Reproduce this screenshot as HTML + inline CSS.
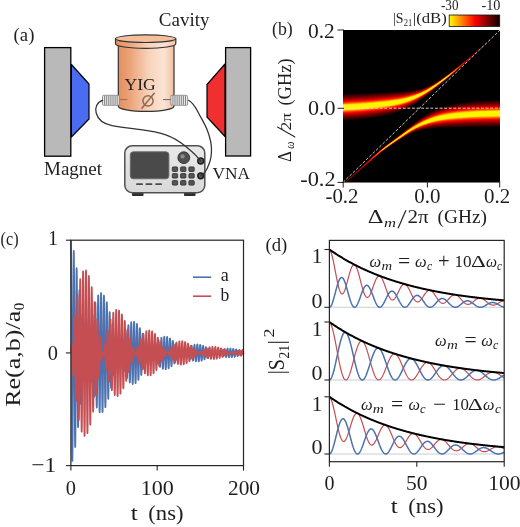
<!DOCTYPE html>
<html><head><meta charset="utf-8"><title>figure</title>
<style>html,body{margin:0;padding:0;background:#fff}svg{display:block}text{font-family:'Liberation Serif', 'DejaVu Serif', serif}</style></head>
<body>
<svg width="520" height="527" viewBox="0 0 520 527">
<rect width="520" height="527" fill="#fff"/>
<g id="pa">
<rect x="44.6" y="47.6" width="26.2" height="108.6" fill="#b9b9b9" stroke="#000" stroke-width="1.3"/>
<polygon points="71.4,64.5 89,84 89,119 71.4,137" fill="#4a6cf0" stroke="#000" stroke-width="1.2" stroke-linejoin="round"/>
<rect x="225.6" y="47.6" width="25" height="108.4" fill="#b9b9b9" stroke="#000" stroke-width="1.3"/>
<polygon points="225,64 207,84.5 207,117 225,136.5" fill="#f03030" stroke="#000" stroke-width="1.2" stroke-linejoin="round"/>
<defs><linearGradient id="cg" x1="0" x2="1" y1="0" y2="0"><stop offset="0" stop-color="#e48d5c"/><stop offset="0.22" stop-color="#eca57a"/><stop offset="0.55" stop-color="#f7d3bb"/><stop offset="0.82" stop-color="#fbe4d5"/><stop offset="1" stop-color="#f2c0a0"/></linearGradient></defs>
<path d="M118.3,44 L118.3,106.2 A27.85,5.2 0 0 0 174,106.2 L174,44 Z" fill="url(#cg)" stroke="#333" stroke-width="1.2" stroke-linejoin="round"/>
<path d="M115.5,38.7 L115.5,43.7 A30.15,4.7 0 0 0 175.8,43.7 L175.8,38.7 Z" fill="url(#cg)" stroke="#333" stroke-width="1.2" stroke-linejoin="round"/>
<ellipse cx="145.65" cy="38.7" rx="30.15" ry="3.8" fill="#f4c09c" stroke="#333" stroke-width="1.2"/>
<rect x="102.5" y="95.3" width="16.8" height="10" rx="1.2" fill="#ececec" stroke="#7a7a7a" stroke-width="0.8"/>
<line x1="104.6" y1="95.8" x2="104.6" y2="104.8" stroke="#808080" stroke-width="1"/>
<line x1="106.7" y1="95.8" x2="106.7" y2="104.8" stroke="#808080" stroke-width="1"/>
<line x1="108.8" y1="95.8" x2="108.8" y2="104.8" stroke="#808080" stroke-width="1"/>
<line x1="110.9" y1="95.8" x2="110.9" y2="104.8" stroke="#808080" stroke-width="1"/>
<line x1="113.0" y1="95.8" x2="113.0" y2="104.8" stroke="#808080" stroke-width="1"/>
<line x1="115.1" y1="95.8" x2="115.1" y2="104.8" stroke="#808080" stroke-width="1"/>
<line x1="117.2" y1="95.8" x2="117.2" y2="104.8" stroke="#808080" stroke-width="1"/>
<rect x="170.8" y="95.3" width="16.8" height="10" rx="1.2" fill="#ececec" stroke="#7a7a7a" stroke-width="0.8"/>
<line x1="172.9" y1="95.8" x2="172.9" y2="104.8" stroke="#808080" stroke-width="1"/>
<line x1="175.0" y1="95.8" x2="175.0" y2="104.8" stroke="#808080" stroke-width="1"/>
<line x1="177.1" y1="95.8" x2="177.1" y2="104.8" stroke="#808080" stroke-width="1"/>
<line x1="179.2" y1="95.8" x2="179.2" y2="104.8" stroke="#808080" stroke-width="1"/>
<line x1="181.3" y1="95.8" x2="181.3" y2="104.8" stroke="#808080" stroke-width="1"/>
<line x1="183.4" y1="95.8" x2="183.4" y2="104.8" stroke="#808080" stroke-width="1"/>
<line x1="185.5" y1="95.8" x2="185.5" y2="104.8" stroke="#808080" stroke-width="1"/>
<line x1="120" y1="99.6" x2="127.4" y2="99.6" stroke="#a06a48" stroke-width="1"/>
<line x1="163" y1="99.6" x2="170.8" y2="99.6" stroke="#666" stroke-width="1"/>
<circle cx="148" cy="100.8" r="5.1" fill="none" stroke="#8f6a55" stroke-width="1.5"/>
<line x1="141.5" y1="108.8" x2="154.6" y2="92.8" stroke="#8f6a55" stroke-width="1.5"/>
<defs><linearGradient id="vg" x1="0" x2="0" y1="0" y2="1"><stop offset="0" stop-color="#e9e9e9"/><stop offset="1" stop-color="#d9d9d9"/></linearGradient></defs>
<rect x="132" y="192.5" width="11.5" height="3.6" rx="0.8" fill="#2e2e2e"/>
<rect x="184" y="192.5" width="11.5" height="3.6" rx="0.8" fill="#2e2e2e"/>
<rect x="124.8" y="145.7" width="80" height="47" rx="7.5" fill="url(#vg)" stroke="#505050" stroke-width="1.5"/>
<rect x="130.3" y="151.8" width="38.6" height="27" rx="3" fill="#4a4a4a" stroke="#6a6a6a" stroke-width="0.9"/>
<circle cx="183.8" cy="157.7" r="5.9" fill="#4f4f4f" stroke="#2e2e2e" stroke-width="0.9"/>
<circle cx="182.6" cy="156.4" r="2.2" fill="#8a8a8a"/>
<rect x="172.3" y="166.9" width="5.3" height="4.6" rx="0.9" fill="#555" stroke="#333" stroke-width="0.9"/>
<rect x="180.6" y="166.9" width="5.3" height="4.6" rx="0.9" fill="#555" stroke="#333" stroke-width="0.9"/>
<rect x="188.9" y="166.9" width="5.3" height="4.6" rx="0.9" fill="#555" stroke="#333" stroke-width="0.9"/>
<rect x="172.3" y="173.6" width="5.3" height="4.5" rx="0.9" fill="#555" stroke="#333" stroke-width="0.9"/>
<rect x="180.6" y="173.6" width="5.3" height="4.5" rx="0.9" fill="#555" stroke="#333" stroke-width="0.9"/>
<rect x="188.9" y="173.6" width="5.3" height="4.5" rx="0.9" fill="#555" stroke="#333" stroke-width="0.9"/>
<rect x="172.3" y="180.6" width="5.3" height="4.5" rx="0.9" fill="#555" stroke="#333" stroke-width="0.9"/>
<rect x="180.6" y="180.6" width="5.3" height="4.5" rx="0.9" fill="#555" stroke="#333" stroke-width="0.9"/>
<rect x="188.9" y="180.6" width="5.3" height="4.5" rx="0.9" fill="#555" stroke="#333" stroke-width="0.9"/>
<rect x="136.2" y="183.2" width="6.7" height="1.9" rx="0.5" fill="#4a4a4a"/>
<rect x="145.6" y="183.2" width="6.7" height="1.9" rx="0.5" fill="#4a4a4a"/>
<rect x="155.3" y="183.2" width="6.6" height="1.9" rx="0.5" fill="#4a4a4a"/>
<circle cx="200.7" cy="161" r="2.9" fill="#5a5a5a" stroke="#1e1e1e" stroke-width="1.5"/>
<circle cx="200.7" cy="175.8" r="2.9" fill="#5a5a5a" stroke="#1e1e1e" stroke-width="1.5"/>
<path d="M102.6,100.3 C97,102 94.5,108 96.2,113 C98,120 104,124 112,125.6 C122,127.6 130,128.3 138.8,129.4 C149,130.7 158,132 165.8,134.8 C174,137.8 179,141 184.6,145.6 C190,150 193.5,153 196.7,156.4 L200.7,161" fill="none" stroke="#333" stroke-width="1.25" stroke-linecap="round"/>
<path d="M188.6,100.3 C193,103 195.5,107 198,112 C201.5,119 205,124 207.5,130.8 C210,137.5 211.5,143 211.5,149.6 C211.5,155 211,159 209.4,163 C208,167 206.5,170 204.8,172.5 L200.7,175.8" fill="none" stroke="#333" stroke-width="1.25" stroke-linecap="round"/>
<text x="13.6" y="40.8" font-size="18" fill="#1e1e1e" text-anchor="start" textLength="20.8" lengthAdjust="spacingAndGlyphs">(a)</text>
<text x="158.8" y="25.5" font-size="19" fill="#1e1e1e" text-anchor="start" textLength="50.7" lengthAdjust="spacingAndGlyphs">Cavity</text>
<text x="44.0" y="175.0" font-size="19" fill="#1e1e1e" text-anchor="start" textLength="58.0" lengthAdjust="spacingAndGlyphs">Magnet</text>
<text x="212.5" y="179.4" font-size="17.5" fill="#1e1e1e" text-anchor="start" textLength="37.5" lengthAdjust="spacingAndGlyphs">VNA</text>
<text x="124.6" y="89.7" font-size="16.5" fill="#222" text-anchor="start" textLength="31.2" lengthAdjust="spacingAndGlyphs">YIG</text>
</g>
<g id="pb">
<defs><clipPath id="hc"><rect x="343.0" y="30.0" width="157.0" height="152.4"/></clipPath><filter id="hb" x="-5%" y="-5%" width="110%" height="110%"><feGaussianBlur stdDeviation="0.55"/></filter></defs>
<rect x="343.0" y="30.0" width="157.0" height="152.4" fill="#000"/>
<g clip-path="url(#hc)"><g filter="url(#hb)">
<rect x="343.0" y="30.0" width="157.0" height="152.4" fill="#000"/>
<path d="M491.2,38.8 487.0,43.2 482.5,47.4 478.0,51.4 473.5,55.5 469.0,59.5 464.5,63.5 459.9,67.5 455.3,71.5 450.8,75.4 446.0,79.4 441.2,83.4 436.6,87.2 431.8,91.2 427.1,95.0 422.2,98.7 417.2,102.2 412.0,105.5 406.8,108.4 401.2,110.8 395.5,112.7 389.7,114.3 383.8,115.5 377.8,116.7 371.8,117.6 365.8,118.4 359.8,119.1 353.8,119.6 347.8,120.1 343.0,120.4 343.0,114.2 343.0,108.0 343.0,101.8 343.0,95.5 343.0,94.4 349.0,94.2 355.0,94.0 361.0,93.7 367.0,93.5 373.0,93.2 379.0,92.9 385.0,92.6 391.0,92.3 397.0,92.0 403.0,91.6 409.0,91.1 415.0,90.3 420.9,89.0 426.8,87.1 432.2,84.6 437.5,81.6 442.7,78.2 447.7,74.8 452.8,71.0 457.5,67.3 462.2,63.5 467.0,59.5 471.7,55.5 476.4,51.5 481.0,47.5 485.6,43.5 490.2,39.6 491.2,38.8ZM496.6,100.5 500.0,100.5 500.0,106.8 500.0,113.0 500.0,119.2 500.0,125.5 500.0,126.6 494.0,126.6 488.0,126.6 482.0,126.7 476.0,126.8 470.0,126.8 464.0,126.9 458.0,127.1 452.0,127.2 446.0,127.4 440.0,127.6 434.0,128.0 428.0,128.6 422.0,129.7 416.2,131.2 410.5,133.5 405.1,136.2 399.8,139.5 394.5,142.7 389.5,146.0 384.5,149.5 379.6,153.2 374.8,157.2 370.1,161.2 365.5,165.2 360.9,169.2 356.4,173.2 351.9,177.2 347.2,181.4 346.2,182.2 345.0,182.2 349.5,178.1 354.0,174.0 358.5,169.9 363.0,165.8 367.5,161.8 372.0,157.7 376.5,153.7 381.2,149.5 386.0,145.7 390.8,142.0 395.6,138.2 400.5,134.5 405.2,130.5 410.0,126.7 414.8,122.9 419.7,119.2 424.8,115.8 430.0,112.7 435.4,110.0 441.0,107.8 446.7,106.0 452.8,104.6 458.8,103.5 464.8,102.7 470.8,102.1 476.8,101.5 482.8,101.1 488.8,100.8 494.7,100.6 496.6,100.5Z" fill="#290000" fill-rule="evenodd"/>
<path d="M489.5,40.5 489.5,40.5ZM489.2,40.8 489.2,40.8ZM488.8,41.0 488.8,41.0ZM488.5,41.2 488.8,41.1 484.5,45.3 480.0,49.5 475.6,53.5 471.0,57.6 466.5,61.6 461.8,65.8 457.2,69.7 452.6,73.8 447.9,77.8 443.0,81.8 438.2,85.7 433.5,89.6 428.8,93.4 423.8,97.2 418.8,100.8 413.7,104.0 408.3,107.0 402.8,109.5 397.1,111.5 391.2,113.1 385.2,114.4 379.2,115.6 373.2,116.5 367.2,117.3 361.2,118.0 355.2,118.6 349.2,119.1 343.2,119.5 343.0,119.5 343.0,113.2 343.0,107.0 343.0,100.8 343.0,95.3 349.0,95.1 355.0,94.9 361.0,94.6 367.0,94.4 373.0,94.1 379.0,93.8 385.0,93.4 391.0,93.1 397.0,92.7 403.0,92.3 409.0,91.7 415.0,90.8 421.0,89.4 426.8,87.3 432.2,84.8 437.5,81.8 442.5,78.5 447.5,75.0 452.5,71.3 457.2,67.6 462.0,63.8 466.8,59.8 471.5,55.8 476.2,51.8 480.9,47.8 485.5,43.8 488.5,41.2ZM494.4,101.5 500.0,101.3 500.0,107.5 500.0,113.8 500.0,120.0 500.0,125.6 494.0,125.7 488.0,125.7 482.0,125.8 476.0,125.9 470.0,126.0 464.0,126.1 458.0,126.2 452.0,126.4 446.0,126.6 440.0,126.9 434.0,127.4 428.0,128.1 422.0,129.2 416.0,131.0 410.4,133.2 405.0,136.1 399.9,139.2 394.8,142.4 389.7,145.8 384.8,149.2 379.8,153.0 375.0,157.0 370.2,161.0 365.6,165.0 361.0,169.0 356.5,173.0 352.0,177.0 347.5,181.1 346.0,182.2 345.2,182.2 349.8,178.0 354.2,173.9 358.8,169.8 363.2,165.7 367.8,161.6 372.2,157.6 376.8,153.6 381.2,149.6 386.0,145.8 390.8,142.1 395.8,138.3 400.7,134.5 405.5,130.5 410.2,126.8 415.0,123.0 419.9,119.5 425.0,116.1 430.2,113.1 435.7,110.5 441.5,108.3 447.5,106.6 453.5,105.3 459.5,104.2 465.5,103.5 471.5,102.9 477.5,102.4 483.5,102.0 489.5,101.7 494.4,101.5Z" fill="#3d0000" fill-rule="evenodd"/>
<path d="M487.2,42.5 487.2,42.5ZM487.0,42.8 487.0,42.8ZM486.7,43.0 486.7,43.0ZM486.3,43.2 486.3,43.2ZM486.0,43.5 486.2,43.3 481.8,47.7 477.2,51.9 472.7,55.9 468.2,59.9 463.8,63.9 459.1,68.0 454.5,72.0 449.8,76.0 445.0,80.0 440.2,83.9 435.6,87.8 430.8,91.6 425.8,95.4 420.8,99.0 415.8,102.3 410.5,105.3 405.0,108.0 399.2,110.2 393.2,111.9 387.2,113.3 381.2,114.4 375.2,115.5 369.2,116.3 363.2,117.0 357.2,117.6 351.2,118.1 345.2,118.5 343.0,118.6 343.0,112.5 343.0,106.2 343.0,100.0 343.0,96.2 349.0,96.0 355.0,95.7 361.0,95.5 367.0,95.2 373.0,94.9 379.0,94.5 385.0,94.2 391.0,93.8 397.0,93.4 403.0,92.9 409.0,92.2 415.0,91.2 420.9,89.8 426.8,87.6 432.2,85.0 437.5,81.9 442.7,78.5 447.7,75.0 452.5,71.4 457.2,67.7 462.0,63.9 466.7,60.0 471.4,56.0 476.0,52.1 480.8,48.0 485.4,44.0 486.0,43.5ZM497.4,102.2 500.0,102.2 500.0,108.5 500.0,114.8 500.0,121.0 500.0,124.8 494.0,124.8 488.0,124.9 482.0,125.0 476.0,125.0 470.0,125.2 464.0,125.3 458.0,125.5 452.0,125.7 446.0,125.9 440.0,126.3 434.0,126.8 428.0,127.6 422.0,128.8 416.2,130.6 410.5,133.0 405.0,135.9 399.8,139.2 394.5,142.5 389.5,145.8 384.5,149.3 379.7,153.0 375.0,156.9 370.4,160.8 365.8,164.8 361.2,168.7 356.8,172.7 352.2,176.7 347.7,180.7 346.0,182.2 345.3,182.2 349.8,178.1 354.2,174.0 358.8,169.8 363.2,165.8 367.8,161.7 372.2,157.6 376.8,153.6 381.5,149.5 386.2,145.8 391.0,142.0 396.0,138.2 400.8,134.6 405.5,130.8 410.2,127.0 415.0,123.3 420.0,119.8 425.1,116.5 430.5,113.5 436.0,111.0 441.8,108.9 447.6,107.2 453.5,106.0 459.5,105.0 465.5,104.3 471.5,103.7 477.5,103.2 483.5,102.8 489.5,102.6 495.5,102.3 497.4,102.2Z" fill="#510000" fill-rule="evenodd"/>
<path d="M484.7,44.8 484.7,44.8ZM484.5,45.0 484.5,45.0ZM484.2,45.2 484.2,45.2ZM483.8,45.5 483.8,45.5ZM483.4,45.8 483.8,45.5 479.5,49.8 475.0,53.8 470.5,57.8 466.0,61.8 461.3,66.0 456.8,69.9 452.0,74.0 447.3,78.0 442.5,81.9 437.8,85.8 433.0,89.6 428.2,93.3 423.2,97.0 418.2,100.4 413.0,103.5 407.7,106.2 402.0,108.6 396.2,110.5 390.2,112.0 384.2,113.2 378.3,114.2 372.2,115.2 366.2,115.9 360.2,116.5 354.2,117.0 348.3,117.5 343.0,117.8 343.0,111.5 343.0,105.2 343.0,99.0 343.0,97.0 349.0,96.7 355.0,96.5 361.0,96.2 367.0,95.9 373.0,95.6 379.0,95.3 385.0,94.9 391.0,94.5 397.0,94.0 403.0,93.4 409.0,92.7 415.0,91.6 421.0,90.0 426.8,87.9 432.2,85.2 437.5,82.1 442.5,78.8 447.5,75.2 452.5,71.5 457.2,67.8 462.0,64.0 466.8,60.0 471.5,56.0 476.2,52.0 480.9,48.0 483.4,45.8ZM498.9,103.0 500.0,103.0 500.0,109.2 500.0,115.5 500.0,121.8 500.0,124.0 494.0,124.0 488.0,124.1 482.0,124.2 476.0,124.3 470.0,124.4 464.0,124.6 458.0,124.7 452.0,125.0 446.0,125.3 440.0,125.7 434.0,126.3 428.0,127.2 422.0,128.5 416.2,130.3 410.5,132.8 405.0,135.7 399.8,139.0 394.8,142.2 389.8,145.5 384.8,149.0 380.0,152.6 375.3,156.5 370.8,160.4 366.0,164.5 361.4,168.5 356.9,172.5 352.4,176.5 347.8,180.7 346.0,182.2 345.3,182.2 349.8,178.2 354.2,174.0 358.8,169.9 363.2,165.8 367.8,161.8 372.2,157.8 376.7,153.8 381.2,149.8 385.9,146.0 390.8,142.3 395.8,138.5 400.7,134.8 405.5,130.9 410.2,127.2 415.1,123.5 420.2,120.0 425.4,116.8 430.8,113.9 436.2,111.4 442.0,109.4 448.0,107.8 454.0,106.6 460.0,105.7 466.0,105.0 472.0,104.4 478.0,104.0 484.0,103.6 490.0,103.3 496.0,103.1 498.9,103.0Z" fill="#640000" fill-rule="evenodd"/>
<path d="M482.2,47.0 482.2,47.0ZM482.0,47.2 482.0,47.2ZM481.6,47.5 481.6,47.5ZM481.2,47.8 481.5,47.6 480.5,48.7 481.2,47.8ZM480.1,48.8 480.4,48.8 476.0,52.8 471.5,56.9 467.0,60.9 462.5,64.9 457.8,69.0 453.1,73.0 448.5,76.9 443.8,80.8 439.0,84.7 434.2,88.5 429.5,92.2 424.6,95.8 419.5,99.2 414.2,102.4 408.8,105.2 403.2,107.6 397.5,109.5 391.5,111.1 385.5,112.3 379.5,113.4 373.5,114.3 367.5,115.0 361.5,115.7 355.5,116.2 349.5,116.7 343.5,117.1 343.0,117.0 343.0,110.8 343.0,104.5 343.0,98.2 343.0,97.7 349.0,97.5 355.0,97.2 361.0,96.9 367.0,96.6 373.0,96.3 379.0,95.9 385.0,95.5 391.0,95.1 397.0,94.6 403.0,94.0 409.0,93.2 415.0,92.0 421.0,90.3 426.7,88.1 432.3,85.4 437.4,82.2 442.5,78.9 447.5,75.3 452.5,71.6 457.2,67.9 462.0,64.0 466.8,60.1 471.5,56.1 476.2,52.1 480.1,48.8ZM498.6,103.8 500.0,103.8 500.0,110.0 500.0,116.2 500.0,122.5 500.0,123.2 494.0,123.3 488.0,123.4 482.0,123.5 476.0,123.6 470.0,123.7 464.0,123.9 458.0,124.1 452.0,124.3 446.0,124.7 440.0,125.1 434.0,125.8 428.0,126.7 422.0,128.1 416.2,130.0 410.8,132.4 405.2,135.4 400.0,138.8 394.9,142.0 389.8,145.5 384.8,149.0 379.8,152.8 375.0,156.7 370.2,160.7 365.6,164.8 361.0,168.8 356.5,172.8 352.0,176.8 347.5,180.8 345.8,182.2 345.4,182.2 350.0,178.0 354.5,173.9 359.0,169.8 363.5,165.7 368.0,161.6 372.5,157.6 377.0,153.6 381.6,149.5 386.4,145.8 391.2,142.0 396.2,138.3 401.2,134.5 406.0,130.6 410.8,127.0 415.8,123.3 420.8,120.0 426.0,116.8 431.4,114.0 437.0,111.6 442.7,109.8 448.7,108.3 454.8,107.1 460.8,106.3 466.8,105.6 472.8,105.0 478.8,104.6 484.8,104.3 490.7,104.0 496.8,103.8 498.6,103.8Z" fill="#780000" fill-rule="evenodd"/>
<path d="M479.7,49.2 479.7,49.2ZM479.4,49.5 479.4,49.5ZM479.0,49.8 479.2,49.6 478.5,50.4 479.0,49.8ZM478.2,50.5 478.5,50.5 478.2,50.6 478.2,50.5ZM477.9,50.8 478.1,50.8 477.9,50.8ZM477.6,51.0 477.9,51.0 473.2,55.2 468.7,59.2 464.2,63.2 459.7,67.2 455.1,71.2 450.4,75.2 445.8,79.1 441.0,82.9 436.2,86.7 431.5,90.5 426.5,94.2 421.5,97.6 416.2,100.9 410.8,103.9 405.2,106.4 399.5,108.4 393.7,110.0 387.8,111.3 381.8,112.4 375.8,113.3 369.8,114.1 363.8,114.8 357.8,115.4 351.8,115.8 345.8,116.2 343.0,116.4 343.0,110.2 343.0,104.0 343.0,98.4 349.0,98.2 355.0,97.9 361.0,97.6 367.0,97.3 373.0,96.9 379.0,96.5 385.0,96.1 391.0,95.6 397.0,95.1 403.0,94.4 409.0,93.6 415.0,92.4 421.0,90.6 426.8,88.3 432.2,85.5 437.5,82.3 442.5,79.0 447.4,75.5 452.2,71.9 457.0,68.1 461.8,64.3 466.5,60.4 471.1,56.5 475.8,52.6 477.6,51.0ZM496.6,104.5 500.0,104.5 500.0,110.8 500.0,117.0 500.0,122.6 494.0,122.6 488.0,122.7 482.0,122.8 476.0,122.9 470.0,123.0 464.0,123.2 458.0,123.5 452.0,123.8 446.0,124.1 440.0,124.6 434.0,125.3 428.0,126.4 422.0,127.8 416.3,129.8 410.8,132.2 405.3,135.2 400.2,138.5 395.1,141.8 390.0,145.2 385.0,148.7 380.0,152.5 375.2,156.4 370.5,160.5 365.8,164.5 361.2,168.5 356.8,172.5 352.2,176.5 347.8,180.6 345.8,182.2 345.5,182.2 350.0,178.1 354.4,174.0 359.0,169.8 363.5,165.8 368.0,161.7 372.5,157.6 377.0,153.6 381.7,149.5 386.5,145.8 391.2,142.1 396.1,138.5 401.0,134.8 405.8,131.0 410.6,127.2 415.7,123.6 420.8,120.2 426.0,117.2 431.5,114.4 437.2,112.0 443.0,110.2 449.0,108.8 455.0,107.7 461.0,106.8 467.0,106.2 473.0,105.7 479.0,105.3 485.0,105.0 491.0,104.7 496.6,104.5Z" fill="#8c0000" fill-rule="evenodd"/>
<path d="M477.5,51.2 477.5,51.2ZM477.1,51.5 477.1,51.5ZM476.7,51.8 477.0,51.6 476.2,52.4 476.7,51.8ZM475.9,52.5 476.1,52.5 475.9,52.5ZM475.6,52.8 475.9,52.8 475.6,52.8ZM475.3,53.0 475.3,53.0ZM475.0,53.2 475.2,53.1 470.9,57.2 466.4,61.2 461.9,65.2 457.3,69.2 452.6,73.2 448.0,77.2 443.3,81.0 438.6,84.8 433.9,88.5 429.0,92.2 424.0,95.7 418.9,99.0 413.7,102.0 408.2,104.7 402.5,107.0 396.7,108.7 390.8,110.1 384.8,111.3 378.8,112.3 372.8,113.2 366.8,113.9 360.8,114.5 354.8,115.0 348.8,115.4 343.0,115.8 343.0,109.5 343.0,103.2 343.0,99.0 349.0,98.8 355.0,98.5 361.0,98.2 367.0,97.9 373.0,97.5 379.0,97.1 385.0,96.7 391.0,96.2 397.0,95.6 403.0,94.9 409.0,94.0 415.0,92.7 420.8,91.0 426.5,88.6 432.0,85.8 437.2,82.6 442.2,79.3 447.1,75.8 452.0,72.1 456.8,68.4 461.5,64.6 466.1,60.8 470.8,56.8 475.0,53.2ZM493.3,105.2 499.5,105.1 500.0,105.0 500.0,111.2 500.0,117.5 500.0,121.9 494.0,122.0 488.0,122.1 482.0,122.2 476.0,122.3 470.0,122.4 464.0,122.6 458.0,122.9 452.0,123.2 446.0,123.6 440.0,124.1 434.0,124.9 428.0,126.0 422.1,127.5 416.3,129.5 410.9,132.0 405.5,135.0 400.4,138.2 395.4,141.5 390.2,145.0 385.2,148.5 380.2,152.2 375.5,156.2 370.8,160.2 366.0,164.2 361.5,168.2 357.0,172.2 352.5,176.2 349.8,178.6 354.2,174.2 358.8,170.1 363.2,166.0 367.8,162.0 372.2,157.9 376.8,153.9 381.5,149.8 386.2,146.0 391.0,142.4 395.8,138.8 400.8,135.1 405.5,131.3 410.5,127.5 415.5,124.0 420.5,120.7 425.8,117.6 431.2,114.9 437.0,112.6 442.8,110.8 448.8,109.4 454.8,108.3 460.8,107.5 466.8,106.8 472.8,106.3 478.8,105.9 484.8,105.6 490.8,105.3 493.3,105.2ZM349.4,178.8 349.6,178.8 349.4,178.8ZM349.1,179.0 349.2,178.9 349.2,179.1 349.1,179.0ZM348.8,179.2 349.0,179.1 349.0,179.3 348.8,179.2ZM348.5,179.5 348.8,179.3 348.8,179.6 348.5,179.5ZM348.2,179.8 348.5,179.5 347.8,180.5 348.2,179.8ZM347.4,180.5 347.7,180.5 347.5,180.6 347.4,180.5ZM347.2,180.8 347.4,180.8 347.2,180.8ZM346.9,181.0 347.1,181.0 346.9,181.0ZM346.7,181.2 346.7,181.2ZM346.4,181.5 346.4,181.5ZM346.2,181.8 346.2,181.8ZM345.9,182.0 345.9,182.0ZM345.6,182.2 345.6,182.2Z" fill="#a00000" fill-rule="evenodd"/>
<path d="M475.2,53.2 475.2,53.2ZM474.7,53.5 475.0,53.5 474.2,54.1 474.7,53.5ZM473.9,54.2 474.2,54.2 473.9,54.2ZM473.7,54.5 473.9,54.5 473.7,54.5ZM473.4,54.8 473.4,54.8ZM473.0,55.0 473.2,54.8 468.9,59.0 464.4,63.0 459.8,67.0 455.2,71.0 450.5,75.0 445.7,78.9 441.0,82.7 436.3,86.5 431.4,90.2 426.5,93.8 421.5,97.1 416.4,100.2 411.0,103.1 405.3,105.5 399.5,107.5 393.7,109.0 387.8,110.2 381.8,111.3 375.8,112.2 369.8,113.0 363.8,113.6 357.8,114.2 351.8,114.6 345.8,115.0 343.0,115.2 343.0,109.0 343.0,102.8 343.0,99.6 349.0,99.4 355.0,99.1 361.0,98.8 367.0,98.5 373.0,98.1 379.0,97.7 385.0,97.2 391.0,96.7 397.0,96.1 403.0,95.3 409.0,94.3 415.0,93.0 420.8,91.2 426.5,88.8 431.9,86.0 437.2,82.8 442.2,79.3 447.2,75.8 452.2,72.0 457.0,68.3 461.7,64.5 466.5,60.5 471.2,56.5 473.0,55.0ZM496.1,105.8 500.0,105.8 500.0,112.0 500.0,118.2 500.0,121.3 494.0,121.4 488.0,121.5 482.0,121.6 476.0,121.7 470.0,121.9 464.0,122.1 458.0,122.4 452.0,122.7 446.0,123.1 440.0,123.7 434.0,124.5 428.0,125.7 422.0,127.2 416.2,129.3 410.8,131.9 405.5,134.9 400.3,138.2 395.2,141.5 390.2,144.9 385.2,148.4 380.2,152.2 375.5,156.1 370.9,160.0 366.3,164.0 361.8,168.0 357.2,172.0 353.0,175.7 357.3,171.5 361.8,167.4 366.2,163.3 370.8,159.3 375.3,155.3 379.8,151.2 384.5,147.4 389.3,143.8 394.3,140.0 399.2,136.3 404.0,132.6 409.0,128.8 413.9,125.2 419.0,121.9 424.2,118.8 429.6,116.0 435.2,113.6 441.0,111.7 446.9,110.2 453.0,109.1 459.0,108.2 465.0,107.5 471.0,107.0 477.0,106.6 483.0,106.3 489.0,106.0 495.0,105.8 496.1,105.8ZM352.7,175.8 353.0,175.8 352.8,175.9 352.7,175.8ZM352.4,176.0 352.6,176.0 352.4,176.0ZM352.2,176.2 352.4,176.2 352.2,176.2ZM351.9,176.5 351.9,176.5ZM351.6,176.8 351.6,176.8ZM351.3,177.0 351.5,176.9 351.5,177.1 351.3,177.0ZM351.0,177.2 351.2,177.0 350.5,177.9 351.0,177.2ZM350.2,178.0 350.4,178.0 350.2,178.0ZM350.0,178.2 350.0,178.2ZM349.7,178.5 349.7,178.5ZM349.5,178.8 349.5,178.8ZM349.2,179.0 349.2,179.0ZM349.0,179.2 349.0,179.2ZM348.7,179.5 348.7,179.5ZM348.4,179.8 348.4,179.8ZM348.0,180.0 348.2,180.0 348.0,180.0Z" fill="#b40000" fill-rule="evenodd"/>
<path d="M472.7,55.2 473.0,55.3 472.3,55.9 472.7,55.2ZM472.0,56.0 472.2,56.0 472.0,56.0ZM471.7,56.2 471.7,56.2ZM471.4,56.5 471.4,56.5ZM471.0,56.8 471.2,56.6 466.9,60.8 462.3,64.8 457.8,68.7 453.1,72.8 448.5,76.6 443.8,80.5 439.0,84.2 434.2,87.9 429.2,91.7 424.2,95.1 419.0,98.5 413.8,101.4 408.2,104.0 402.5,106.2 396.5,107.9 390.5,109.2 384.5,110.4 378.5,111.3 372.5,112.1 366.5,112.8 360.5,113.4 354.5,113.9 348.5,114.3 343.0,114.6 343.0,108.5 343.0,102.2 343.0,100.2 349.0,99.9 355.0,99.6 361.0,99.3 367.0,99.0 373.0,98.6 379.0,98.2 385.0,97.7 391.0,97.1 397.0,96.5 403.0,95.7 409.0,94.7 415.0,93.3 420.8,91.4 426.5,89.0 432.0,86.1 437.2,82.8 442.2,79.4 447.2,75.8 452.2,72.1 457.0,68.3 461.7,64.5 466.5,60.6 471.0,56.8ZM497.8,106.2 500.0,106.2 500.0,112.5 500.0,118.8 500.0,120.8 494.0,120.8 488.0,120.9 482.0,121.0 476.0,121.2 470.0,121.4 464.0,121.6 458.0,121.9 452.0,122.2 446.0,122.7 440.0,123.3 434.0,124.1 428.0,125.3 422.0,127.0 416.2,129.1 410.8,131.7 405.5,134.7 400.2,138.2 395.1,141.5 390.0,145.0 385.1,148.5 380.2,152.1 375.6,156.0 371.0,159.9 366.2,164.0 361.7,168.0 357.2,171.9 357.1,171.8 361.5,167.7 366.0,163.6 370.5,159.6 375.0,155.6 379.6,151.5 384.2,147.7 389.0,144.0 394.0,140.3 399.0,136.6 403.8,132.9 408.6,129.2 413.5,125.8 418.5,122.4 423.8,119.3 429.3,116.5 435.0,114.1 440.8,112.2 446.7,110.8 452.8,109.6 458.7,108.8 464.8,108.1 470.8,107.5 476.8,107.1 482.8,106.8 488.8,106.6 494.8,106.3 497.8,106.2ZM356.8,172.0 357.0,171.8 357.0,172.1 356.8,172.0ZM356.5,172.2 356.8,172.0 355.8,173.2 356.5,172.2ZM355.4,173.2 355.7,173.2 355.5,173.4 355.4,173.2ZM355.2,173.5 355.4,173.5 355.2,173.5ZM354.9,173.8 354.9,173.8ZM354.7,174.0 354.7,174.0ZM354.4,174.2 354.4,174.2ZM354.1,174.5 354.1,174.5ZM353.7,174.8 354.0,174.6 353.7,174.8ZM353.0,175.5 353.0,175.5ZM352.7,175.8 352.7,175.8ZM352.5,176.0 352.5,176.0ZM352.2,176.2 352.2,176.2ZM352.0,176.5 352.0,176.5ZM351.7,176.8 351.7,176.8Z" fill="#c80000" fill-rule="evenodd"/>
<path d="M470.7,57.0 471.0,57.0 470.5,57.2 470.7,57.0ZM470.0,57.8 470.1,57.8 470.0,57.8ZM469.7,58.0 469.7,58.0ZM469.3,58.2 469.3,58.2ZM469.0,58.5 469.2,58.3 464.9,62.5 460.3,66.5 455.7,70.5 451.0,74.5 446.2,78.4 441.5,82.2 436.8,85.9 431.8,89.7 426.8,93.2 421.8,96.6 416.5,99.7 411.0,102.4 405.4,104.8 399.5,106.7 393.5,108.2 387.5,109.4 381.5,110.4 375.5,111.3 369.5,112.0 363.5,112.6 357.5,113.1 351.5,113.6 345.5,114.0 343.0,114.1 343.0,108.0 343.0,101.8 343.0,100.7 349.0,100.4 355.0,100.1 361.0,99.8 367.0,99.5 373.0,99.1 379.0,98.6 385.0,98.1 391.0,97.6 397.0,96.9 403.0,96.1 409.0,95.0 415.0,93.5 420.8,91.6 426.3,89.2 431.8,86.4 437.0,83.1 442.0,79.7 447.0,76.1 452.0,72.3 456.8,68.6 461.5,64.8 466.2,60.8 469.0,58.5ZM498.3,106.8 500.0,106.8 500.0,113.0 500.0,119.2 500.0,120.2 494.0,120.3 488.0,120.4 482.0,120.5 476.0,120.7 470.0,120.9 464.0,121.1 458.0,121.4 452.0,121.8 446.0,122.3 440.0,122.9 434.0,123.8 428.0,125.1 422.0,126.8 416.2,128.9 410.8,131.6 405.5,134.6 400.4,138.0 395.2,141.3 390.3,144.8 385.3,148.2 380.5,151.9 375.8,155.8 371.2,159.6 366.5,163.7 361.9,167.8 360.2,169.2 364.8,164.8 369.2,160.8 373.7,156.8 378.2,152.8 382.9,148.8 387.8,145.0 392.8,141.3 397.8,137.6 402.8,133.8 407.8,130.0 412.6,126.5 417.8,123.1 423.0,120.0 428.3,117.2 434.0,114.8 439.8,112.9 445.8,111.4 451.8,110.2 457.8,109.3 463.8,108.6 469.8,108.1 475.8,107.7 481.8,107.4 487.8,107.1 493.8,106.9 498.3,106.8ZM359.9,169.2 360.1,169.2 359.9,169.2ZM359.6,169.5 359.9,169.5 359.6,169.5ZM359.3,169.8 359.5,169.6 359.5,169.8 359.3,169.8ZM359.0,170.0 359.2,169.8 358.2,170.9 359.0,170.0ZM357.9,171.0 358.2,171.0 357.9,171.0ZM357.7,171.2 357.8,171.2 357.7,171.2ZM357.4,171.5 357.4,171.5ZM357.2,171.8 357.2,171.8ZM356.9,172.0 356.9,172.0ZM356.6,172.2 356.6,172.2ZM356.2,172.5 356.5,172.5 356.0,172.9 356.2,172.5ZM355.7,173.0 355.9,173.0 355.7,173.0ZM355.5,173.2 355.5,173.2ZM355.2,173.5 355.2,173.5Z" fill="#dc0000" fill-rule="evenodd"/>
<path d="M468.7,58.8 469.0,58.8 468.5,59.0 468.7,58.8ZM467.9,59.5 467.9,59.5ZM467.6,59.8 467.6,59.8ZM467.2,60.0 467.5,59.9 463.1,64.0 458.5,68.0 453.8,72.0 449.2,75.9 444.5,79.7 439.8,83.5 435.0,87.2 430.1,90.8 425.1,94.2 419.9,97.5 414.5,100.5 409.0,103.0 403.2,105.2 397.2,106.9 391.3,108.2 385.2,109.4 379.2,110.3 373.2,111.1 367.2,111.8 361.2,112.4 355.2,112.8 349.2,113.3 343.2,113.6 343.0,113.7 343.0,107.5 343.0,101.2 349.0,100.9 355.0,100.6 361.0,100.3 367.0,99.9 373.0,99.5 379.0,99.0 385.0,98.5 391.0,97.9 397.0,97.3 403.0,96.4 409.0,95.3 415.0,93.8 420.8,91.8 426.2,89.4 431.7,86.5 436.9,83.2 442.0,79.8 447.0,76.1 451.8,72.5 456.6,68.8 461.5,64.8 466.2,60.9 467.2,60.0ZM497.5,107.2 500.0,107.2 500.0,113.5 500.0,119.8 494.0,119.8 488.0,119.9 482.0,120.1 476.0,120.2 470.0,120.4 464.0,120.7 458.0,121.0 452.0,121.4 446.0,121.9 440.0,122.5 434.0,123.5 428.1,124.8 422.2,126.5 416.5,128.7 411.0,131.3 405.8,134.4 400.6,137.8 395.5,141.1 390.5,144.5 385.6,148.0 380.8,151.6 376.1,155.5 371.5,159.4 366.8,163.5 362.8,166.9 367.1,162.8 371.8,158.5 376.2,154.5 380.9,150.5 385.8,146.6 390.8,142.8 395.8,139.1 400.7,135.5 405.5,131.8 410.5,128.1 415.5,124.7 420.7,121.5 426.0,118.6 431.5,116.1 437.2,114.0 443.2,112.3 449.2,111.1 455.2,110.1 461.2,109.3 467.2,108.8 473.2,108.3 479.2,108.0 485.2,107.7 491.2,107.4 497.2,107.3 497.5,107.2ZM362.4,167.0 362.7,167.0 362.4,167.0ZM362.1,167.2 362.4,167.2 362.1,167.2ZM361.9,167.5 361.9,167.5ZM361.5,167.8 361.8,167.6 360.8,168.7 361.5,167.8ZM360.5,168.8 360.7,168.8 360.5,168.8ZM360.2,169.0 360.2,169.0ZM360.0,169.2 360.0,169.2ZM359.7,169.5 359.7,169.5ZM359.4,169.8 359.4,169.8ZM359.2,170.0 359.2,170.0ZM358.7,170.2 359.0,170.3 358.5,170.5 358.7,170.2Z" fill="#f00000" fill-rule="evenodd"/>
<path d="M467.0,60.2 466.8,60.8 466.5,60.7 467.0,60.2ZM466.2,61.0 466.4,61.0 466.2,61.0ZM465.9,61.2 465.9,61.2ZM465.5,61.5 465.8,61.5 461.2,65.6 456.5,69.7 451.8,73.7 447.0,77.7 442.2,81.4 437.5,85.1 432.5,88.9 427.5,92.5 422.2,95.9 417.0,98.9 411.5,101.7 405.8,104.0 400.0,105.9 394.0,107.3 388.1,108.5 382.0,109.5 376.0,110.4 370.0,111.1 364.0,111.7 358.0,112.2 352.0,112.6 346.0,113.0 343.0,113.2 343.0,107.0 343.0,101.6 349.0,101.3 355.0,101.0 361.0,100.7 367.0,100.3 373.0,99.9 379.0,99.4 385.0,98.9 391.0,98.3 397.0,97.6 403.0,96.7 409.0,95.6 415.0,94.0 420.7,92.0 426.2,89.6 431.8,86.6 437.0,83.3 442.0,79.8 446.9,76.2 451.8,72.6 456.5,68.9 461.2,65.0 465.5,61.5ZM495.5,107.8 500.0,107.6 500.0,113.8 500.0,119.3 494.0,119.4 488.0,119.5 482.0,119.6 476.0,119.8 470.0,120.0 464.0,120.3 458.0,120.6 452.0,121.0 446.0,121.5 440.0,122.2 434.0,123.2 428.1,124.5 422.2,126.2 416.5,128.5 411.0,131.2 405.8,134.2 400.8,137.6 395.6,141.0 390.5,144.5 385.5,148.0 380.5,151.8 375.8,155.7 371.0,159.8 366.4,163.8 365.0,164.9 369.3,160.8 374.0,156.6 378.5,152.6 383.2,148.6 388.2,144.8 393.2,141.0 398.2,137.4 403.1,133.8 408.0,130.0 413.0,126.5 418.1,123.2 423.3,120.2 428.8,117.6 434.5,115.3 440.2,113.4 446.2,112.0 452.2,110.9 458.2,110.1 464.2,109.4 470.2,108.9 476.2,108.6 482.2,108.2 488.2,108.0 494.2,107.8 495.5,107.8ZM364.7,165.0 364.9,165.0 364.7,165.0ZM364.4,165.2 364.4,165.2ZM364.1,165.5 364.1,165.5ZM363.7,165.8 364.0,165.6 363.7,165.8ZM362.7,166.8 362.9,166.8 362.7,166.8ZM362.5,167.0 362.5,167.0ZM362.2,167.2 362.2,167.2ZM362.0,167.5 362.0,167.5ZM361.7,167.8 361.7,167.8ZM361.3,168.0 361.3,168.0Z" fill="#ff0500" fill-rule="evenodd"/>
<path d="M465.0,62.0 465.2,62.0 464.8,62.4 465.0,62.0ZM464.5,62.5 464.7,62.5 464.5,62.5ZM464.1,62.8 464.1,62.8ZM463.7,63.0 464.0,63.0 459.5,67.1 454.9,71.0 450.2,74.9 445.6,78.8 440.8,82.5 436.0,86.2 431.0,89.9 426.0,93.4 420.8,96.6 415.2,99.7 409.8,102.2 404.0,104.3 398.0,106.1 392.0,107.4 386.0,108.5 380.0,109.4 374.0,110.2 368.0,110.9 362.0,111.5 356.0,112.0 350.0,112.4 344.0,112.7 343.0,112.8 343.0,106.5 343.0,102.0 349.0,101.7 355.0,101.4 361.0,101.1 367.0,100.7 373.0,100.3 379.0,99.8 385.0,99.3 391.0,98.7 397.0,97.9 403.0,97.0 409.0,95.8 414.9,94.2 420.6,92.2 426.2,89.8 431.5,86.8 436.7,83.5 441.8,80.1 446.6,76.5 451.5,72.8 456.2,69.1 461.0,65.3 463.7,63.0ZM492.5,108.2 498.8,108.1 500.0,108.0 500.0,114.2 500.0,118.9 494.0,119.0 488.0,119.1 482.0,119.2 476.0,119.4 470.0,119.6 464.0,119.9 458.0,120.2 452.0,120.6 446.0,121.2 440.0,121.9 434.0,122.9 428.0,124.3 422.2,126.1 416.5,128.3 411.0,131.1 405.8,134.2 400.8,137.5 395.5,141.0 390.5,144.4 385.5,148.0 380.5,151.7 375.8,155.7 371.0,159.7 367.2,162.9 371.6,158.8 376.1,154.8 380.7,150.8 385.5,146.9 390.3,143.2 395.2,139.6 400.2,136.0 405.1,132.2 410.0,128.7 415.0,125.3 420.2,122.1 425.7,119.2 431.2,116.8 437.0,114.7 443.0,113.1 449.0,111.8 455.0,110.9 461.0,110.2 467.0,109.6 473.0,109.1 479.0,108.8 485.0,108.5 491.0,108.3 492.5,108.2ZM366.9,163.0 367.2,163.0 366.9,163.0ZM366.7,163.2 366.7,163.2ZM366.4,163.5 366.4,163.5ZM366.0,163.8 366.2,163.6 366.0,163.8ZM365.0,164.8 365.0,164.8ZM364.7,165.0 364.7,165.0ZM364.5,165.2 364.5,165.2ZM364.2,165.5 364.2,165.5Z" fill="#ff1900" fill-rule="evenodd"/>
<path d="M463.2,63.5 463.4,63.5 463.0,63.9 463.2,63.5ZM462.7,64.0 463.0,64.0 462.7,64.0ZM462.3,64.2 462.3,64.2ZM462.0,64.5 462.2,64.3 457.8,68.5 453.1,72.5 448.5,76.4 443.8,80.2 439.0,83.8 434.2,87.5 429.3,91.0 424.2,94.4 419.0,97.5 413.6,100.2 408.0,102.7 402.2,104.6 396.2,106.2 390.2,107.4 384.2,108.5 378.2,109.3 372.2,110.1 366.2,110.7 360.3,111.2 354.2,111.7 348.2,112.1 343.0,112.4 343.0,106.2 343.0,102.4 349.0,102.1 355.0,101.8 361.0,101.5 367.0,101.1 373.0,100.7 379.0,100.2 385.0,99.6 391.0,99.0 397.0,98.2 403.0,97.3 409.0,96.1 415.0,94.4 420.8,92.3 426.2,89.8 431.7,86.8 436.9,83.5 441.9,80.0 447.0,76.3 452.0,72.5 456.7,68.8 461.5,64.9 462.0,64.5ZM497.1,108.5 500.0,108.5 500.0,114.8 500.0,118.5 494.0,118.6 488.0,118.7 482.0,118.9 476.0,119.0 470.0,119.2 464.0,119.5 458.0,119.9 452.0,120.3 446.0,120.9 440.0,121.6 434.0,122.7 428.0,124.1 422.2,125.9 416.5,128.2 411.0,131.0 405.8,134.1 400.8,137.5 395.5,140.9 390.5,144.4 385.5,148.0 380.5,151.7 375.8,155.7 371.0,159.6 369.2,161.1 373.6,157.0 378.1,153.0 382.8,149.0 387.7,145.2 392.5,141.7 397.5,138.0 402.5,134.3 407.5,130.6 412.5,127.1 417.8,123.8 423.0,120.8 428.5,118.1 434.2,115.9 440.0,114.1 446.0,112.7 452.0,111.7 458.0,110.8 464.0,110.2 470.0,109.7 476.0,109.3 482.0,109.0 488.0,108.8 494.0,108.6 497.1,108.5ZM368.9,161.2 369.1,161.2 368.9,161.2ZM368.6,161.5 368.6,161.5ZM368.3,161.8 368.3,161.8ZM368.0,162.0 368.2,161.8 367.5,162.7 368.0,162.0ZM367.2,162.8 367.4,162.8 367.2,162.8ZM367.0,163.0 367.0,163.0ZM366.7,163.2 366.7,163.2Z" fill="#ff2d00" fill-rule="evenodd"/>
<path d="M461.5,65.0 461.7,65.0 461.2,65.2 461.5,65.0ZM460.9,65.5 460.9,65.5ZM460.5,65.8 460.8,65.8 456.2,69.8 451.6,73.8 446.8,77.7 442.0,81.5 437.1,85.2 432.2,88.8 427.3,92.2 422.2,95.5 416.8,98.5 411.2,101.1 405.5,103.3 399.8,105.1 393.8,106.5 387.8,107.6 381.8,108.5 375.8,109.3 369.8,110.0 363.8,110.6 357.8,111.1 351.8,111.5 345.8,111.9 343.0,112.0 343.0,105.8 343.1,102.8 349.2,102.5 355.2,102.2 361.2,101.8 367.2,101.4 373.2,101.0 379.2,100.5 385.2,99.9 391.2,99.2 397.2,98.5 403.2,97.5 409.1,96.2 415.0,94.6 420.7,92.5 426.2,89.9 431.5,87.0 436.6,83.8 441.7,80.2 446.5,76.7 451.4,73.0 456.1,69.2 460.5,65.8ZM492.0,109.0 498.2,108.8 500.0,108.8 500.0,115.0 500.0,118.2 494.0,118.3 488.0,118.4 482.0,118.5 476.0,118.7 470.0,118.9 464.0,119.2 458.0,119.5 452.0,120.0 446.0,120.6 440.0,121.3 434.0,122.4 428.0,123.9 422.2,125.7 416.7,128.0 411.2,130.7 406.0,133.9 401.0,137.2 396.0,140.5 391.0,144.0 386.1,147.5 381.2,151.1 376.5,155.0 371.8,159.0 371.2,159.4 375.6,155.2 380.2,151.2 385.0,147.3 390.0,143.6 394.9,140.0 399.8,136.5 404.7,132.8 409.8,129.1 414.7,125.8 420.0,122.6 425.4,119.8 431.0,117.3 436.7,115.3 442.8,113.7 448.7,112.5 454.8,111.6 460.8,110.9 466.8,110.3 472.8,109.9 478.8,109.5 484.8,109.3 490.8,109.0 492.0,109.0ZM370.9,159.5 371.1,159.5 370.9,159.5ZM370.6,159.8 370.6,159.8ZM370.2,160.0 370.5,160.0 369.8,160.5 370.2,160.0ZM369.2,161.0 369.2,161.0ZM369.0,161.2 369.0,161.2Z" fill="#ff4100" fill-rule="evenodd"/>
<path d="M460.0,66.2 460.1,66.2 459.8,66.5 460.0,66.2ZM459.0,67.0 459.2,67.1 454.8,71.0 450.0,75.0 445.2,78.9 440.5,82.6 435.7,86.2 430.8,89.8 425.8,93.2 420.5,96.3 415.0,99.2 409.5,101.6 403.8,103.7 397.8,105.3 391.8,106.6 385.8,107.6 379.8,108.5 373.8,109.3 367.8,109.9 361.8,110.5 355.8,110.9 349.8,111.3 343.8,111.7 343.0,111.7 343.0,105.5 343.0,103.1 349.0,102.8 355.0,102.5 361.0,102.1 367.0,101.8 373.0,101.3 379.0,100.8 385.0,100.2 391.0,99.5 397.0,98.8 403.0,97.8 408.9,96.5 414.8,94.8 420.5,92.8 426.0,90.2 431.2,87.3 436.4,84.0 441.4,80.5 446.2,76.9 451.1,73.2 455.9,69.5 459.0,67.0ZM494.7,109.2 500.0,109.1 500.0,115.2 500.0,117.8 494.0,117.9 488.0,118.0 482.0,118.2 476.0,118.4 470.0,118.6 464.0,118.9 458.0,119.2 452.0,119.7 446.0,120.3 440.0,121.1 434.0,122.2 428.0,123.7 422.2,125.6 416.5,128.0 411.1,130.8 405.8,134.0 400.8,137.3 395.8,140.7 390.8,144.1 385.8,147.7 380.8,151.4 376.0,155.4 373.2,157.7 377.6,153.5 382.2,149.5 387.0,145.8 391.8,142.2 396.8,138.7 401.8,135.0 406.8,131.3 411.8,127.8 416.9,124.5 422.2,121.5 427.8,118.9 433.5,116.6 439.2,114.8 445.2,113.4 451.2,112.4 457.2,111.5 463.2,110.9 469.2,110.4 475.2,110.0 481.2,109.7 487.2,109.5 493.2,109.3 494.7,109.2ZM372.9,157.8 373.2,157.8 372.9,157.8ZM372.6,158.0 372.6,158.0ZM372.2,158.2 372.5,158.3 371.8,158.7 372.2,158.2ZM371.2,159.2 371.2,159.2Z" fill="#ff5500" fill-rule="evenodd"/>
<path d="M458.5,67.5 458.2,68.0 458.0,68.0 458.5,67.5ZM457.5,68.2 457.8,68.3 453.0,72.5 448.2,76.4 443.5,80.2 438.6,84.0 433.8,87.6 428.8,91.1 423.5,94.5 418.2,97.4 412.8,100.1 407.0,102.4 401.2,104.2 395.2,105.6 389.2,106.8 383.2,107.7 377.2,108.6 371.2,109.3 365.2,109.9 359.2,110.4 353.2,110.8 347.2,111.2 343.0,111.4 343.0,105.2 343.0,103.4 349.0,103.1 355.0,102.8 361.0,102.4 367.0,102.0 373.0,101.6 379.0,101.1 385.0,100.5 391.0,99.8 397.0,99.0 402.9,98.0 409.0,96.7 414.8,95.0 420.5,92.9 426.0,90.3 431.2,87.3 436.5,84.0 441.4,80.5 446.5,76.8 451.5,73.0 456.2,69.2 457.5,68.2ZM496.8,109.5 500.0,109.5 500.0,115.8 500.0,117.5 494.0,117.6 488.0,117.7 482.0,117.9 476.0,118.1 470.0,118.3 464.0,118.6 458.0,119.0 452.0,119.4 446.0,120.1 440.0,120.9 434.0,122.0 428.1,123.5 422.2,125.4 416.7,127.8 411.4,130.5 406.0,133.7 401.0,137.1 396.0,140.5 391.0,143.9 386.0,147.5 381.0,151.2 376.2,155.1 375.0,156.1 379.4,152.0 384.2,148.0 389.2,144.2 394.2,140.5 399.2,137.0 404.0,133.4 409.0,129.8 414.0,126.4 419.2,123.3 424.8,120.4 430.3,118.0 435.9,116.0 441.8,114.4 447.8,113.2 453.8,112.3 459.8,111.5 465.8,111.0 471.8,110.5 477.8,110.2 483.8,109.9 489.8,109.7 495.8,109.5 496.8,109.5ZM374.6,156.2 374.6,156.2ZM374.2,156.5 374.5,156.5 373.5,157.5 373.2,157.5 374.2,156.5Z" fill="#ff6900" fill-rule="evenodd"/>
<path d="M457.0,68.8 457.2,68.8 452.6,72.8 448.0,76.6 443.2,80.4 438.3,84.2 433.2,87.9 428.2,91.4 423.0,94.7 417.8,97.6 412.2,100.2 406.5,102.4 400.8,104.1 394.8,105.5 388.8,106.6 382.8,107.5 376.8,108.4 370.8,109.1 364.8,109.6 358.8,110.1 352.8,110.6 346.8,110.9 343.0,111.2 343.0,105.0 343.0,103.7 349.0,103.4 355.0,103.1 361.0,102.7 367.0,102.3 373.0,101.8 379.0,101.3 385.0,100.7 391.0,100.0 397.0,99.2 403.0,98.2 409.0,96.8 415.0,95.1 420.8,92.9 426.2,90.2 431.5,87.3 436.8,83.8 441.8,80.3 446.6,76.8 451.5,73.0 456.2,69.3 457.0,68.8ZM498.3,109.8 500.0,109.8 500.0,116.0 500.0,117.2 494.0,117.3 488.0,117.5 482.0,117.6 476.0,117.8 470.0,118.0 464.0,118.3 458.0,118.7 452.0,119.2 446.0,119.8 440.0,120.7 434.0,121.8 428.0,123.4 422.2,125.3 416.5,127.7 411.0,130.6 405.9,133.8 400.8,137.2 395.8,140.6 390.8,144.0 385.8,147.7 380.9,151.2 376.8,154.6 381.1,150.5 385.9,146.8 390.8,143.1 395.7,139.5 400.6,136.0 405.5,132.3 410.5,128.8 415.7,125.5 420.9,122.5 426.5,119.8 432.1,117.5 438.0,115.6 444.0,114.1 450.0,113.1 456.0,112.2 462.0,111.6 468.0,111.1 474.0,110.7 480.0,110.4 486.0,110.1 492.0,109.9 498.0,109.8 498.3,109.8ZM376.3,154.8 376.3,154.8ZM376.0,155.0 376.2,154.8 375.5,155.8 375.2,155.7 376.0,155.0Z" fill="#ff7d00" fill-rule="evenodd"/>
<path d="M455.7,69.8 451.2,73.9 446.5,77.8 441.8,81.5 436.8,85.2 431.8,88.9 426.8,92.2 421.5,95.4 416.1,98.2 410.5,100.7 404.8,102.8 399.0,104.4 393.0,105.7 387.0,106.7 381.0,107.6 375.0,108.3 369.0,109.0 363.0,109.5 357.0,110.0 351.0,110.4 345.0,110.8 343.0,110.9 343.0,104.8 343.0,103.9 349.0,103.6 355.0,103.3 361.0,103.0 367.0,102.6 373.0,102.1 379.0,101.6 385.0,100.9 391.0,100.2 397.0,99.4 403.0,98.4 409.0,97.0 414.8,95.3 420.5,93.1 425.9,90.5 431.2,87.5 436.5,84.1 441.5,80.5 446.5,76.8 451.5,73.1 455.7,69.8ZM498.9,110.0 500.0,110.0 500.0,116.2 500.0,117.0 494.0,117.1 488.0,117.2 482.0,117.4 476.0,117.5 470.0,117.8 464.0,118.1 458.0,118.5 452.0,119.0 446.0,119.6 440.0,120.5 434.0,121.6 428.0,123.2 422.2,125.2 416.5,127.6 411.1,130.5 405.8,133.8 400.8,137.2 395.8,140.5 390.8,144.0 385.8,147.6 380.8,151.2 378.5,153.1 383.0,149.0 387.8,145.4 392.7,141.8 397.5,138.2 402.5,134.6 407.5,131.0 412.5,127.6 417.8,124.3 423.1,121.5 428.6,119.0 434.2,116.9 440.2,115.2 446.2,113.9 452.2,112.9 458.2,112.2 464.2,111.6 470.2,111.2 476.2,110.8 482.2,110.5 488.3,110.3 494.2,110.1 498.9,110.0ZM378.0,153.2 378.2,153.3 377.2,154.3 377.0,154.2 378.0,153.2Z" fill="#ff9100" fill-rule="evenodd"/>
<path d="M454.2,71.0 454.4,71.0 449.9,75.0 445.0,78.9 440.0,82.7 435.0,86.5 430.1,90.0 425.0,93.3 419.8,96.3 414.3,99.0 408.5,101.3 402.8,103.2 396.8,104.7 390.8,105.9 384.8,106.8 378.8,107.7 372.8,108.4 366.8,109.0 360.8,109.5 354.8,109.9 348.8,110.3 343.0,110.6 343.0,104.5 343.0,104.2 349.0,103.9 355.0,103.6 361.0,103.2 367.0,102.8 373.0,102.3 379.0,101.8 385.0,101.2 391.0,100.5 397.0,99.6 403.0,98.6 409.0,97.2 414.8,95.4 420.4,93.2 426.0,90.5 431.2,87.5 436.3,84.2 441.2,80.8 446.2,77.1 451.2,73.3 454.2,71.0ZM498.8,110.2 500.0,110.2 500.0,116.5 500.0,116.7 494.0,116.8 488.0,117.0 482.0,117.1 476.0,117.3 470.0,117.6 464.0,117.9 458.0,118.3 452.0,118.8 446.0,119.4 440.0,120.3 434.0,121.5 428.0,123.1 422.2,125.0 416.6,127.5 411.2,130.3 406.1,133.5 401.0,137.0 396.0,140.3 391.0,143.8 386.0,147.4 381.1,151.0 378.7,153.0 383.2,148.9 388.0,145.2 393.0,141.6 398.0,138.0 403.0,134.3 407.9,130.8 413.0,127.3 418.2,124.2 423.8,121.3 429.2,118.9 435.0,116.8 441.0,115.2 446.9,114.0 453.0,113.1 459.0,112.3 465.0,111.8 471.0,111.3 477.0,111.0 483.0,110.7 489.0,110.5 495.0,110.3 498.8,110.2Z" fill="#ffa500" fill-rule="evenodd"/>
<path d="M453.0,72.0 453.1,72.0 448.6,76.0 443.9,79.8 439.0,83.5 434.0,87.2 429.0,90.7 423.7,93.9 418.2,97.0 412.8,99.5 407.0,101.7 401.2,103.5 395.2,104.8 389.2,105.9 383.2,106.8 377.2,107.6 371.2,108.3 365.2,108.9 359.2,109.4 353.2,109.8 347.2,110.2 343.0,110.4 343.0,104.4 349.0,104.1 355.0,103.8 361.0,103.4 367.0,103.0 373.0,102.5 379.0,102.0 385.0,101.4 391.0,100.6 397.0,99.8 403.0,98.7 409.0,97.3 414.8,95.5 420.5,93.3 426.0,90.6 431.2,87.6 436.4,84.2 441.3,80.8 446.2,77.1 451.2,73.4 453.0,72.0ZM497.9,110.5 500.0,110.5 499.9,116.5 493.8,116.6 487.8,116.7 481.8,116.9 475.8,117.1 469.8,117.3 463.8,117.7 457.8,118.1 451.8,118.6 445.8,119.3 439.8,120.1 433.8,121.4 427.8,123.0 422.1,125.0 416.5,127.5 411.0,130.4 405.8,133.7 400.8,137.1 395.7,140.5 390.8,143.9 385.8,147.5 380.8,151.2 380.3,151.5 385.0,147.5 390.0,143.8 395.0,140.1 400.0,136.6 404.8,133.0 409.8,129.5 414.8,126.2 420.1,123.2 425.5,120.6 431.2,118.3 437.0,116.4 443.0,114.9 449.0,113.8 455.0,113.0 461.0,112.3 467.0,111.8 473.0,111.4 479.0,111.1 485.0,110.9 491.0,110.7 497.0,110.5 497.9,110.5Z" fill="#ffb900" fill-rule="evenodd"/>
<path d="M451.7,73.0 451.9,73.0 447.4,77.0 442.5,80.8 437.8,84.4 432.8,88.0 427.8,91.4 422.5,94.6 417.0,97.5 411.5,99.9 405.8,102.0 399.8,103.7 393.8,105.0 387.8,106.0 381.8,106.8 375.8,107.6 369.8,108.3 363.8,108.8 357.8,109.3 351.8,109.7 345.8,110.1 343.0,110.2 343.0,104.6 349.0,104.3 355.0,104.0 361.0,103.6 367.0,103.2 373.0,102.7 379.0,102.2 385.0,101.5 391.0,100.8 397.0,99.9 403.0,98.9 409.0,97.4 414.8,95.6 420.5,93.4 426.0,90.7 431.2,87.6 436.4,84.2 441.4,80.8 446.2,77.2 451.2,73.5 451.7,73.0ZM496.3,110.8 500.0,110.8 500.0,116.3 494.0,116.4 488.0,116.5 482.0,116.7 476.0,116.9 470.0,117.1 464.0,117.5 458.0,117.9 452.0,118.4 446.0,119.1 440.0,119.9 434.0,121.2 428.2,122.8 422.5,124.7 417.0,127.2 411.6,130.0 406.3,133.2 401.3,136.7 396.2,140.1 391.2,143.6 386.2,147.1 385.2,147.4 390.1,143.8 395.0,140.2 400.0,136.6 404.9,133.0 409.9,129.5 415.0,126.2 420.2,123.3 425.8,120.6 431.5,118.3 437.2,116.5 443.2,115.0 449.2,114.0 455.2,113.1 461.3,112.5 467.2,112.0 473.2,111.6 479.2,111.3 485.2,111.1 491.2,110.9 496.3,110.8Z" fill="#ffcd00" fill-rule="evenodd"/>
<path d="M450.5,74.0 450.7,74.0 446.1,78.0 441.2,81.6 436.2,85.4 431.3,89.0 426.2,92.3 421.0,95.4 415.5,98.1 409.8,100.5 404.0,102.4 398.0,103.9 392.0,105.1 386.0,106.1 380.0,106.9 374.0,107.6 368.0,108.2 362.0,108.8 356.0,109.2 350.0,109.6 344.0,110.0 343.0,110.0 343.0,104.8 349.0,104.5 355.0,104.2 361.0,103.8 367.0,103.4 373.0,102.9 379.0,102.3 385.0,101.7 391.0,101.0 397.0,100.1 403.0,99.0 409.0,97.6 414.8,95.8 420.4,93.5 426.0,90.8 431.2,87.7 436.5,84.3 441.4,80.8 446.2,77.2 450.5,74.0ZM494.3,111.0 500.0,110.9 500.0,116.1 494.0,116.2 488.0,116.3 482.0,116.5 476.0,116.7 470.0,116.9 464.0,117.3 458.0,117.7 452.0,118.2 446.0,118.9 440.0,119.8 434.0,121.1 428.0,122.7 422.2,124.7 416.8,127.2 411.2,130.1 406.0,133.4 401.0,136.8 396.0,140.2 391.0,143.7 386.1,147.2 384.0,148.8 383.4,149.0 383.5,148.7 388.4,145.0 393.2,141.4 398.2,137.9 403.2,134.2 408.1,130.8 413.2,127.4 418.5,124.3 424.0,121.5 429.5,119.2 435.2,117.2 441.2,115.6 447.2,114.5 453.2,113.6 459.2,112.9 465.2,112.4 471.2,111.9 477.2,111.6 483.2,111.3 489.2,111.1 494.3,111.0Z" fill="#ffe100" fill-rule="evenodd"/>
<path d="M449.5,74.8 445.0,78.8 440.1,82.5 435.2,86.1 430.2,89.6 425.0,93.0 419.8,95.9 414.2,98.6 408.5,100.8 402.8,102.6 396.8,104.1 390.8,105.2 384.8,106.1 378.8,106.9 372.8,107.6 366.8,108.2 360.8,108.7 354.8,109.1 348.7,109.5 343.0,109.8 343.1,105.0 349.2,104.7 355.2,104.4 361.2,104.0 367.2,103.6 373.2,103.1 379.2,102.5 385.2,101.8 391.2,101.1 397.2,100.2 403.2,99.1 409.2,97.6 415.0,95.8 420.6,93.5 426.0,90.9 431.2,87.8 436.5,84.4 441.5,80.8 446.5,77.0 449.5,74.8ZM491.8,111.2 498.0,111.1 500.0,111.1 500.0,115.9 494.0,116.0 488.0,116.1 482.0,116.3 476.0,116.5 470.0,116.8 464.0,117.1 458.0,117.5 452.0,118.1 446.0,118.7 440.0,119.6 434.0,120.9 428.0,122.6 422.2,124.6 416.8,127.1 411.4,130.0 406.1,133.2 401.1,136.8 396.0,140.1 391.0,143.6 386.0,147.2 385.0,148.0 386.8,146.2 391.8,142.7 396.7,139.0 401.7,135.5 406.8,131.8 411.8,128.4 416.9,125.2 422.2,122.4 427.8,119.9 433.5,117.9 439.5,116.2 445.5,114.9 451.5,114.0 457.5,113.2 463.5,112.7 469.5,112.2 475.5,111.9 481.5,111.6 487.5,111.4 491.8,111.2Z" fill="#fff500" fill-rule="evenodd"/>
</g></g>
<line x1="343.0" y1="108.2" x2="500.0" y2="108.2" stroke="#f2dcd6" stroke-width="1" stroke-opacity="0.9" stroke-dasharray="2.9 1.7"/>
<line x1="343.0" y1="182.4" x2="500.0" y2="30.0" stroke="#d6dccb" stroke-width="1" stroke-opacity="0.9" stroke-dasharray="2.9 1.7"/>
<line x1="337.5" y1="30" x2="344" y2="30" stroke="#222" stroke-width="1"/>
<line x1="337.5" y1="108.3" x2="344" y2="108.3" stroke="#222" stroke-width="1"/>
<line x1="337.5" y1="182.4" x2="344" y2="182.4" stroke="#222" stroke-width="1"/>
<line x1="343.2" y1="181" x2="343.2" y2="187.5" stroke="#222" stroke-width="1"/>
<line x1="427.4" y1="181" x2="427.4" y2="187.5" stroke="#222" stroke-width="1"/>
<line x1="499.7" y1="181" x2="499.7" y2="187.5" stroke="#222" stroke-width="1"/>
<text x="308.0" y="38.0" font-size="20.5" fill="#1e1e1e" text-anchor="start" textLength="26.8" lengthAdjust="spacingAndGlyphs">0.2</text>
<text x="308.0" y="114.6" font-size="20.5" fill="#1e1e1e" text-anchor="start" textLength="27.6" lengthAdjust="spacingAndGlyphs">0.0</text>
<text x="300.2" y="185.9" font-size="20.5" fill="#1e1e1e" text-anchor="start" textLength="35.4" lengthAdjust="spacingAndGlyphs">-0.2</text>
<text x="325.5" y="202.5" font-size="20" fill="#1e1e1e" text-anchor="start" textLength="33.0" lengthAdjust="spacingAndGlyphs">-0.2</text>
<text x="414.3" y="202.5" font-size="20" fill="#1e1e1e" text-anchor="start" textLength="26.2" lengthAdjust="spacingAndGlyphs">0.0</text>
<text x="484.0" y="202.5" font-size="20" fill="#1e1e1e" text-anchor="start" textLength="26.2" lengthAdjust="spacingAndGlyphs">0.2</text>
<text x="272.0" y="35.4" font-size="18" fill="#1e1e1e" text-anchor="start" textLength="20.8" lengthAdjust="spacingAndGlyphs">(b)</text>
<text x="367.8" y="223.1" font-size="18" fill="#1e1e1e" text-anchor="start" textLength="15.7" lengthAdjust="spacingAndGlyphs">Δ</text>
<text x="384.0" y="226.6" font-size="13" fill="#1e1e1e" text-anchor="start" textLength="12.0" lengthAdjust="spacingAndGlyphs" font-style="italic">m</text>
<text transform="translate(397.5,228.2) skewX(-5)" font-size="27" fill="#1e1e1e">/</text>
<text x="407.4" y="223.1" font-size="18.5" fill="#1e1e1e" text-anchor="start" textLength="21.1" lengthAdjust="spacingAndGlyphs">2π</text>
<text x="437.6" y="223.1" font-size="18.5" fill="#1e1e1e" text-anchor="start" textLength="49.4" lengthAdjust="spacingAndGlyphs">(GHz)</text>
<g transform="translate(290.6,163) rotate(-90)">
<text x="1.0" y="0.0" font-size="19.5" fill="#1e1e1e" text-anchor="start" textLength="10.8" lengthAdjust="spacingAndGlyphs">Δ</text>
<text x="14.2" y="3.6" font-size="12.5" fill="#1e1e1e" text-anchor="start" textLength="7.2" lengthAdjust="spacingAndGlyphs" font-style="italic">ω</text>
<text transform="translate(25.2,4.2) skewX(-13)" font-size="27" fill="#1e1e1e">/</text>
<text x="32.6" y="0.0" font-size="14" fill="#1e1e1e" text-anchor="start" textLength="17.6" lengthAdjust="spacingAndGlyphs">2π</text>
<text x="57.4" y="0.0" font-size="18.5" fill="#1e1e1e" text-anchor="start" textLength="47.2" lengthAdjust="spacingAndGlyphs">(GHz)</text>
</g>
<defs><linearGradient id="cb" x1="0" x2="1" y1="0" y2="0">
<stop offset="0.00" stop-color="#ffff00"/>
<stop offset="0.05" stop-color="#ffe600"/>
<stop offset="0.10" stop-color="#ffcd00"/>
<stop offset="0.15" stop-color="#ffb400"/>
<stop offset="0.20" stop-color="#ff9b00"/>
<stop offset="0.25" stop-color="#ff8200"/>
<stop offset="0.30" stop-color="#ff6900"/>
<stop offset="0.35" stop-color="#ff5000"/>
<stop offset="0.40" stop-color="#ff3700"/>
<stop offset="0.45" stop-color="#ff1e00"/>
<stop offset="0.50" stop-color="#ff0500"/>
<stop offset="0.55" stop-color="#eb0000"/>
<stop offset="0.60" stop-color="#d20000"/>
<stop offset="0.65" stop-color="#b90000"/>
<stop offset="0.70" stop-color="#a00000"/>
<stop offset="0.75" stop-color="#870000"/>
<stop offset="0.80" stop-color="#6e0000"/>
<stop offset="0.85" stop-color="#560000"/>
<stop offset="0.90" stop-color="#3d0000"/>
<stop offset="0.95" stop-color="#240000"/>
<stop offset="1.00" stop-color="#0b0000"/>
</linearGradient></defs>
<rect x="449.2" y="15" width="50.5" height="11.4" fill="url(#cb)" stroke="#111" stroke-width="0.8"/>
<text x="441.0" y="10.0" font-size="14" fill="#1e1e1e" text-anchor="start" textLength="17.5" lengthAdjust="spacingAndGlyphs">-30</text>
<text x="481.5" y="10.0" font-size="14" fill="#1e1e1e" text-anchor="start" textLength="19.0" lengthAdjust="spacingAndGlyphs">-10</text>
<text x="393.0" y="23.3" font-size="14" fill="#1e1e1e" text-anchor="start" textLength="10.5" lengthAdjust="spacingAndGlyphs">|S</text>
<text x="403.8" y="26.0" font-size="9.5" fill="#1e1e1e" text-anchor="start" textLength="8.5" lengthAdjust="spacingAndGlyphs">21</text>
<text x="412.8" y="23.3" font-size="14" fill="#1e1e1e" text-anchor="start" textLength="34.0" lengthAdjust="spacingAndGlyphs">|(dB)</text>
</g>
<g id="pc">
<polyline points="70.90,240.20 70.99,242.40 71.07,248.51 71.16,258.31 71.25,271.42 71.33,287.38 71.42,305.59 71.50,325.40 71.59,346.10 71.68,366.95 71.76,387.20 71.85,406.13 71.94,423.08 72.02,437.44 72.11,448.74 72.19,456.57 72.28,460.67 72.37,460.94 72.45,457.36 72.54,450.11 72.63,439.45 72.71,425.79 72.80,409.63 72.88,391.57 72.97,372.26 73.06,352.40 73.14,332.70 73.23,313.86 73.32,296.54 73.40,281.34 73.49,268.81 73.58,259.35 73.66,253.28 73.75,250.79 73.83,251.94 73.92,256.67 74.01,264.76 74.09,275.90 74.18,289.67 74.27,305.56 74.35,322.98 74.44,341.29 74.52,359.84 74.61,377.97 74.70,395.03 74.78,410.42 74.87,423.62 74.96,434.18 75.04,441.75 75.13,446.09 75.22,447.08 75.30,444.73 75.39,439.15 75.47,430.58 75.56,419.36 75.65,405.92 75.73,390.76 75.82,374.44 75.91,357.56 75.99,340.72 76.08,324.53 76.16,309.55 76.25,296.30 76.34,285.22 76.42,276.69 76.51,270.98 76.60,268.24 76.68,268.53 76.77,271.81 76.85,277.91 76.94,286.57 77.03,297.46 77.11,310.14 77.20,324.15 77.29,338.96 77.37,354.03 77.46,368.82 77.55,382.81 77.63,395.52 77.72,406.51 77.80,415.42 77.89,421.97 77.98,425.96 78.06,427.30 78.15,425.98 78.24,422.10 78.32,415.85 78.41,407.48 78.49,397.33 78.58,385.80 78.67,373.33 78.75,360.38 78.84,347.42 78.93,334.91 79.01,323.29 79.10,312.95 79.18,304.25 79.27,297.44 79.36,292.75 79.44,290.28 79.53,290.08 79.62,292.11 79.70,296.25 79.79,302.29 79.88,309.99 79.96,319.02 80.05,329.04 80.13,339.65 80.22,350.48 80.31,361.12 80.39,371.19 80.48,380.36 80.57,388.32 80.65,394.82 80.74,399.65 80.82,402.70 80.91,403.89 81.00,403.25 81.08,400.85 81.17,396.81 81.26,391.34 81.34,384.67 81.43,377.08 81.51,368.87 81.60,360.35 81.69,351.85 81.77,343.66 81.86,336.07 81.95,329.33 82.03,323.67 82.12,319.24 82.21,316.17 82.29,314.51 82.38,314.28 82.46,315.43 82.55,317.87 82.64,321.46 82.72,326.02 82.81,331.36 82.90,337.23 82.98,343.42 83.07,349.67 83.15,355.76 83.24,361.46 83.33,366.60 83.41,370.99 83.50,374.53 83.59,377.11 83.67,378.68 83.76,379.25 83.84,378.84 83.93,377.51 84.02,375.38 84.10,372.55 84.19,369.19 84.28,365.44 84.36,361.48 84.45,357.47 84.54,353.56 84.62,349.91 84.71,346.64 84.79,343.85 84.88,341.61 84.97,339.98 85.05,338.98 85.14,338.60 85.23,338.79 85.31,339.52 85.40,340.69 85.48,342.21 85.57,344.00 85.66,345.93 85.74,347.90 85.83,349.82 85.92,351.60 86.00,353.15 86.09,354.44 86.18,355.40 86.26,356.04 86.35,356.35 86.43,356.35 86.52,356.08 86.61,355.60 86.69,354.97 86.78,354.26 86.87,353.55 86.95,352.90 87.04,352.39 87.12,352.06 87.21,351.98 87.30,352.15 87.38,352.60 87.47,353.30 87.56,354.25 87.64,355.38 87.73,356.65 87.81,357.99 87.90,359.30 87.99,360.50 88.07,361.52 88.16,362.26 88.25,362.66 88.33,362.66 88.42,362.20 88.51,361.28 88.59,359.89 88.68,358.06 88.76,355.82 88.85,353.24 88.94,350.42 89.02,347.46 89.11,344.47 89.20,341.59 89.28,338.94 89.37,336.65 89.45,334.84 89.54,333.61 89.63,333.05 89.71,333.23 89.80,334.17 89.89,335.87 89.97,338.33 90.06,341.46 90.14,345.19 90.23,349.40 90.32,353.94 90.40,358.66 90.49,363.38 90.58,367.91 90.66,372.08 90.75,375.71 90.84,378.64 90.92,380.73 91.01,381.87 91.09,381.99 91.18,381.03 91.27,379.00 91.35,375.94 91.44,371.93 91.53,367.08 91.61,361.56 91.70,355.55 91.78,349.26 91.87,342.91 91.96,336.75 92.04,330.99 92.13,325.88 92.22,321.61 92.30,318.36 92.39,316.29 92.48,315.50 92.56,316.05 92.65,317.95 92.73,321.16 92.82,325.61 92.91,331.14 92.99,337.59 93.08,344.73 93.17,352.32 93.25,360.09 93.34,367.76 93.42,375.05 93.51,381.68 93.60,387.40 93.68,391.98 93.77,395.24 93.86,397.02 93.94,397.25 94.03,395.88 94.11,392.94 94.20,388.51 94.29,382.72 94.37,375.77 94.46,367.88 94.55,359.34 94.63,350.43 94.72,341.49 94.81,332.82 94.89,324.76 94.98,317.59 95.06,311.60 95.15,307.01 95.24,304.01 95.32,302.72 95.41,303.23 95.50,305.51 95.58,309.53 95.67,315.15 95.75,322.18 95.84,330.40 95.93,339.50 96.01,349.19 96.10,359.11 96.19,368.90 96.27,378.22 96.36,386.72 96.44,394.10 96.53,400.06 96.62,404.39 96.70,406.92 96.79,407.53 96.88,406.20 96.96,402.95 97.05,397.88 97.14,391.17 97.22,383.04 97.31,373.78 97.39,363.70 97.48,353.17 97.57,342.55 97.65,332.24 97.74,322.61 97.83,313.99 97.91,306.72 98.00,301.05 98.08,297.20 98.17,295.31 98.26,295.48 98.34,297.69 98.43,301.88 98.52,307.91 98.60,315.58 98.69,324.60 98.77,334.68 98.86,345.44 98.95,356.51 99.03,367.49 99.12,377.98 99.21,387.62 99.29,396.05 99.38,402.97 99.47,408.12 99.55,411.32 99.64,412.44 99.72,411.45 99.81,408.37 99.90,403.31 99.98,396.45 100.07,388.02 100.16,378.33 100.24,367.72 100.33,356.57 100.41,345.28 100.50,334.25 100.59,323.88 100.67,314.53 100.76,306.55 100.85,300.21 100.93,295.74 101.02,293.31 101.11,293.00 101.19,294.82 101.28,298.70 101.36,304.51 101.45,312.03 101.54,321.00 101.62,331.09 101.71,341.95 101.80,353.18 101.88,364.39 101.97,375.17 102.05,385.13 102.14,393.94 102.23,401.26 102.31,406.86 102.40,410.52 102.49,412.12 102.57,411.62 102.66,409.04 102.74,404.47 102.83,398.08 102.92,390.10 103.00,380.84 103.09,370.61 103.18,359.79 103.26,348.77 103.35,337.94 103.44,327.68 103.52,318.36 103.61,310.31 103.69,303.80 103.78,299.07 103.87,296.27 103.95,295.50 104.04,296.76 104.13,300.01 104.21,305.12 104.30,311.90 104.38,320.09 104.47,329.40 104.56,339.49 104.64,349.99 104.73,360.53 104.82,370.73 104.90,380.24 104.99,388.71 105.07,395.85 105.16,401.42 105.25,405.23 105.33,407.16 105.42,407.15 105.51,405.22 105.59,401.45 105.68,395.98 105.77,389.04 105.85,380.87 105.94,371.77 106.02,362.08 106.11,352.15 106.20,342.34 106.28,332.99 106.37,324.42 106.46,316.95 106.54,310.82 106.63,306.23 106.71,303.35 106.80,302.25 106.89,302.96 106.97,305.42 107.06,309.55 107.15,315.16 107.23,322.05 107.32,329.96 107.40,338.60 107.49,347.64 107.58,356.77 107.66,365.65 107.75,373.98 107.84,381.47 107.92,387.85 108.01,392.92 108.10,396.50 108.18,398.50 108.27,398.86 108.35,397.59 108.44,394.75 108.53,390.47 108.61,384.91 108.70,378.30 108.79,370.89 108.87,362.94 108.96,354.75 109.04,346.61 109.13,338.81 109.22,331.64 109.30,325.32 109.39,320.07 109.48,316.07 109.56,313.43 109.65,312.24 109.74,312.50 109.82,314.18 109.91,317.21 109.99,321.45 110.08,326.73 110.17,332.85 110.25,339.56 110.34,346.63 110.43,353.79 110.51,360.79 110.60,367.38 110.68,373.33 110.77,378.45 110.86,382.56 110.94,385.55 111.03,387.32 111.12,387.83 111.20,387.10 111.29,385.18 111.37,382.15 111.46,378.15 111.55,373.35 111.63,367.93 111.72,362.09 111.81,356.07 111.89,350.07 111.98,344.31 112.07,338.99 112.15,334.28 112.24,330.36 112.32,327.32 112.41,325.27 112.50,324.25 112.58,324.27 112.67,325.30 112.76,327.28 112.84,330.11 112.93,333.68 113.01,337.82 113.10,342.39 113.19,347.19 113.27,352.06 113.36,356.81 113.45,361.28 113.53,365.31 113.62,368.78 113.70,371.58 113.79,373.63 113.88,374.87 113.96,375.29 114.05,374.90 114.14,373.75 114.22,371.90 114.31,369.43 114.40,366.47 114.48,363.14 114.57,359.57 114.65,355.90 114.74,352.27 114.83,348.81 114.91,345.64 115.00,342.85 115.09,340.55 115.17,338.79 115.26,337.61 115.34,337.03 115.43,337.04 115.52,337.62 115.60,338.72 115.69,340.28 115.78,342.20 115.86,344.41 115.95,346.81 116.03,349.29 116.12,351.76 116.21,354.12 116.29,356.30 116.38,358.22 116.47,359.82 116.55,361.06 116.64,361.92 116.73,362.38 116.81,362.47 116.90,362.19 116.98,361.58 117.07,360.70 117.16,359.61 117.24,358.35 117.33,357.01 117.42,355.64 117.50,354.30 117.59,353.05 117.67,351.93 117.76,350.99 117.85,350.25 117.93,349.72 118.02,349.41 118.11,349.31 118.19,349.39 118.28,349.64 118.37,350.01 118.45,350.47 118.54,350.97 118.62,351.48 118.71,351.96 118.80,352.36 118.88,352.66 118.97,352.85 119.06,352.90 119.14,352.82 119.23,352.61 119.31,352.29 119.40,351.88 119.49,351.42 119.57,350.94 119.66,350.48 119.75,350.07 119.83,349.77 119.92,349.61 120.00,349.60 120.09,349.78 120.18,350.16 120.26,350.74 120.35,351.51 120.44,352.45 120.52,353.54 120.61,354.72 120.70,355.96 120.78,357.20 120.87,358.39 120.95,359.45 121.04,360.34 121.13,361.01 121.21,361.40 121.30,361.49 121.39,361.24 121.47,360.64 121.56,359.70 121.64,358.43 121.73,356.87 121.82,355.06 121.90,353.06 121.99,350.93 122.08,348.77 122.16,346.64 122.25,344.65 122.33,342.86 122.42,341.37 122.51,340.24 122.59,339.53 122.68,339.29 122.77,339.55 122.85,340.31 122.94,341.58 123.03,343.31 123.11,345.47 123.20,347.98 123.28,350.76 123.37,353.73 123.46,356.76 123.54,359.76 123.63,362.60 123.72,365.18 123.80,367.39 123.89,369.13 123.97,370.34 124.06,370.94 124.15,370.90 124.23,370.20 124.32,368.86 124.41,366.89 124.49,364.37 124.58,361.36 124.66,357.97 124.75,354.31 124.84,350.52 124.92,346.72 125.01,343.06 125.10,339.68 125.18,336.69 125.27,334.24 125.36,332.40 125.44,331.27 125.53,330.90 125.61,331.32 125.70,332.52 125.79,334.49 125.87,337.15 125.96,340.43 126.05,344.22 126.13,348.39 126.22,352.79 126.30,357.27 126.39,361.66 126.48,365.81 126.56,369.56 126.65,372.76 126.74,375.30 126.82,377.08 126.91,378.00 127.00,378.04 127.08,377.18 127.17,375.43 127.25,372.85 127.34,369.52 127.43,365.55 127.51,361.08 127.60,356.26 127.69,351.27 127.77,346.27 127.86,341.46 127.94,337.00 128.03,333.06 128.12,329.80 128.20,327.32 128.29,325.74 128.38,325.12 128.46,325.48 128.55,326.83 128.63,329.12 128.72,332.29 128.81,336.22 128.89,340.78 128.98,345.81 129.07,351.14 129.15,356.57 129.24,361.91 129.33,366.97 129.41,371.56 129.50,375.52 129.58,378.70 129.67,380.98 129.76,382.27 129.84,382.52 129.93,381.71 130.02,379.87 130.10,377.05 130.19,373.36 130.27,368.92 130.36,363.89 130.45,358.43 130.53,352.76 130.62,347.06 130.71,341.55 130.79,336.41 130.88,331.85 130.96,328.01 131.05,325.05 131.14,323.07 131.22,322.15 131.31,322.32 131.40,323.58 131.48,325.89 131.57,329.17 131.66,333.30 131.74,338.14 131.83,343.52 131.91,349.24 132.00,355.10 132.09,360.90 132.17,366.42 132.26,371.47 132.35,375.86 132.43,379.44 132.52,382.08 132.60,383.69 132.69,384.20 132.78,383.59 132.86,381.90 132.95,379.17 133.04,375.51 133.12,371.04 133.21,365.93 133.29,360.36 133.38,354.52 133.47,348.63 133.55,342.90 133.64,337.53 133.73,332.71 133.81,328.61 133.90,325.39 133.99,323.14 134.07,321.96 134.16,321.87 134.24,322.90 134.33,324.98 134.42,328.05 134.50,332.00 134.59,336.68 134.68,341.92 134.76,347.54 134.85,353.34 134.93,359.10 135.02,364.62 135.11,369.70 135.19,374.18 135.28,377.88 135.37,380.68 135.45,382.48 135.54,383.23 135.62,382.89 135.71,381.49 135.80,379.09 135.88,375.76 135.97,371.64 136.06,366.88 136.14,361.64 136.23,356.12 136.32,350.52 136.40,345.03 136.49,339.85 136.57,335.17 136.66,331.14 136.75,327.90 136.83,325.58 136.92,324.23 137.01,323.92 137.09,324.63 137.18,326.34 137.26,328.98 137.35,332.45 137.44,336.62 137.52,341.33 137.61,346.42 137.70,351.70 137.78,356.99 137.87,362.08 137.96,366.81 138.04,371.00 138.13,374.52 138.21,377.24 138.30,379.08 138.39,379.97 138.47,379.89 138.56,378.86 138.65,376.92 138.73,374.15 138.82,370.65 138.90,366.55 138.99,362.02 139.08,357.20 139.16,352.29 139.25,347.44 139.34,342.85 139.42,338.65 139.51,335.01 139.59,332.05 139.68,329.85 139.77,328.50 139.85,328.03 139.94,328.44 140.03,329.71 140.11,331.79 140.20,334.59 140.29,338.01 140.37,341.91 140.46,346.14 140.54,350.56 140.63,355.00 140.72,359.31 140.80,363.33 140.89,366.93 140.98,369.98 141.06,372.38 141.15,374.06 141.23,374.96 141.32,375.07 141.41,374.39 141.49,372.97 141.58,370.85 141.67,368.14 141.75,364.92 141.84,361.34 141.92,357.51 142.01,353.59 142.10,349.70 142.18,346.00 142.27,342.61 142.36,339.63 142.44,337.19 142.53,335.34 142.62,334.14 142.70,333.64 142.79,333.82 142.87,334.68 142.96,336.16 143.05,338.21 143.13,340.73 143.22,343.64 143.31,346.81 143.39,350.13 143.48,353.48 143.56,356.74 143.65,359.79 143.74,362.54 143.82,364.88 143.91,366.74 144.00,368.07 144.08,368.83 144.17,369.01 144.25,368.62 144.34,367.68 144.43,366.24 144.51,364.36 144.60,362.13 144.69,359.63 144.77,356.95 144.86,354.20 144.95,351.48 145.03,348.89 145.12,346.50 145.20,344.42 145.29,342.69 145.38,341.38 145.46,340.51 145.55,340.11 145.64,340.17 145.72,340.68 145.81,341.61 145.89,342.91 145.98,344.52 146.07,346.38 146.15,348.40 146.24,350.51 146.33,352.64 146.41,354.69 146.50,356.61 146.59,358.33 146.67,359.78 146.76,360.94 146.84,361.76 146.93,362.24 147.02,362.36 147.10,362.14 147.19,361.60 147.28,360.78 147.36,359.71 147.45,358.44 147.53,357.04 147.62,355.55 147.71,354.05 147.79,352.57 147.88,351.19 147.97,349.94 148.05,348.87 148.14,348.00 148.22,347.35 148.31,346.95 148.40,346.78 148.48,346.85 148.57,347.14 148.66,347.61 148.74,348.25 148.83,349.01 148.92,349.86 149.00,350.76 149.09,351.67 149.17,352.54 149.26,353.36 149.35,354.09 149.43,354.70 149.52,355.18 149.61,355.53 149.69,355.73 149.78,355.80 149.86,355.74 149.95,355.57 150.04,355.31 150.12,354.98 150.21,354.61 150.30,354.22 150.38,353.84 150.47,353.48 150.55,353.17 150.64,352.92 150.73,352.74 150.81,352.63 150.90,352.60 150.99,352.65 151.07,352.75 151.16,352.90 151.25,353.08 151.33,353.27 151.42,353.45 151.50,353.61 151.59,353.72 151.68,353.76 151.76,353.74 151.85,353.62 151.94,353.43 152.02,353.15 152.11,352.80 152.19,352.38 152.28,351.91 152.37,351.42 152.45,350.93 152.54,350.47 152.63,350.05 152.71,349.72 152.80,349.48 152.88,349.36 152.97,349.39 153.06,349.56 153.14,349.88 153.23,350.36 153.32,350.98 153.40,351.72 153.49,352.56 153.58,353.48 153.66,354.44 153.75,355.40 153.83,356.33 153.92,357.18 154.01,357.92 154.09,358.51 154.18,358.91 154.27,359.11 154.35,359.09 154.44,358.83 154.52,358.33 154.61,357.61 154.70,356.68 154.78,355.56 154.87,354.30 154.96,352.94 155.04,351.51 155.13,350.08 155.22,348.70 155.30,347.43 155.39,346.31 155.47,345.39 155.56,344.72 155.65,344.33 155.73,344.23 155.82,344.46 155.91,345.00 155.99,345.84 156.08,346.97 156.16,348.35 156.25,349.93 156.34,351.67 156.42,353.50 156.51,355.36 156.60,357.17 156.68,358.88 156.77,360.41 156.85,361.71 156.94,362.71 157.03,363.39 157.11,363.70 157.20,363.62 157.29,363.16 157.37,362.31 157.46,361.11 157.55,359.58 157.63,357.78 157.72,355.77 157.80,353.62 157.89,351.40 157.98,349.19 158.06,347.08 158.15,345.14 158.24,343.45 158.32,342.06 158.41,341.05 158.49,340.45 158.58,340.28 158.67,340.57 158.75,341.30 158.84,342.46 158.93,344.02 159.01,345.92 159.10,348.09 159.18,350.47 159.27,352.96 159.36,355.49 159.44,357.96 159.53,360.27 159.62,362.35 159.70,364.12 159.79,365.51 159.88,366.45 159.96,366.93 160.05,366.90 160.13,366.38 160.22,365.36 160.31,363.89 160.39,362.01 160.48,359.79 160.57,357.29 160.65,354.62 160.74,351.86 160.82,349.11 160.91,346.48 161.00,344.05 161.08,341.92 161.17,340.16 161.26,338.85 161.34,338.02 161.43,337.73 161.51,337.97 161.60,338.75 161.69,340.04 161.77,341.79 161.86,343.96 161.95,346.46 162.03,349.20 162.12,352.09 162.21,355.03 162.29,357.91 162.38,360.62 162.46,363.07 162.55,365.17 162.64,366.85 162.72,368.03 162.81,368.68 162.90,368.77 162.98,368.29 163.07,367.27 163.15,365.72 163.24,363.72 163.33,361.32 163.41,358.62 163.50,355.70 163.59,352.67 163.67,349.65 163.76,346.73 163.85,344.02 163.93,341.63 164.02,339.63 164.10,338.10 164.19,337.09 164.28,336.65 164.36,336.78 164.45,337.49 164.54,338.74 164.62,340.51 164.71,342.71 164.79,345.28 164.88,348.12 164.97,351.13 165.05,354.21 165.14,357.24 165.23,360.11 165.31,362.73 165.40,365.00 165.48,366.84 165.57,368.18 165.66,368.97 165.74,369.20 165.83,368.84 165.92,367.92 166.00,366.46 166.09,364.53 166.18,362.18 166.26,359.51 166.35,356.61 166.43,353.59 166.52,350.54 166.61,347.59 166.69,344.83 166.78,342.37 166.87,340.29 166.95,338.66 167.04,337.54 167.12,336.97 167.21,336.97 167.30,337.54 167.38,338.64 167.47,340.25 167.56,342.31 167.64,344.73 167.73,347.43 167.81,350.31 167.90,353.27 167.99,356.21 168.07,359.01 168.16,361.58 168.25,363.83 168.33,365.69 168.42,367.07 168.51,367.95 168.59,368.29 168.68,368.08 168.76,367.34 168.85,366.08 168.94,364.37 169.02,362.26 169.11,359.83 169.20,357.18 169.28,354.38 169.37,351.56 169.45,348.80 169.54,346.21 169.63,343.88 169.71,341.88 169.80,340.29 169.89,339.16 169.97,338.52 170.06,338.40 170.15,338.79 170.23,339.68 170.32,341.03 170.40,342.79 170.49,344.90 170.58,347.26 170.66,349.81 170.75,352.44 170.84,355.06 170.92,357.58 171.01,359.91 171.09,361.97 171.18,363.68 171.27,365.00 171.35,365.87 171.44,366.27 171.53,366.20 171.61,365.66 171.70,364.67 171.78,363.27 171.87,361.53 171.96,359.50 172.04,357.26 172.13,354.89 172.22,352.48 172.30,350.12 172.39,347.88 172.48,345.85 172.56,344.10 172.65,342.68 172.73,341.64 172.82,341.01 172.91,340.82 172.99,341.05 173.08,341.70 173.17,342.74 173.25,344.12 173.34,345.79 173.42,347.69 173.51,349.75 173.60,351.88 173.68,354.02 173.77,356.08 173.86,358.00 173.94,359.71 174.03,361.14 174.11,362.27 174.20,363.04 174.29,363.44 174.37,363.46 174.46,363.10 174.55,362.40 174.63,361.36 174.72,360.05 174.81,358.51 174.89,356.80 174.98,354.99 175.06,353.13 175.15,351.31 175.24,349.57 175.32,347.99 175.41,346.62 175.50,345.49 175.58,344.66 175.67,344.13 175.75,343.92 175.84,344.04 175.93,344.46 176.01,345.18 176.10,346.15 176.19,347.34 176.27,348.70 176.36,350.17 176.44,351.70 176.53,353.24 176.62,354.73 176.70,356.12 176.79,357.35 176.88,358.40 176.96,359.22 177.05,359.80 177.14,360.12 177.22,360.17 177.31,359.97 177.39,359.51 177.48,358.84 177.57,357.98 177.65,356.96 177.74,355.84 177.83,354.64 177.91,353.42 178.00,352.21 178.08,351.08 178.17,350.04 178.26,349.15 178.34,348.41 178.43,347.86 178.52,347.51 178.60,347.37 178.69,347.42 178.78,347.67 178.86,348.10 178.95,348.68 179.03,349.38 179.12,350.19 179.21,351.05 179.29,351.95 179.38,352.83 179.47,353.69 179.55,354.47 179.64,355.16 179.72,355.74 179.81,356.19 179.90,356.49 179.98,356.66 180.07,356.68 180.16,356.56 180.24,356.31 180.33,355.96 180.41,355.52 180.50,355.01 180.59,354.45 180.67,353.88 180.76,353.30 180.85,352.75 180.93,352.25 181.02,351.80 181.11,351.44 181.19,351.15 181.28,350.95 181.36,350.85 181.45,350.83 181.54,350.89 181.62,351.02 181.71,351.22 181.80,351.46 181.88,351.72 181.97,352.01 182.05,352.30 182.14,352.57 182.23,352.82 182.31,353.03 182.40,353.20 182.49,353.32 182.57,353.40 182.66,353.43 182.74,353.42 182.83,353.37 182.92,353.29 183.00,353.19 183.09,353.09 183.18,352.99 183.26,352.90 183.35,352.83 183.44,352.80 183.52,352.79 183.61,352.83 183.69,352.90 183.78,353.01 183.87,353.15 183.95,353.31 184.04,353.49 184.13,353.67 184.21,353.85 184.30,354.01 184.38,354.13 184.47,354.22 184.56,354.25 184.64,354.23 184.73,354.14 184.82,353.98 184.90,353.76 184.99,353.48 185.07,353.15 185.16,352.77 185.25,352.37 185.33,351.95 185.42,351.54 185.51,351.15 185.59,350.80 185.68,350.51 185.77,350.29 185.85,350.15 185.94,350.12 186.02,350.19 186.11,350.37 186.20,350.66 186.28,351.04 186.37,351.52 186.46,352.08 186.54,352.69 186.63,353.34 186.71,354.01 186.80,354.66 186.89,355.28 186.97,355.84 187.06,356.31 187.15,356.67 187.23,356.90 187.32,357.00 187.41,356.95 187.49,356.75 187.58,356.40 187.66,355.91 187.75,355.29 187.84,354.56 187.92,353.75 188.01,352.88 188.10,351.98 188.18,351.10 188.27,350.25 188.35,349.47 188.44,348.80 188.53,348.26 188.61,347.88 188.70,347.66 188.79,347.64 188.87,347.80 188.96,348.15 189.04,348.68 189.13,349.38 189.22,350.22 189.30,351.18 189.39,352.22 189.48,353.31 189.56,354.41 189.65,355.47 189.74,356.46 189.82,357.35 189.91,358.09 189.99,358.65 190.08,359.02 190.17,359.18 190.25,359.11 190.34,358.81 190.43,358.30 190.51,357.59 190.60,356.69 190.68,355.65 190.77,354.48 190.86,353.25 190.94,351.98 191.03,350.73 191.12,349.53 191.20,348.45 191.29,347.50 191.37,346.74 191.46,346.19 191.55,345.87 191.63,345.80 191.72,345.99 191.81,346.42 191.89,347.09 191.98,347.98 192.07,349.06 192.15,350.28 192.24,351.61 192.32,353.01 192.41,354.41 192.50,355.77 192.58,357.04 192.67,358.18 192.76,359.14 192.84,359.88 192.93,360.38 193.01,360.62 193.10,360.58 193.19,360.27 193.27,359.69 193.36,358.87 193.45,357.82 193.53,356.60 193.62,355.23 193.70,353.76 193.79,352.26 193.88,350.77 193.96,349.34 194.05,348.04 194.14,346.90 194.22,345.97 194.31,345.27 194.40,344.85 194.48,344.72 194.57,344.87 194.65,345.31 194.74,346.02 194.83,346.99 194.91,348.17 195.00,349.52 195.09,350.99 195.17,352.55 195.26,354.12 195.34,355.65 195.43,357.09 195.52,358.38 195.60,359.49 195.69,360.36 195.78,360.97 195.86,361.29 195.95,361.32 196.04,361.04 196.12,360.48 196.21,359.64 196.29,358.56 196.38,357.28 196.47,355.84 196.55,354.30 196.64,352.70 196.73,351.11 196.81,349.58 196.90,348.17 196.98,346.92 197.07,345.89 197.16,345.11 197.24,344.60 197.33,344.39 197.42,344.48 197.50,344.87 197.59,345.55 197.67,346.49 197.76,347.65 197.85,349.00 197.93,350.49 198.02,352.06 198.11,353.66 198.19,355.23 198.28,356.71 198.37,358.06 198.45,359.22 198.54,360.15 198.62,360.83 198.71,361.22 198.80,361.31 198.88,361.11 198.97,360.61 199.06,359.84 199.14,358.83 199.23,357.61 199.31,356.23 199.40,354.73 199.49,353.17 199.57,351.61 199.66,350.11 199.75,348.70 199.83,347.46 199.92,346.41 200.00,345.59 200.09,345.04 200.18,344.77 200.26,344.79 200.35,345.10 200.44,345.68 200.52,346.52 200.61,347.58 200.70,348.82 200.78,350.20 200.87,351.66 200.95,353.16 201.04,354.65 201.13,356.06 201.21,357.35 201.30,358.47 201.39,359.39 201.47,360.07 201.56,360.49 201.64,360.64 201.73,360.52 201.82,360.12 201.90,359.48 201.99,358.60 202.08,357.53 202.16,356.31 202.25,354.97 202.33,353.57 202.42,352.16 202.51,350.79 202.59,349.51 202.68,348.35 202.77,347.37 202.85,346.60 202.94,346.05 203.03,345.75 203.11,345.71 203.20,345.93 203.28,346.39 203.37,347.07 203.46,347.95 203.54,349.00 203.63,350.18 203.72,351.44 203.80,352.74 203.89,354.03 203.97,355.26 204.06,356.39 204.15,357.39 204.23,358.22 204.32,358.85 204.41,359.26 204.49,359.44 204.58,359.39 204.66,359.10 204.75,358.60 204.84,357.91 204.92,357.05 205.01,356.05 205.10,354.96 205.18,353.81 205.27,352.64 205.36,351.50 205.44,350.42 205.53,349.45 205.61,348.62 205.70,347.95 205.79,347.46 205.87,347.18 205.96,347.10 206.05,347.23 206.13,347.56 206.22,348.07 206.30,348.74 206.39,349.55 206.48,350.47 206.56,351.45 206.65,352.47 206.74,353.48 206.82,354.46 206.91,355.36 207.00,356.16 207.08,356.82 207.17,357.34 207.25,357.69 207.34,357.86 207.43,357.85 207.51,357.67 207.60,357.32 207.69,356.83 207.77,356.20 207.86,355.48 207.94,354.67 208.03,353.83 208.12,352.96 208.20,352.12 208.29,351.32 208.38,350.60 208.46,349.98 208.55,349.47 208.63,349.10 208.72,348.87 208.81,348.79 208.89,348.86 208.98,349.07 209.07,349.41 209.15,349.86 209.24,350.41 209.33,351.03 209.41,351.70 209.50,352.40 209.58,353.09 209.67,353.75 209.76,354.37 209.84,354.91 209.93,355.36 210.02,355.71 210.10,355.96 210.19,356.08 210.27,356.09 210.36,355.98 210.45,355.77 210.53,355.47 210.62,355.08 210.71,354.63 210.79,354.14 210.88,353.62 210.96,353.09 211.05,352.58 211.14,352.10 211.22,351.67 211.31,351.30 211.40,351.01 211.48,350.79 211.57,350.66 211.66,350.61 211.74,350.65 211.83,350.77 211.91,350.96 212.00,351.21 212.09,351.50 212.17,351.83 212.26,352.18 212.35,352.54 212.43,352.89 212.52,353.22 212.60,353.52 212.69,353.78 212.78,353.98 212.86,354.14 212.95,354.24 213.04,354.28 213.12,354.27 213.21,354.21 213.30,354.10 213.38,353.96 213.47,353.79 213.55,353.60 213.64,353.41 213.73,353.21 213.81,353.02 213.90,352.85 213.99,352.69 214.07,352.57 214.16,352.47 214.24,352.41 214.33,352.37 214.42,352.37 214.50,352.39 214.59,352.44 214.68,352.50 214.76,352.57 214.85,352.64 214.93,352.71 215.02,352.78 215.11,352.83 215.19,352.87 215.28,352.90 215.37,352.90 215.45,352.88 215.54,352.85 215.63,352.80 215.71,352.74 215.80,352.68 215.88,352.61 215.97,352.55 216.06,352.50 216.14,352.46 216.23,352.45 216.32,352.46 216.40,352.49 216.49,352.56 216.57,352.65 216.66,352.76 216.75,352.90 216.83,353.06 216.92,353.23 217.01,353.40 217.09,353.57 217.18,353.73 217.26,353.87 217.35,353.98 217.44,354.06 217.52,354.10 217.61,354.09 217.70,354.03 217.78,353.93 217.87,353.78 217.96,353.58 218.04,353.35 218.13,353.08 218.21,352.79 218.30,352.49 218.39,352.19 218.47,351.89 218.56,351.63 218.65,351.39 218.73,351.20 218.82,351.07 218.90,351.00 218.99,351.00 219.08,351.06 219.16,351.20 219.25,351.41 219.34,351.68 219.42,352.01 219.51,352.38 219.59,352.78 219.68,353.21 219.77,353.64 219.85,354.05 219.94,354.44 220.03,354.78 220.11,355.06 220.20,355.27 220.29,355.41 220.37,355.45 220.46,355.41 220.54,355.27 220.63,355.04 220.72,354.72 220.80,354.33 220.89,353.88 220.98,353.39 221.06,352.86 221.15,352.32 221.23,351.79 221.32,351.29 221.41,350.84 221.49,350.45 221.58,350.14 221.67,349.92 221.75,349.81 221.84,349.81 221.93,349.91 222.01,350.13 222.10,350.46 222.18,350.87 222.27,351.37 222.36,351.93 222.44,352.54 222.53,353.17 222.62,353.80 222.70,354.41 222.79,354.97 222.87,355.47 222.96,355.88 223.05,356.19 223.13,356.39 223.22,356.47 223.31,356.42 223.39,356.24 223.48,355.94 223.56,355.52 223.65,355.01 223.74,354.41 223.82,353.76 223.91,353.06 224.00,352.35 224.08,351.65 224.17,350.99 224.26,350.39 224.34,349.87 224.43,349.46 224.51,349.16 224.60,349.00 224.69,348.97 224.77,349.09 224.86,349.34 224.95,349.72 225.03,350.22 225.12,350.82 225.20,351.50 225.29,352.23 225.38,353.00 225.46,353.76 225.55,354.50 225.64,355.19 225.72,355.81 225.81,356.32 225.89,356.72 225.98,356.98 226.07,357.09 226.15,357.06 226.24,356.88 226.33,356.56 226.41,356.10 226.50,355.53 226.59,354.86 226.67,354.11 226.76,353.32 226.84,352.52 226.93,351.72 227.02,350.96 227.10,350.26 227.19,349.66 227.28,349.17 227.36,348.81 227.45,348.59 227.53,348.53 227.62,348.63 227.71,348.87 227.79,349.26 227.88,349.79 227.97,350.42 228.05,351.14 228.14,351.93 228.22,352.75 228.31,353.59 228.40,354.39 228.48,355.15 228.57,355.83 228.66,356.40 228.74,356.85 228.83,357.16 228.92,357.32 229.00,357.32 229.09,357.16 229.17,356.86 229.26,356.41 229.35,355.83 229.43,355.16 229.52,354.40 229.61,353.59 229.69,352.75 229.78,351.92 229.86,351.13 229.95,350.40 230.04,349.76 230.12,349.23 230.21,348.83 230.30,348.58 230.38,348.48 230.47,348.54 230.56,348.76 230.64,349.12 230.73,349.61 230.81,350.22 230.90,350.92 230.99,351.70 231.07,352.51 231.16,353.33 231.25,354.14 231.33,354.90 231.42,355.58 231.50,356.17 231.59,356.64 231.68,356.98 231.76,357.17 231.85,357.20 231.94,357.09 232.02,356.82 232.11,356.42 232.19,355.90 232.28,355.27 232.37,354.56 232.45,353.79 232.54,353.00 232.63,352.21 232.71,351.44 232.80,350.74 232.89,350.11 232.97,349.59 233.06,349.18 233.14,348.92 233.23,348.79 233.32,348.81 233.40,348.98 233.49,349.28 233.58,349.71 233.66,350.25 233.75,350.88 233.83,351.58 233.92,352.32 234.01,353.07 234.09,353.81 234.18,354.51 234.27,355.16 234.35,355.71 234.44,356.16 234.52,356.49 234.61,356.69 234.70,356.76 234.78,356.69 234.87,356.48 234.96,356.15 235.04,355.71 235.13,355.17 235.22,354.56 235.30,353.89 235.39,353.20 235.47,352.50 235.56,351.82 235.65,351.19 235.73,350.63 235.82,350.15 235.91,349.78 235.99,349.52 236.08,349.38 236.16,349.37 236.25,349.49 236.34,349.72 236.42,350.07 236.51,350.50 236.60,351.02 236.68,351.60 236.77,352.22 236.85,352.85 236.94,353.48 237.03,354.08 237.11,354.62 237.20,355.10 237.29,355.50 237.37,355.79 237.46,355.98 237.55,356.06 237.63,356.03 237.72,355.88 237.80,355.63 237.89,355.29 237.98,354.87 238.06,354.39 238.15,353.86 238.24,353.31 238.32,352.75 238.41,352.20 238.49,351.69 238.58,351.24 238.67,350.84 238.75,350.53 238.84,350.31 238.93,350.18 239.01,350.16 239.10,350.23 239.19,350.39 239.27,350.64 239.36,350.96 239.44,351.35 239.53,351.78 239.62,352.24 239.70,352.72 239.79,353.19 239.88,353.65 239.96,354.07 240.05,354.43 240.13,354.74 240.22,354.97 240.31,355.12 240.39,355.19 240.48,355.18 240.57,355.09 240.65,354.92 240.74,354.69 240.82,354.40 240.91,354.06 241.00,353.69 241.08,353.30 241.17,352.91 241.26,352.53 241.34,352.17 241.43,351.85 241.52,351.57 241.60,351.35 241.69,351.19 241.77,351.10 241.86,351.07 241.95,351.11 242.03,351.21 242.12,351.36 242.21,351.57 242.29,351.82 242.38,352.10 242.46,352.39 242.55,352.70 242.64,353.00 242.72,353.28 242.81,353.55 242.90,353.78 242.98,353.97 243.07,354.11 243.15,354.21 243.24,354.25 243.33,354.25 243.41,354.19 243.50,354.10" fill="none" stroke="#4c72b0" stroke-width="1.75" stroke-linejoin="round"/>
<polyline points="70.90,352.90 70.99,352.72 71.07,352.20 71.16,351.38 71.25,350.31 71.33,349.08 71.42,347.79 71.50,346.53 71.59,345.41 71.68,344.54 71.76,344.02 71.85,343.92 71.94,344.31 72.02,345.23 72.11,346.68 72.19,348.65 72.28,351.09 72.37,353.93 72.45,357.07 72.54,360.37 72.63,363.71 72.71,366.92 72.80,369.86 72.88,372.36 72.97,374.29 73.06,375.51 73.14,375.92 73.23,375.45 73.32,374.05 73.40,371.74 73.49,368.53 73.58,364.52 73.66,359.81 73.75,354.56 73.83,348.94 73.92,343.16 74.01,337.45 74.09,332.03 74.18,327.12 74.27,322.94 74.35,319.70 74.44,317.55 74.52,316.62 74.61,317.01 74.70,318.75 74.78,321.83 74.87,326.19 74.96,331.70 75.04,338.20 75.13,345.48 75.22,353.30 75.30,361.37 75.39,369.40 75.47,377.09 75.56,384.15 75.65,390.27 75.73,395.22 75.82,398.77 75.91,400.74 75.99,401.02 76.08,399.56 76.16,396.35 76.25,391.47 76.34,385.07 76.42,377.33 76.51,368.50 76.60,358.90 76.68,348.85 76.77,338.71 76.85,328.85 76.94,319.65 77.03,311.44 77.11,304.57 77.20,299.30 77.29,295.85 77.37,294.41 77.46,295.04 77.55,297.78 77.63,302.57 77.72,309.25 77.80,317.64 77.89,327.44 77.98,338.33 78.06,349.94 78.15,361.84 78.24,373.61 78.32,384.83 78.41,395.07 78.49,403.95 78.58,411.13 78.67,416.32 78.75,419.31 78.84,419.95 78.93,418.19 79.01,414.06 79.10,407.68 79.18,399.25 79.27,389.05 79.36,377.43 79.44,364.78 79.53,351.57 79.62,338.24 79.70,325.29 79.79,313.19 79.88,302.38 79.96,293.26 80.05,286.19 80.13,281.44 80.22,279.19 80.31,279.57 80.39,282.57 80.48,288.12 80.57,296.04 80.65,306.05 80.74,317.83 80.82,330.97 80.91,344.99 81.00,359.40 81.08,373.70 81.17,387.35 81.26,399.88 81.34,410.81 81.43,419.75 81.51,426.36 81.60,430.39 81.69,431.68 81.77,430.17 81.86,425.88 81.95,418.97 82.03,409.66 82.12,398.27 82.21,385.21 82.29,370.93 82.38,355.94 82.46,340.77 82.55,325.96 82.64,312.06 82.72,299.55 82.81,288.89 82.90,280.48 82.98,274.62 83.07,271.53 83.15,271.33 83.24,274.03 83.33,279.55 83.41,287.70 83.50,298.20 83.59,310.67 83.67,324.67 83.76,339.70 83.84,355.24 83.93,370.72 84.02,385.59 84.10,399.32 84.19,411.42 84.28,421.44 84.36,429.04 84.45,433.94 84.54,435.95 84.62,435.01 84.71,431.15 84.79,424.51 84.88,415.31 84.97,403.90 85.05,390.67 85.14,376.11 85.23,360.73 85.31,345.08 85.40,329.71 85.48,315.19 85.57,302.02 85.66,290.68 85.74,281.57 85.83,275.00 85.92,271.21 86.00,270.33 86.09,272.39 86.18,277.30 86.26,284.89 86.35,294.88 86.43,306.90 86.52,320.53 86.61,335.27 86.69,350.59 86.78,365.94 86.87,380.78 86.95,394.59 87.04,406.86 87.12,417.18 87.21,425.17 87.30,430.57 87.38,433.18 87.47,432.94 87.56,429.86 87.64,424.06 87.73,415.76 87.81,405.27 87.90,392.97 87.99,379.31 88.07,364.79 88.16,349.92 88.25,335.25 88.33,321.27 88.42,308.51 88.51,297.39 88.59,288.31 88.68,281.57 88.76,277.41 88.85,275.95 88.94,277.24 89.02,281.19 89.11,287.66 89.20,296.40 89.28,307.08 89.37,319.30 89.45,332.62 89.54,346.56 89.63,360.61 89.71,374.28 89.80,387.08 89.89,398.56 89.97,408.33 90.06,416.05 90.14,421.46 90.23,424.39 90.32,424.77 90.40,422.59 90.49,417.97 90.58,411.08 90.66,402.21 90.75,391.67 90.84,379.86 90.92,367.22 91.01,354.20 91.09,341.28 91.18,328.90 91.27,317.51 91.35,307.50 91.44,299.20 91.53,292.91 91.61,288.81 91.70,287.02 91.78,287.60 91.87,290.47 91.96,295.52 92.04,302.54 92.13,311.26 92.22,321.33 92.30,332.40 92.39,344.04 92.48,355.84 92.56,367.38 92.65,378.25 92.73,388.06 92.82,396.50 92.91,403.27 92.99,408.16 93.08,411.02 93.17,411.79 93.25,410.45 93.34,407.10 93.42,401.89 93.51,395.02 93.60,386.78 93.68,377.47 93.77,367.44 93.86,357.06 93.94,346.72 94.03,336.76 94.11,327.56 94.20,319.41 94.29,312.59 94.37,307.32 94.46,303.76 94.55,302.01 94.63,302.08 94.72,303.96 94.81,307.53 94.89,312.63 94.98,319.06 95.06,326.55 95.15,334.83 95.24,343.57 95.32,352.46 95.41,361.17 95.50,369.40 95.58,376.87 95.67,383.32 95.75,388.56 95.84,392.40 95.93,394.77 96.01,395.59 96.10,394.89 96.19,392.71 96.27,389.18 96.36,384.46 96.44,378.74 96.53,372.25 96.62,365.24 96.70,357.99 96.79,350.75 96.88,343.78 96.96,337.33 97.05,331.62 97.14,326.82 97.22,323.09 97.31,320.52 97.39,319.18 97.48,319.07 97.57,320.17 97.65,322.39 97.74,325.63 97.83,329.72 97.91,334.50 98.00,339.77 98.08,345.32 98.17,350.95 98.26,356.45 98.34,361.61 98.43,366.28 98.52,370.29 98.60,373.53 98.69,375.91 98.77,377.37 98.86,377.91 98.95,377.52 99.03,376.28 99.12,374.26 99.21,371.56 99.29,368.32 99.38,364.68 99.47,360.80 99.55,356.82 99.64,352.90 99.72,349.18 99.81,345.80 99.90,342.85 99.98,340.43 100.07,338.60 100.16,337.39 100.24,336.82 100.33,336.87 100.41,337.50 100.50,338.65 100.59,340.24 100.67,342.19 100.76,344.39 100.85,346.73 100.93,349.12 101.02,351.46 101.11,353.64 101.19,355.61 101.28,357.29 101.36,358.64 101.45,359.62 101.54,360.23 101.62,360.48 101.71,360.39 101.80,360.00 101.88,359.37 101.97,358.53 102.05,357.58 102.14,356.56 102.23,355.54 102.31,354.59 102.40,353.75 102.49,353.07 102.57,352.57 102.66,352.27 102.74,352.17 102.83,352.26 102.92,352.51 103.00,352.90 103.09,353.37 103.18,353.88 103.26,354.38 103.35,354.81 103.44,355.12 103.52,355.27 103.61,355.23 103.69,354.97 103.78,354.48 103.87,353.77 103.95,352.85 104.04,351.75 104.13,350.53 104.21,349.22 104.30,347.90 104.38,346.62 104.47,345.48 104.56,344.52 104.64,343.83 104.73,343.45 104.82,343.43 104.90,343.80 104.99,344.59 105.07,345.77 105.16,347.35 105.25,349.26 105.33,351.47 105.42,353.89 105.51,356.44 105.59,359.02 105.68,361.52 105.77,363.85 105.85,365.90 105.94,367.56 106.02,368.76 106.11,369.42 106.20,369.49 106.28,368.93 106.37,367.75 106.46,365.95 106.54,363.58 106.63,360.71 106.71,357.42 106.80,353.83 106.89,350.06 106.97,346.24 107.06,342.52 107.15,339.05 107.23,335.96 107.32,333.38 107.40,331.44 107.49,330.22 107.58,329.79 107.66,330.20 107.75,331.45 107.84,333.52 107.92,336.37 108.01,339.90 108.10,344.01 108.18,348.56 108.27,353.39 108.35,358.33 108.44,363.21 108.53,367.83 108.61,372.02 108.70,375.63 108.79,378.49 108.87,380.49 108.96,381.54 109.04,381.57 109.13,380.57 109.22,378.54 109.30,375.54 109.39,371.66 109.48,367.02 109.56,361.78 109.65,356.12 109.74,350.24 109.82,344.34 109.91,338.65 109.99,333.37 110.08,328.70 110.17,324.82 110.25,321.90 110.34,320.04 110.43,319.33 110.51,319.82 110.60,321.51 110.68,324.35 110.77,328.27 110.86,333.12 110.94,338.75 111.03,344.97 111.12,351.56 111.20,358.28 111.29,364.90 111.37,371.17 111.46,376.86 111.55,381.76 111.63,385.68 111.72,388.47 111.81,390.02 111.89,390.26 111.98,389.16 112.07,386.75 112.15,383.10 112.24,378.33 112.32,372.61 112.41,366.12 112.50,359.10 112.58,351.80 112.67,344.46 112.76,337.37 112.84,330.77 112.93,324.91 113.01,320.00 113.10,316.23 113.19,313.74 113.27,312.63 113.36,312.96 113.45,314.71 113.53,317.84 113.62,322.24 113.70,327.77 113.79,334.22 113.88,341.39 113.96,349.01 114.05,356.81 114.14,364.51 114.22,371.84 114.31,378.53 114.40,384.34 114.48,389.06 114.57,392.51 114.65,394.56 114.74,395.14 114.83,394.21 114.91,391.80 115.00,388.00 115.09,382.93 115.17,376.78 115.26,369.76 115.34,362.11 115.43,354.11 115.52,346.05 115.60,338.21 115.69,330.87 115.78,324.31 115.86,318.74 115.95,314.39 116.03,311.39 116.12,309.87 116.21,309.88 116.29,311.42 116.38,314.44 116.47,318.82 116.55,324.43 116.64,331.05 116.73,338.46 116.81,346.38 116.90,354.54 116.98,362.63 117.07,370.39 117.16,377.51 117.24,383.76 117.33,388.92 117.42,392.78 117.50,395.23 117.59,396.17 117.67,395.57 117.76,393.45 117.85,389.89 117.93,385.03 118.02,379.03 118.11,372.12 118.19,364.53 118.28,356.55 118.37,348.45 118.45,340.53 118.54,333.07 118.62,326.34 118.71,320.57 118.80,315.96 118.88,312.68 118.97,310.84 119.06,310.49 119.14,311.66 119.23,314.28 119.31,318.27 119.40,323.47 119.49,329.69 119.57,336.71 119.66,344.27 119.75,352.11 119.83,359.94 119.92,367.48 120.00,374.47 120.09,380.66 120.18,385.83 120.26,389.80 120.35,392.44 120.44,393.67 120.52,393.44 120.61,391.77 120.70,388.74 120.78,384.45 120.87,379.08 120.95,372.81 121.04,365.87 121.13,358.52 121.21,351.03 121.30,343.65 121.39,336.66 121.47,330.29 121.56,324.77 121.64,320.29 121.73,317.00 121.82,315.02 121.90,314.39 121.99,315.13 122.08,317.20 122.16,320.52 122.25,324.96 122.33,330.35 122.42,336.49 122.51,343.15 122.59,350.10 122.68,357.08 122.77,363.84 122.85,370.15 122.94,375.79 123.03,380.55 123.11,384.29 123.20,386.88 123.28,388.24 123.37,388.33 123.46,387.16 123.54,384.79 123.63,381.33 123.72,376.89 123.80,371.66 123.89,365.82 123.97,359.60 124.06,353.22 124.15,346.90 124.23,340.88 124.32,335.36 124.41,330.53 124.49,326.56 124.58,323.57 124.66,321.66 124.75,320.89 124.84,321.25 124.92,322.74 125.01,325.26 125.10,328.73 125.18,333.01 125.27,337.92 125.36,343.29 125.44,348.92 125.53,354.60 125.61,360.13 125.70,365.31 125.79,369.98 125.87,373.96 125.96,377.13 126.05,379.39 126.13,380.67 126.22,380.95 126.30,380.23 126.39,378.56 126.48,376.01 126.56,372.69 126.65,368.73 126.74,364.29 126.82,359.52 126.91,354.62 127.00,349.75 127.08,345.09 127.17,340.80 127.25,337.02 127.34,333.89 127.43,331.49 127.51,329.90 127.60,329.17 127.69,329.28 127.77,330.23 127.86,331.96 127.94,334.39 128.03,337.42 128.12,340.93 128.20,344.78 128.29,348.81 128.38,352.90 128.46,356.88 128.55,360.62 128.63,363.99 128.72,366.88 128.81,369.20 128.89,370.88 128.98,371.88 129.07,372.17 129.15,371.78 129.24,370.73 129.33,369.07 129.41,366.90 129.50,364.29 129.58,361.36 129.67,358.22 129.76,354.99 129.84,351.79 129.93,348.74 130.02,345.93 130.10,343.47 130.19,341.43 130.27,339.86 130.36,338.82 130.45,338.31 130.53,338.34 130.62,338.89 130.71,339.92 130.79,341.36 130.88,343.16 130.96,345.23 131.05,347.49 131.14,349.84 131.22,352.20 131.31,354.48 131.40,356.60 131.48,358.49 131.57,360.08 131.66,361.34 131.74,362.24 131.83,362.75 131.91,362.88 132.00,362.65 132.09,362.08 132.17,361.20 132.26,360.08 132.35,358.77 132.43,357.33 132.52,355.81 132.60,354.29 132.69,352.83 132.78,351.47 132.86,350.26 132.95,349.25 133.04,348.45 133.12,347.88 133.21,347.55 133.29,347.45 133.38,347.57 133.47,347.88 133.55,348.36 133.64,348.97 133.73,349.66 133.81,350.40 133.90,351.15 133.99,351.88 134.07,352.54 134.16,353.12 134.24,353.59 134.33,353.93 134.42,354.16 134.50,354.25 134.59,354.24 134.68,354.12 134.76,353.93 134.85,353.68 134.93,353.41 135.02,353.14 135.11,352.90 135.19,352.71 135.28,352.60 135.37,352.58 135.45,352.66 135.54,352.84 135.62,353.12 135.71,353.48 135.80,353.91 135.88,354.39 135.97,354.88 136.06,355.37 136.14,355.80 136.23,356.16 136.32,356.42 136.40,356.54 136.49,356.50 136.57,356.30 136.66,355.92 136.75,355.36 136.83,354.65 136.92,353.78 137.01,352.80 137.09,351.73 137.18,350.62 137.26,349.51 137.35,348.44 137.44,347.48 137.52,346.66 137.61,346.02 137.70,345.62 137.78,345.47 137.87,345.59 137.96,346.01 138.04,346.71 138.13,347.69 138.21,348.91 138.30,350.35 138.39,351.96 138.47,353.69 138.56,355.46 138.65,357.22 138.73,358.89 138.82,360.42 138.90,361.73 138.99,362.76 139.08,363.47 139.16,363.81 139.25,363.76 139.34,363.32 139.42,362.47 139.51,361.24 139.59,359.66 139.68,357.78 139.77,355.66 139.85,353.37 139.94,351.00 140.03,348.62 140.11,346.33 140.20,344.22 140.29,342.36 140.37,340.84 140.46,339.71 140.54,339.04 140.63,338.86 140.72,339.17 140.80,340.00 140.89,341.32 140.98,343.08 141.06,345.24 141.15,347.73 141.23,350.46 141.32,353.34 141.41,356.26 141.49,359.12 141.58,361.81 141.67,364.23 141.75,366.29 141.84,367.91 141.92,369.01 142.01,369.56 142.10,369.51 142.18,368.86 142.27,367.62 142.36,365.84 142.44,363.56 142.53,360.86 142.62,357.83 142.70,354.57 142.79,351.21 142.87,347.86 142.96,344.64 143.05,341.68 143.13,339.07 143.22,336.93 143.31,335.33 143.39,334.35 143.48,334.01 143.56,334.35 143.65,335.36 143.74,337.01 143.82,339.25 143.91,342.01 144.00,345.18 144.08,348.67 144.17,352.34 144.25,356.07 144.34,359.73 144.43,363.18 144.51,366.29 144.60,368.95 144.69,371.07 144.77,372.55 144.86,373.34 144.95,373.41 145.03,372.74 145.12,371.36 145.20,369.31 145.29,366.66 145.38,363.49 145.46,359.92 145.55,356.08 145.64,352.10 145.72,348.12 145.81,344.28 145.89,340.73 145.98,337.59 146.07,334.98 146.15,332.99 146.24,331.71 146.33,331.17 146.41,331.41 146.50,332.41 146.59,334.15 146.67,336.56 146.76,339.57 146.84,343.07 146.93,346.93 147.02,351.02 147.10,355.20 147.19,359.30 147.28,363.19 147.36,366.73 147.45,369.79 147.53,372.25 147.62,374.03 147.71,375.06 147.79,375.31 147.88,374.75 147.97,373.42 148.05,371.36 148.14,368.63 148.22,365.34 148.31,361.60 148.40,357.55 148.48,353.33 148.57,349.08 148.66,344.97 148.74,341.14 148.83,337.73 148.92,334.85 149.00,332.61 149.09,331.10 149.17,330.36 149.26,330.42 149.35,331.29 149.43,332.92 149.52,335.26 149.61,338.22 149.69,341.71 149.78,345.59 149.86,349.72 149.95,353.96 150.04,358.16 150.12,362.16 150.21,365.83 150.30,369.03 150.38,371.65 150.47,373.60 150.55,374.81 150.64,375.24 150.73,374.87 150.81,373.73 150.90,371.84 150.99,369.29 151.07,366.17 151.16,362.59 151.25,358.67 151.33,354.56 151.42,350.41 151.50,346.37 151.59,342.57 151.68,339.16 151.76,336.24 151.85,333.94 151.94,332.31 152.02,331.43 152.11,331.31 152.19,331.96 152.28,333.34 152.37,335.42 152.45,338.10 152.54,341.29 152.63,344.88 152.71,348.73 152.80,352.70 152.88,356.66 152.97,360.45 153.06,363.96 153.14,367.05 153.23,369.62 153.32,371.57 153.40,372.85 153.49,373.42 153.58,373.25 153.66,372.36 153.75,370.79 153.83,368.60 153.92,365.87 154.01,362.70 154.09,359.21 154.18,355.52 154.27,351.78 154.35,348.11 154.44,344.64 154.52,341.49 154.61,338.78 154.70,336.59 154.78,335.00 154.87,334.06 154.96,333.80 155.04,334.22 155.13,335.29 155.22,336.98 155.30,339.22 155.39,341.91 155.47,344.96 155.56,348.26 155.65,351.69 155.73,355.13 155.82,358.44 155.91,361.52 155.99,364.26 156.08,366.56 156.16,368.35 156.25,369.57 156.34,370.18 156.42,370.18 156.51,369.56 156.60,368.37 156.68,366.64 156.77,364.45 156.85,361.88 156.94,359.02 157.03,355.99 157.11,352.90 157.20,349.85 157.29,346.95 157.37,344.31 157.46,342.01 157.55,340.13 157.63,338.73 157.72,337.86 157.80,337.53 157.89,337.75 157.98,338.51 158.06,339.76 158.15,341.45 158.24,343.52 158.32,345.89 158.41,348.46 158.49,351.14 158.58,353.84 158.67,356.45 158.75,358.89 158.84,361.08 158.93,362.93 159.01,364.39 159.10,365.41 159.18,365.98 159.27,366.07 159.36,365.69 159.44,364.86 159.53,363.63 159.62,362.05 159.70,360.18 159.79,358.09 159.88,355.86 159.96,353.58 160.05,351.33 160.13,349.19 160.22,347.22 160.31,345.51 160.39,344.10 160.48,343.03 160.57,342.34 160.65,342.04 160.74,342.14 160.82,342.61 160.91,343.43 161.00,344.57 161.08,345.97 161.17,347.58 161.26,349.33 161.34,351.16 161.43,352.99 161.51,354.77 161.60,356.43 161.69,357.91 161.77,359.17 161.86,360.16 161.95,360.87 162.03,361.27 162.12,361.36 162.21,361.15 162.29,360.65 162.38,359.89 162.46,358.92 162.55,357.76 162.64,356.48 162.72,355.11 162.81,353.72 162.90,352.36 162.98,351.07 163.07,349.90 163.15,348.88 163.24,348.06 163.33,347.44 163.41,347.04 163.50,346.87 163.59,346.93 163.67,347.19 163.76,347.65 163.85,348.27 163.93,349.03 164.02,349.88 164.10,350.80 164.19,351.74 164.28,352.67 164.36,353.56 164.45,354.36 164.54,355.07 164.62,355.64 164.71,356.08 164.79,356.38 164.88,356.52 164.97,356.52 165.05,356.39 165.14,356.14 165.23,355.78 165.31,355.35 165.40,354.86 165.48,354.35 165.57,353.83 165.66,353.32 165.74,352.86 165.83,352.44 165.92,352.10 166.00,351.83 166.09,351.65 166.18,351.54 166.26,351.52 166.35,351.56 166.43,351.67 166.52,351.82 166.61,352.00 166.69,352.19 166.78,352.38 166.87,352.56 166.95,352.71 167.04,352.82 167.12,352.89 167.21,352.90 167.30,352.86 167.38,352.78 167.47,352.66 167.56,352.50 167.64,352.33 167.73,352.15 167.81,351.98 167.90,351.84 167.99,351.73 168.07,351.68 168.16,351.69 168.25,351.77 168.33,351.93 168.42,352.16 168.51,352.46 168.59,352.82 168.68,353.23 168.76,353.68 168.85,354.15 168.94,354.61 169.02,355.04 169.11,355.43 169.20,355.74 169.28,355.97 169.37,356.09 169.45,356.10 169.54,355.98 169.63,355.73 169.71,355.35 169.80,354.85 169.89,354.24 169.97,353.54 170.06,352.78 170.15,351.98 170.23,351.17 170.32,350.38 170.40,349.65 170.49,349.00 170.58,348.47 170.66,348.08 170.75,347.85 170.84,347.80 170.92,347.94 171.01,348.27 171.09,348.79 171.18,349.47 171.27,350.31 171.35,351.28 171.44,352.34 171.53,353.47 171.61,354.60 171.70,355.72 171.78,356.77 171.87,357.71 171.96,358.50 172.04,359.11 172.13,359.52 172.22,359.69 172.30,359.62 172.39,359.30 172.48,358.75 172.56,357.96 172.65,356.97 172.73,355.80 172.82,354.50 172.91,353.11 172.99,351.68 173.08,350.26 173.17,348.91 173.25,347.66 173.34,346.58 173.42,345.71 173.51,345.08 173.60,344.72 173.68,344.64 173.77,344.87 173.86,345.38 173.94,346.18 174.03,347.24 174.11,348.52 174.20,349.98 174.29,351.57 174.37,353.24 174.46,354.92 174.55,356.55 174.63,358.09 174.72,359.45 174.81,360.61 174.89,361.50 174.98,362.10 175.06,362.37 175.15,362.31 175.24,361.91 175.32,361.18 175.41,360.15 175.50,358.84 175.58,357.30 175.67,355.58 175.75,353.75 175.84,351.86 175.93,349.99 176.01,348.20 176.10,346.57 176.19,345.14 176.27,343.97 176.36,343.11 176.44,342.60 176.53,342.44 176.62,342.67 176.70,343.25 176.79,344.19 176.88,345.45 176.96,346.99 177.05,348.75 177.14,350.68 177.22,352.70 177.31,354.74 177.39,356.73 177.48,358.60 177.57,360.28 177.65,361.71 177.74,362.83 177.83,363.61 177.91,364.01 178.00,364.01 178.08,363.62 178.17,362.84 178.26,361.71 178.34,360.25 178.43,358.52 178.52,356.58 178.60,354.51 178.69,352.36 178.78,350.23 178.86,348.18 178.95,346.29 179.03,344.62 179.12,343.25 179.21,342.21 179.29,341.56 179.38,341.30 179.47,341.46 179.55,342.02 179.64,342.98 179.72,344.29 179.81,345.91 179.90,347.78 179.98,349.84 180.07,352.02 180.16,354.23 180.24,356.39 180.33,358.44 180.41,360.29 180.50,361.88 180.59,363.15 180.67,364.06 180.76,364.57 180.85,364.67 180.93,364.35 181.02,363.62 181.11,362.51 181.19,361.06 181.28,359.32 181.36,357.35 181.45,355.22 181.54,353.01 181.62,350.80 181.71,348.66 181.80,346.68 181.88,344.92 181.97,343.45 182.05,342.31 182.14,341.55 182.23,341.20 182.31,341.26 182.40,341.74 182.49,342.61 182.57,343.85 182.66,345.40 182.74,347.22 182.83,349.23 182.92,351.37 183.00,353.56 183.09,355.71 183.18,357.76 183.26,359.63 183.35,361.26 183.44,362.58 183.52,363.55 183.61,364.14 183.69,364.33 183.78,364.12 183.87,363.50 183.95,362.52 184.04,361.19 184.13,359.58 184.21,357.74 184.30,355.73 184.38,353.64 184.47,351.53 184.56,349.48 184.64,347.57 184.73,345.85 184.82,344.40 184.90,343.25 184.99,342.46 185.07,342.04 185.16,342.00 185.25,342.36 185.33,343.08 185.42,344.15 185.51,345.52 185.59,347.15 185.68,348.96 185.77,350.90 185.85,352.90 185.94,354.88 186.02,356.78 186.11,358.52 186.20,360.05 186.28,361.31 186.37,362.26 186.46,362.88 186.54,363.13 186.63,363.02 186.71,362.55 186.80,361.75 186.89,360.64 186.97,359.26 187.06,357.68 187.15,355.94 187.23,354.11 187.32,352.25 187.41,350.44 187.49,348.74 187.58,347.20 187.66,345.88 187.75,344.82 187.84,344.07 187.92,343.63 188.01,343.53 188.10,343.76 188.18,344.31 188.27,345.15 188.35,346.27 188.44,347.60 188.53,349.10 188.61,350.72 188.70,352.40 188.79,354.07 188.87,355.67 188.96,357.16 189.04,358.47 189.13,359.57 189.22,360.42 189.30,360.98 189.39,361.26 189.48,361.23 189.56,360.91 189.65,360.31 189.74,359.46 189.82,358.39 189.91,357.14 189.99,355.76 190.08,354.31 190.17,352.83 190.25,351.37 190.34,350.00 190.43,348.75 190.51,347.67 190.60,346.79 190.68,346.15 190.77,345.76 190.86,345.62 190.94,345.75 191.03,346.13 191.12,346.74 191.20,347.55 191.29,348.54 191.37,349.66 191.46,350.88 191.55,352.14 191.63,353.40 191.72,354.62 191.81,355.75 191.89,356.75 191.98,357.60 192.07,358.26 192.15,358.71 192.24,358.95 192.32,358.97 192.41,358.77 192.50,358.38 192.58,357.79 192.67,357.05 192.76,356.18 192.84,355.22 192.93,354.20 193.01,353.16 193.10,352.14 193.19,351.17 193.27,350.30 193.36,349.54 193.45,348.92 193.53,348.46 193.62,348.17 193.70,348.05 193.79,348.12 193.88,348.35 193.96,348.73 194.05,349.25 194.14,349.88 194.22,350.60 194.31,351.38 194.40,352.18 194.48,352.98 194.57,353.75 194.65,354.46 194.74,355.09 194.83,355.61 194.91,356.02 195.00,356.31 195.09,356.46 195.17,356.47 195.26,356.36 195.34,356.13 195.43,355.80 195.52,355.37 195.60,354.88 195.69,354.34 195.78,353.78 195.86,353.21 195.95,352.66 196.04,352.14 196.12,351.68 196.21,351.29 196.29,350.98 196.38,350.75 196.47,350.62 196.55,350.58 196.64,350.62 196.73,350.75 196.81,350.94 196.90,351.20 196.98,351.49 197.07,351.82 197.16,352.16 197.24,352.51 197.33,352.84 197.42,353.14 197.50,353.41 197.59,353.63 197.67,353.80 197.76,353.93 197.85,353.99 197.93,354.01 198.02,353.98 198.11,353.90 198.19,353.80 198.28,353.67 198.37,353.52 198.45,353.38 198.54,353.23 198.62,353.10 198.71,352.98 198.80,352.89 198.88,352.82 198.97,352.79 199.06,352.78 199.14,352.80 199.23,352.84 199.31,352.90 199.40,352.97 199.49,353.04 199.57,353.11 199.66,353.16 199.75,353.20 199.83,353.21 199.92,353.20 200.00,353.15 200.09,353.07 200.18,352.97 200.26,352.83 200.35,352.67 200.44,352.49 200.52,352.31 200.61,352.13 200.70,351.96 200.78,351.81 200.87,351.69 200.95,351.61 201.04,351.58 201.13,351.60 201.21,351.68 201.30,351.81 201.39,352.00 201.47,352.24 201.56,352.53 201.64,352.85 201.73,353.20 201.82,353.56 201.90,353.92 201.99,354.26 202.08,354.57 202.16,354.83 202.25,355.04 202.33,355.18 202.42,355.23 202.51,355.20 202.59,355.09 202.68,354.88 202.77,354.59 202.85,354.23 202.94,353.80 203.03,353.31 203.11,352.79 203.20,352.26 203.28,351.72 203.37,351.21 203.46,350.75 203.54,350.34 203.63,350.02 203.72,349.79 203.80,349.66 203.89,349.66 203.97,349.77 204.06,349.99 204.15,350.34 204.23,350.78 204.32,351.32 204.41,351.93 204.49,352.59 204.58,353.28 204.66,353.98 204.75,354.65 204.84,355.28 204.92,355.84 205.01,356.30 205.10,356.65 205.18,356.88 205.27,356.96 205.36,356.90 205.44,356.69 205.53,356.35 205.61,355.86 205.70,355.27 205.79,354.57 205.87,353.80 205.96,352.98 206.05,352.15 206.13,351.32 206.22,350.54 206.30,349.83 206.39,349.22 206.48,348.73 206.56,348.38 206.65,348.19 206.74,348.16 206.82,348.31 206.91,348.62 207.00,349.10 207.08,349.71 207.17,350.45 207.25,351.29 207.34,352.19 207.43,353.14 207.51,354.09 207.60,355.00 207.69,355.86 207.77,356.62 207.86,357.25 207.94,357.74 208.03,358.05 208.12,358.19 208.20,358.14 208.29,357.90 208.38,357.48 208.46,356.89 208.55,356.15 208.63,355.29 208.72,354.33 208.81,353.32 208.89,352.27 208.98,351.25 209.07,350.27 209.15,349.38 209.24,348.61 209.33,347.98 209.41,347.53 209.50,347.26 209.58,347.19 209.67,347.33 209.76,347.67 209.84,348.19 209.93,348.89 210.02,349.74 210.10,350.70 210.19,351.75 210.27,352.84 210.36,353.95 210.45,355.02 210.53,356.02 210.62,356.92 210.71,357.68 210.79,358.27 210.88,358.67 210.96,358.87 211.05,358.85 211.14,358.63 211.22,358.19 211.31,357.57 211.40,356.78 211.48,355.85 211.57,354.81 211.66,353.70 211.74,352.56 211.83,351.42 211.91,350.34 212.00,349.34 212.09,348.47 212.17,347.76 212.26,347.22 212.35,346.89 212.43,346.77 212.52,346.87 212.60,347.18 212.69,347.70 212.78,348.41 212.86,349.27 212.95,350.26 213.04,351.35 213.12,352.49 213.21,353.65 213.30,354.78 213.38,355.85 213.47,356.81 213.55,357.63 213.64,358.28 213.73,358.74 213.81,358.99 213.90,359.03 213.99,358.84 214.07,358.45 214.16,357.86 214.24,357.09 214.33,356.18 214.42,355.15 214.50,354.05 214.59,352.90 214.68,351.76 214.76,350.66 214.85,349.64 214.93,348.74 215.02,347.99 215.11,347.42 215.19,347.05 215.28,346.88 215.37,346.93 215.45,347.19 215.54,347.65 215.63,348.30 215.71,349.10 215.80,350.04 215.88,351.08 215.97,352.17 216.06,353.29 216.14,354.39 216.23,355.43 216.32,356.37 216.40,357.19 216.49,357.85 216.57,358.33 216.66,358.62 216.75,358.70 216.83,358.58 216.92,358.25 217.01,357.74 217.09,357.06 217.18,356.23 217.26,355.29 217.35,354.28 217.44,353.22 217.52,352.16 217.61,351.13 217.70,350.17 217.78,349.32 217.87,348.60 217.96,348.03 218.04,347.65 218.13,347.45 218.21,347.45 218.30,347.64 218.39,348.02 218.47,348.56 218.56,349.26 218.65,350.08 218.73,350.99 218.82,351.96 218.90,352.95 218.99,353.93 219.08,354.87 219.16,355.73 219.25,356.48 219.34,357.09 219.42,357.55 219.51,357.84 219.59,357.95 219.68,357.88 219.77,357.64 219.85,357.23 219.94,356.67 220.03,355.99 220.11,355.20 220.20,354.34 220.29,353.45 220.37,352.54 220.46,351.65 220.54,350.83 220.63,350.08 220.72,349.45 220.80,348.94 220.89,348.59 220.98,348.39 221.06,348.35 221.15,348.47 221.23,348.75 221.32,349.17 221.41,349.72 221.49,350.37 221.58,351.11 221.67,351.89 221.75,352.70 221.84,353.50 221.93,354.27 222.01,354.98 222.10,355.60 222.18,356.12 222.27,356.51 222.36,356.77 222.44,356.89 222.53,356.87 222.62,356.70 222.70,356.41 222.79,355.99 222.87,355.48 222.96,354.88 223.05,354.22 223.13,353.53 223.22,352.83 223.31,352.15 223.39,351.50 223.48,350.92 223.56,350.42 223.65,350.02 223.74,349.73 223.82,349.56 223.91,349.51 224.00,349.58 224.08,349.77 224.17,350.06 224.26,350.45 224.34,350.91 224.43,351.43 224.51,352.00 224.60,352.58 224.69,353.16 224.77,353.71 224.86,354.23 224.95,354.68 225.03,355.06 225.12,355.35 225.20,355.54 225.29,355.64 225.38,355.64 225.46,355.54 225.55,355.35 225.64,355.08 225.72,354.74 225.81,354.34 225.89,353.91 225.98,353.45 226.07,352.99 226.15,352.54 226.24,352.12 226.33,351.74 226.41,351.41 226.50,351.15 226.59,350.96 226.67,350.84 226.76,350.81 226.84,350.84 226.93,350.95 227.02,351.13 227.10,351.36 227.19,351.63 227.28,351.94 227.36,352.28 227.45,352.61 227.53,352.95 227.62,353.27 227.71,353.56 227.79,353.81 227.88,354.02 227.97,354.18 228.05,354.28 228.14,354.33 228.22,354.33 228.31,354.27 228.40,354.17 228.48,354.03 228.57,353.85 228.66,353.65 228.74,353.44 228.83,353.22 228.92,353.00 229.00,352.80 229.09,352.61 229.17,352.45 229.26,352.32 229.35,352.21 229.43,352.15 229.52,352.11 229.61,352.11 229.69,352.14 229.78,352.20 229.86,352.28 229.95,352.37 230.04,352.48 230.12,352.58 230.21,352.69 230.30,352.80 230.38,352.89 230.47,352.97 230.56,353.03 230.64,353.07 230.73,353.10 230.81,353.11 230.90,353.10 230.99,353.08 231.07,353.05 231.16,353.01 231.25,352.97 231.33,352.93 231.42,352.90 231.50,352.88 231.59,352.86 231.68,352.86 231.76,352.88 231.85,352.91 231.94,352.95 232.02,353.00 232.11,353.06 232.19,353.13 232.28,353.20 232.37,353.26 232.45,353.32 232.54,353.37 232.63,353.39 232.71,353.40 232.80,353.39 232.89,353.35 232.97,353.29 233.06,353.20 233.14,353.09 233.23,352.96 233.32,352.82 233.40,352.67 233.49,352.51 233.58,352.36 233.66,352.22 233.75,352.09 233.83,351.98 233.92,351.91 234.01,351.87 234.09,351.86 234.18,351.90 234.27,351.97 234.35,352.09 234.44,352.24 234.52,352.43 234.61,352.64 234.70,352.88 234.78,353.12 234.87,353.37 234.96,353.61 235.04,353.84 235.13,354.04 235.22,354.21 235.30,354.34 235.39,354.41 235.47,354.44 235.56,354.41 235.65,354.32 235.73,354.18 235.82,353.98 235.91,353.74 235.99,353.46 236.08,353.15 236.16,352.82 236.25,352.48 236.34,352.15 236.42,351.84 236.51,351.55 236.60,351.31 236.68,351.12 236.77,350.99 236.85,350.92 236.94,350.93 237.03,351.01 237.11,351.16 237.20,351.37 237.29,351.65 237.37,351.97 237.46,352.34 237.55,352.74 237.63,353.15 237.72,353.56 237.80,353.95 237.89,354.32 237.98,354.64 238.06,354.90 238.15,355.10 238.24,355.22 238.32,355.26 238.41,355.22 238.49,355.09 238.58,354.88 238.67,354.59 238.75,354.24 238.84,353.84 238.93,353.39 239.01,352.92 239.10,352.45 239.19,351.98 239.27,351.54 239.36,351.14 239.44,350.80 239.53,350.53 239.62,350.34 239.70,350.24 239.79,350.24 239.88,350.33 239.96,350.51 240.05,350.78 240.13,351.14 240.22,351.55 240.31,352.03 240.39,352.53 240.48,353.06 240.57,353.58 240.65,354.09 240.74,354.56 240.82,354.97 240.91,355.32 241.00,355.58 241.08,355.74 241.17,355.81 241.26,355.77 241.34,355.63 241.43,355.39 241.52,355.06 241.60,354.65 241.69,354.18 241.77,353.65 241.86,353.10 241.95,352.53 242.03,351.97 242.12,351.45 242.21,350.97 242.29,350.55 242.38,350.22 242.46,349.99 242.55,349.85 242.64,349.82 242.72,349.91 242.81,350.09 242.90,350.39 242.98,350.77 243.07,351.23 243.15,351.75 243.24,352.31 243.33,352.90 243.41,353.49 243.50,354.06" fill="none" stroke="#c44e52" stroke-width="1.75" stroke-linejoin="round"/>
<rect x="70.9" y="240.2" width="172.6" height="225.40000000000003" fill="none" stroke="#262626" stroke-width="1.2"/>
<line x1="65.9" y1="240.2" x2="70.9" y2="240.2" stroke="#262626" stroke-width="1.1"/>
<line x1="65.9" y1="352.9" x2="70.9" y2="352.9" stroke="#262626" stroke-width="1.1"/>
<line x1="65.9" y1="465.6" x2="70.9" y2="465.6" stroke="#262626" stroke-width="1.1"/>
<line x1="70.9" y1="465.6" x2="70.9" y2="470.6" stroke="#262626" stroke-width="1.1"/>
<line x1="157.2" y1="465.6" x2="157.2" y2="470.6" stroke="#262626" stroke-width="1.1"/>
<line x1="243.5" y1="465.6" x2="243.5" y2="470.6" stroke="#262626" stroke-width="1.1"/>
<text x="48.0" y="245.4" font-size="21.3" fill="#1e1e1e" text-anchor="start" textLength="10.0" lengthAdjust="spacingAndGlyphs">1</text>
<text x="47.7" y="360.0" font-size="21.3" fill="#1e1e1e" text-anchor="start" textLength="10.2" lengthAdjust="spacingAndGlyphs">0</text>
<text x="31.2" y="472.3" font-size="21.3" fill="#1e1e1e" text-anchor="start" textLength="25.0" lengthAdjust="spacingAndGlyphs">−1</text>
<text x="70.9" y="494.6" font-size="21.3" fill="#1e1e1e" text-anchor="middle" textLength="10.2" lengthAdjust="spacingAndGlyphs">0</text>
<text x="140.8" y="494.6" font-size="21.3" fill="#1e1e1e" text-anchor="start" textLength="33.0" lengthAdjust="spacingAndGlyphs">100</text>
<text x="228.0" y="494.6" font-size="21.3" fill="#1e1e1e" text-anchor="start" textLength="32.0" lengthAdjust="spacingAndGlyphs">200</text>
<text x="130.8" y="519.6" font-size="21.3" fill="#1e1e1e" text-anchor="start" textLength="7.0" lengthAdjust="spacingAndGlyphs">t</text>
<text x="148.3" y="519.6" font-size="21.3" fill="#1e1e1e" text-anchor="start" textLength="35.2" lengthAdjust="spacingAndGlyphs">(ns)</text>
<text x="0.6" y="244.8" font-size="18" fill="#1e1e1e" text-anchor="start" textLength="18.0" lengthAdjust="spacingAndGlyphs">(c)</text>
<g transform="translate(20,406.8) rotate(-90)">
<text x="0.0" y="0.0" font-size="21.5" fill="#1e1e1e" text-anchor="start" textLength="96.0" lengthAdjust="spacingAndGlyphs">Re(a,b)/a</text>
<text x="96.5" y="3.5" font-size="14" fill="#1e1e1e" text-anchor="start" textLength="7.5" lengthAdjust="spacingAndGlyphs">0</text>
</g>
<line x1="193" y1="277.2" x2="211.2" y2="277.2" stroke="#4c72b0" stroke-width="1.6"/>
<line x1="193" y1="296.2" x2="211.2" y2="296.2" stroke="#c44e52" stroke-width="1.6"/>
<text x="220.8" y="280.8" font-size="18" fill="#1e1e1e" text-anchor="start" textLength="8.0" lengthAdjust="spacingAndGlyphs">a</text>
<text x="220.5" y="301.2" font-size="18" fill="#1e1e1e" text-anchor="start" textLength="8.8" lengthAdjust="spacingAndGlyphs">b</text>
</g>
<g id="pd">
<line x1="329.4" y1="307.3" x2="504.2" y2="307.3" stroke="#c9cdd6" stroke-width="1.1"/>
<polyline points="329.40,249.50 329.84,249.93 330.27,250.60 330.71,251.51 331.15,252.65 331.58,253.99 332.02,255.53 332.46,257.25 332.90,259.12 333.33,261.13 333.77,263.25 334.21,265.46 334.64,267.73 335.08,270.05 335.52,272.37 335.95,274.68 336.39,276.95 336.83,279.15 337.27,281.28 337.70,283.29 338.14,285.17 338.58,286.91 339.01,288.48 339.45,289.87 339.89,291.07 340.32,292.07 340.76,292.85 341.20,293.42 341.64,293.78 342.07,293.91 342.51,293.83 342.95,293.55 343.38,293.05 343.82,292.37 344.26,291.51 344.69,290.48 345.13,289.30 345.57,287.99 346.01,286.56 346.44,285.04 346.88,283.45 347.32,281.80 347.75,280.13 348.19,278.44 348.63,276.78 349.06,275.14 349.50,273.57 349.94,272.07 350.38,270.66 350.81,269.37 351.25,268.21 351.69,267.19 352.12,266.32 352.56,265.62 353.00,265.09 353.44,264.74 353.87,264.58 354.31,264.60 354.75,264.81 355.18,265.20 355.62,265.77 356.06,266.51 356.49,267.40 356.93,268.45 357.37,269.64 357.81,270.96 358.24,272.38 358.68,273.89 359.12,275.49 359.55,277.13 359.99,278.82 360.43,280.53 360.86,282.24 361.30,283.93 361.74,285.59 362.17,287.19 362.61,288.73 363.05,290.17 363.49,291.52 363.92,292.75 364.36,293.86 364.80,294.83 365.23,295.65 365.67,296.32 366.11,296.84 366.54,297.20 366.98,297.39 367.42,297.43 367.86,297.31 368.29,297.04 368.73,296.62 369.17,296.06 369.60,295.37 370.04,294.57 370.48,293.66 370.91,292.66 371.35,291.58 371.79,290.43 372.23,289.24 372.66,288.02 373.10,286.78 373.54,285.54 373.97,284.32 374.41,283.13 374.85,281.99 375.28,280.91 375.72,279.91 376.16,278.99 376.60,278.18 377.03,277.47 377.47,276.88 377.91,276.41 378.34,276.08 378.78,275.88 379.22,275.81 379.65,275.88 380.09,276.09 380.53,276.43 380.97,276.90 381.40,277.49 381.84,278.20 382.28,279.01 382.71,279.93 383.15,280.93 383.59,282.00 384.02,283.15 384.46,284.34 384.90,285.57 385.34,286.82 385.77,288.08 386.21,289.33 386.65,290.57 387.08,291.78 387.52,292.94 387.96,294.05 388.39,295.09 388.83,296.04 389.27,296.92 389.71,297.69 390.14,298.36 390.58,298.93 391.02,299.38 391.45,299.71 391.89,299.93 392.33,300.02 392.76,300.01 393.20,299.87 393.64,299.63 394.08,299.28 394.51,298.83 394.95,298.28 395.39,297.66 395.82,296.96 396.26,296.20 396.70,295.38 397.13,294.52 397.57,293.63 398.01,292.73 398.45,291.81 398.88,290.90 399.32,290.01 399.76,289.15 400.19,288.33 400.63,287.55 401.07,286.84 401.50,286.19 401.94,285.62 402.38,285.13 402.82,284.73 403.25,284.43 403.69,284.22 404.13,284.11 404.56,284.10 405.00,284.20 405.44,284.39 405.88,284.68 406.31,285.06 406.75,285.53 407.19,286.08 407.62,286.72 408.06,287.42 408.50,288.18 408.93,288.99 409.37,289.85 409.81,290.74 410.25,291.65 410.68,292.58 411.12,293.51 411.56,294.43 411.99,295.33 412.43,296.21 412.87,297.05 413.30,297.85 413.74,298.59 414.18,299.27 414.62,299.89 415.05,300.43 415.49,300.89 415.93,301.27 416.36,301.57 416.80,301.78 417.24,301.91 417.67,301.94 418.11,301.89 418.55,301.76 418.99,301.55 419.42,301.26 419.86,300.90 420.30,300.48 420.73,300.00 421.17,299.46 421.61,298.88 422.04,298.27 422.48,297.62 422.92,296.96 423.36,296.29 423.79,295.62 424.23,294.95 424.67,294.30 425.10,293.68 425.54,293.08 425.98,292.53 426.41,292.02 426.85,291.57 427.29,291.17 427.73,290.84 428.16,290.57 428.60,290.38 429.04,290.25 429.47,290.20 429.91,290.22 430.35,290.32 430.78,290.49 431.22,290.73 431.66,291.04 432.09,291.41 432.53,291.85 432.97,292.33 433.41,292.87 433.84,293.44 434.28,294.06 434.72,294.70 435.15,295.36 435.59,296.04 436.03,296.72 436.46,297.41 436.90,298.08 437.34,298.74 437.78,299.38 438.21,299.99 438.65,300.56 439.09,301.09 439.52,301.57 439.96,302.00 440.40,302.38 440.83,302.70 441.27,302.95 441.71,303.15 442.15,303.28 442.58,303.34 443.02,303.35 443.46,303.29 443.89,303.16 444.33,302.98 444.77,302.75 445.20,302.47 445.64,302.14 446.08,301.76 446.52,301.36 446.95,300.92 447.39,300.46 447.83,299.98 448.26,299.48 448.70,298.99 449.14,298.49 449.57,298.01 450.01,297.54 450.45,297.08 450.89,296.66 451.32,296.26 451.76,295.90 452.20,295.59 452.63,295.31 453.07,295.08 453.51,294.91 453.94,294.78 454.38,294.72 454.82,294.70 455.26,294.74 455.69,294.83 456.13,294.98 456.57,295.18 457.00,295.42 457.44,295.72 457.88,296.05 458.31,296.42 458.75,296.83 459.19,297.27 459.63,297.73 460.06,298.21 460.50,298.70 460.94,299.20 461.37,299.71 461.81,300.21 462.25,300.70 462.69,301.18 463.12,301.64 463.56,302.08 464.00,302.49 464.43,302.87 464.87,303.21 465.31,303.51 465.74,303.77 466.18,303.99 466.62,304.16 467.06,304.28 467.49,304.36 467.93,304.39 468.37,304.37 468.80,304.31 469.24,304.20 469.68,304.06 470.11,303.87 470.55,303.64 470.99,303.39 471.42,303.10 471.86,302.79 472.30,302.46 472.74,302.12 473.17,301.76 473.61,301.39 474.05,301.03 474.48,300.67 474.92,300.31 475.36,299.97 475.79,299.64 476.23,299.34 476.67,299.06 477.11,298.80 477.54,298.58 477.98,298.39 478.42,298.24 478.85,298.13 479.29,298.05 479.73,298.02 480.16,298.02 480.60,298.07 481.04,298.15 481.48,298.27 481.91,298.43 482.35,298.63 482.79,298.86 483.22,299.12 483.66,299.40 484.10,299.71 484.53,300.04 484.97,300.39 485.41,300.74 485.85,301.11 486.28,301.48 486.72,301.85 487.16,302.22 487.59,302.58 488.03,302.93 488.47,303.26 488.90,303.58 489.34,303.87 489.78,304.14 490.22,304.38 490.65,304.59 491.09,304.77 491.53,304.91 491.96,305.03 492.40,305.10 492.84,305.15 493.27,305.16 493.71,305.13 494.15,305.07 494.59,304.98 495.02,304.86 495.46,304.71 495.90,304.53 496.33,304.34 496.77,304.12 497.21,303.88 497.64,303.63 498.08,303.38 498.52,303.11 498.96,302.84 499.39,302.57 499.83,302.31 500.27,302.05 500.70,301.80 501.14,301.57 501.58,301.35 502.01,301.15 502.45,300.97 502.89,300.82 503.33,300.69 503.76,300.59 504.20,300.51" fill="none" stroke="#c44e52" stroke-width="1.2" stroke-linejoin="round"/>
<polyline points="329.40,307.30 329.84,307.20 330.27,306.89 330.71,306.39 331.15,305.71 331.58,304.85 332.02,303.83 332.46,302.66 332.90,301.36 333.33,299.95 333.77,298.45 334.21,296.87 334.64,295.24 335.08,293.58 335.52,291.90 335.95,290.24 336.39,288.60 336.83,287.02 337.27,285.51 337.70,284.08 338.14,282.76 338.58,281.56 339.01,280.49 339.45,279.57 339.89,278.81 340.32,278.21 340.76,277.78 341.20,277.53 341.64,277.46 342.07,277.56 342.51,277.84 342.95,278.30 343.38,278.91 343.82,279.69 344.26,280.61 344.69,281.66 345.13,282.84 345.57,284.13 346.01,285.51 346.44,286.96 346.88,288.47 347.32,290.03 347.75,291.61 348.19,293.19 348.63,294.76 349.06,296.30 349.50,297.80 349.94,299.23 350.38,300.58 350.81,301.83 351.25,302.98 351.69,304.02 352.12,304.92 352.56,305.69 353.00,306.31 353.44,306.78 353.87,307.10 354.31,307.27 354.75,307.29 355.18,307.15 355.62,306.87 356.06,306.45 356.49,305.89 356.93,305.21 357.37,304.41 357.81,303.51 358.24,302.52 358.68,301.45 359.12,300.32 359.55,299.14 359.99,297.92 360.43,296.69 360.86,295.46 361.30,294.24 361.74,293.05 362.17,291.90 362.61,290.81 363.05,289.79 363.49,288.85 363.92,288.00 364.36,287.26 364.80,286.63 365.23,286.11 365.67,285.72 366.11,285.46 366.54,285.33 366.98,285.33 367.42,285.45 367.86,285.71 368.29,286.09 368.73,286.60 369.17,287.21 369.60,287.93 370.04,288.74 370.48,289.65 370.91,290.62 371.35,291.66 371.79,292.75 372.23,293.88 372.66,295.04 373.10,296.20 373.54,297.37 373.97,298.52 374.41,299.64 374.85,300.73 375.28,301.76 375.72,302.73 376.16,303.62 376.60,304.43 377.03,305.16 377.47,305.78 377.91,306.31 378.34,306.72 378.78,307.03 379.22,307.22 379.65,307.30 380.09,307.26 380.53,307.12 380.97,306.87 381.40,306.52 381.84,306.07 382.28,305.53 382.71,304.91 383.15,304.22 383.59,303.47 384.02,302.66 384.46,301.81 384.90,300.93 385.34,300.03 385.77,299.12 386.21,298.21 386.65,297.32 387.08,296.46 387.52,295.63 387.96,294.84 388.39,294.11 388.83,293.45 389.27,292.85 389.71,292.34 390.14,291.90 390.58,291.56 391.02,291.31 391.45,291.15 391.89,291.10 392.33,291.13 392.76,291.27 393.20,291.49 393.64,291.81 394.08,292.21 394.51,292.70 394.95,293.26 395.39,293.88 395.82,294.57 396.26,295.31 396.70,296.09 397.13,296.91 397.57,297.75 398.01,298.61 398.45,299.47 398.88,300.32 399.32,301.16 399.76,301.98 400.19,302.76 400.63,303.51 401.07,304.20 401.50,304.84 401.94,305.41 402.38,305.91 402.82,306.35 403.25,306.70 403.69,306.97 404.13,307.17 404.56,307.27 405.00,307.30 405.44,307.24 405.88,307.10 406.31,306.89 406.75,306.60 407.19,306.24 407.62,305.82 408.06,305.34 408.50,304.81 408.93,304.24 409.37,303.63 409.81,303.00 410.25,302.34 410.68,301.67 411.12,301.00 411.56,300.34 411.99,299.69 412.43,299.06 412.87,298.46 413.30,297.90 413.74,297.38 414.18,296.91 414.62,296.49 415.05,296.14 415.49,295.84 415.93,295.62 416.36,295.46 416.80,295.38 417.24,295.36 417.67,295.42 418.11,295.54 418.55,295.74 418.99,296.00 419.42,296.32 419.86,296.70 420.30,297.13 420.73,297.61 421.17,298.13 421.61,298.69 422.04,299.28 422.48,299.89 422.92,300.51 423.36,301.15 423.79,301.78 424.23,302.41 424.67,303.02 425.10,303.61 425.54,304.18 425.98,304.71 426.41,305.21 426.85,305.66 427.29,306.06 427.73,306.41 428.16,306.71 428.60,306.95 429.04,307.12 429.47,307.24 429.91,307.30 430.35,307.29 430.78,307.22 431.22,307.10 431.66,306.92 432.09,306.68 432.53,306.40 432.97,306.07 433.41,305.71 433.84,305.30 434.28,304.87 434.72,304.41 435.15,303.94 435.59,303.45 436.03,302.96 436.46,302.46 436.90,301.98 437.34,301.50 437.78,301.05 438.21,300.62 438.65,300.21 439.09,299.85 439.52,299.51 439.96,299.23 440.40,298.98 440.83,298.79 441.27,298.64 441.71,298.54 442.15,298.50 442.58,298.51 443.02,298.57 443.46,298.69 443.89,298.85 444.33,299.06 444.77,299.31 445.20,299.61 445.64,299.94 446.08,300.31 446.52,300.71 446.95,301.13 447.39,301.57 447.83,302.02 448.26,302.49 448.70,302.95 449.14,303.42 449.57,303.88 450.01,304.32 450.45,304.75 450.89,305.16 451.32,305.54 451.76,305.90 452.20,306.21 452.63,306.50 453.07,306.74 453.51,306.94 453.94,307.10 454.38,307.21 454.82,307.28 455.26,307.30 455.69,307.28 456.13,307.21 456.57,307.10 457.00,306.95 457.44,306.77 457.88,306.55 458.31,306.29 458.75,306.01 459.19,305.70 459.63,305.38 460.06,305.03 460.50,304.68 460.94,304.32 461.37,303.95 461.81,303.59 462.25,303.24 462.69,302.89 463.12,302.56 463.56,302.25 464.00,301.97 464.43,301.71 464.87,301.47 465.31,301.27 465.74,301.11 466.18,300.98 466.62,300.89 467.06,300.83 467.49,300.82 467.93,300.84 468.37,300.90 468.80,301.00 469.24,301.13 469.68,301.30 470.11,301.50 470.55,301.73 470.99,301.98 471.42,302.26 471.86,302.56 472.30,302.88 472.74,303.21 473.17,303.55 473.61,303.89 474.05,304.23 474.48,304.58 474.92,304.91 475.36,305.23 475.79,305.55 476.23,305.84 476.67,306.11 477.11,306.36 477.54,306.59 477.98,306.78 478.42,306.95 478.85,307.08 479.29,307.19 479.73,307.26 480.16,307.29 480.60,307.30 481.04,307.27 481.48,307.21 481.91,307.11 482.35,306.99 482.79,306.85 483.22,306.67 483.66,306.48 484.10,306.26 484.53,306.03 484.97,305.78 485.41,305.53 485.85,305.26 486.28,305.00 486.72,304.73 487.16,304.46 487.59,304.20 488.03,303.95 488.47,303.72 488.90,303.49 489.34,303.29 489.78,303.11 490.22,302.94 490.65,302.81 491.09,302.70 491.53,302.61 491.96,302.55 492.40,302.52 492.84,302.52 493.27,302.55 493.71,302.61 494.15,302.69 494.59,302.80 495.02,302.93 495.46,303.09 495.90,303.27 496.33,303.46 496.77,303.68 497.21,303.90 497.64,304.14 498.08,304.38 498.52,304.64 498.96,304.89 499.39,305.14 499.83,305.39 500.27,305.64 500.70,305.87 501.14,306.10 501.58,306.31 502.01,306.50 502.45,306.68 502.89,306.83 503.33,306.97 503.76,307.08 504.20,307.17" fill="none" stroke="#4c72b0" stroke-width="1.5" stroke-linejoin="round"/>
<polyline points="329.40,249.50 329.84,249.81 330.27,250.11 330.71,250.41 331.15,250.71 331.58,251.01 332.02,251.31 332.46,251.61 332.90,251.90 333.33,252.19 333.77,252.48 334.21,252.77 334.64,253.06 335.08,253.35 335.52,253.63 335.95,253.92 336.39,254.20 336.83,254.48 337.27,254.76 337.70,255.04 338.14,255.31 338.58,255.59 339.01,255.86 339.45,256.13 339.89,256.40 340.32,256.67 340.76,256.94 341.20,257.21 341.64,257.47 342.07,257.73 342.51,258.00 342.95,258.26 343.38,258.52 343.82,258.77 344.26,259.03 344.69,259.29 345.13,259.54 345.57,259.79 346.01,260.04 346.44,260.29 346.88,260.54 347.32,260.79 347.75,261.03 348.19,261.28 348.63,261.52 349.06,261.76 349.50,262.01 349.94,262.24 350.38,262.48 350.81,262.72 351.25,262.96 351.69,263.19 352.12,263.42 352.56,263.65 353.00,263.89 353.44,264.12 353.87,264.34 354.31,264.57 354.75,264.80 355.18,265.02 355.62,265.24 356.06,265.47 356.49,265.69 356.93,265.91 357.37,266.13 357.81,266.34 358.24,266.56 358.68,266.78 359.12,266.99 359.55,267.20 359.99,267.42 360.43,267.63 360.86,267.84 361.30,268.04 361.74,268.25 362.17,268.46 362.61,268.66 363.05,268.87 363.49,269.07 363.92,269.27 364.36,269.47 364.80,269.67 365.23,269.87 365.67,270.07 366.11,270.27 366.54,270.46 366.98,270.66 367.42,270.85 367.86,271.04 368.29,271.24 368.73,271.43 369.17,271.62 369.60,271.81 370.04,271.99 370.48,272.18 370.91,272.37 371.35,272.55 371.79,272.73 372.23,272.92 372.66,273.10 373.10,273.28 373.54,273.46 373.97,273.64 374.41,273.82 374.85,273.99 375.28,274.17 375.72,274.34 376.16,274.52 376.60,274.69 377.03,274.86 377.47,275.03 377.91,275.21 378.34,275.38 378.78,275.54 379.22,275.71 379.65,275.88 380.09,276.04 380.53,276.21 380.97,276.37 381.40,276.54 381.84,276.70 382.28,276.86 382.71,277.02 383.15,277.18 383.59,277.34 384.02,277.50 384.46,277.66 384.90,277.81 385.34,277.97 385.77,278.13 386.21,278.28 386.65,278.43 387.08,278.59 387.52,278.74 387.96,278.89 388.39,279.04 388.83,279.19 389.27,279.34 389.71,279.48 390.14,279.63 390.58,279.78 391.02,279.92 391.45,280.07 391.89,280.21 392.33,280.36 392.76,280.50 393.20,280.64 393.64,280.78 394.08,280.92 394.51,281.06 394.95,281.20 395.39,281.34 395.82,281.47 396.26,281.61 396.70,281.75 397.13,281.88 397.57,282.02 398.01,282.15 398.45,282.28 398.88,282.41 399.32,282.55 399.76,282.68 400.19,282.81 400.63,282.94 401.07,283.07 401.50,283.19 401.94,283.32 402.38,283.45 402.82,283.57 403.25,283.70 403.69,283.82 404.13,283.95 404.56,284.07 405.00,284.19 405.44,284.32 405.88,284.44 406.31,284.56 406.75,284.68 407.19,284.80 407.62,284.92 408.06,285.04 408.50,285.15 408.93,285.27 409.37,285.39 409.81,285.50 410.25,285.62 410.68,285.73 411.12,285.85 411.56,285.96 411.99,286.07 412.43,286.18 412.87,286.30 413.30,286.41 413.74,286.52 414.18,286.63 414.62,286.74 415.05,286.85 415.49,286.95 415.93,287.06 416.36,287.17 416.80,287.27 417.24,287.38 417.67,287.49 418.11,287.59 418.55,287.69 418.99,287.80 419.42,287.90 419.86,288.00 420.30,288.11 420.73,288.21 421.17,288.31 421.61,288.41 422.04,288.51 422.48,288.61 422.92,288.71 423.36,288.81 423.79,288.90 424.23,289.00 424.67,289.10 425.10,289.19 425.54,289.29 425.98,289.38 426.41,289.48 426.85,289.57 427.29,289.67 427.73,289.76 428.16,289.85 428.60,289.94 429.04,290.04 429.47,290.13 429.91,290.22 430.35,290.31 430.78,290.40 431.22,290.49 431.66,290.58 432.09,290.67 432.53,290.75 432.97,290.84 433.41,290.93 433.84,291.01 434.28,291.10 434.72,291.19 435.15,291.27 435.59,291.36 436.03,291.44 436.46,291.52 436.90,291.61 437.34,291.69 437.78,291.77 438.21,291.85 438.65,291.94 439.09,292.02 439.52,292.10 439.96,292.18 440.40,292.26 440.83,292.34 441.27,292.42 441.71,292.50 442.15,292.57 442.58,292.65 443.02,292.73 443.46,292.81 443.89,292.88 444.33,292.96 444.77,293.04 445.20,293.11 445.64,293.19 446.08,293.26 446.52,293.33 446.95,293.41 447.39,293.48 447.83,293.55 448.26,293.63 448.70,293.70 449.14,293.77 449.57,293.84 450.01,293.91 450.45,293.99 450.89,294.06 451.32,294.13 451.76,294.20 452.20,294.26 452.63,294.33 453.07,294.40 453.51,294.47 453.94,294.54 454.38,294.61 454.82,294.67 455.26,294.74 455.69,294.81 456.13,294.87 456.57,294.94 457.00,295.00 457.44,295.07 457.88,295.13 458.31,295.20 458.75,295.26 459.19,295.32 459.63,295.39 460.06,295.45 460.50,295.51 460.94,295.58 461.37,295.64 461.81,295.70 462.25,295.76 462.69,295.82 463.12,295.88 463.56,295.94 464.00,296.00 464.43,296.06 464.87,296.12 465.31,296.18 465.74,296.24 466.18,296.30 466.62,296.36 467.06,296.41 467.49,296.47 467.93,296.53 468.37,296.59 468.80,296.64 469.24,296.70 469.68,296.75 470.11,296.81 470.55,296.87 470.99,296.92 471.42,296.98 471.86,297.03 472.30,297.08 472.74,297.14 473.17,297.19 473.61,297.25 474.05,297.30 474.48,297.35 474.92,297.40 475.36,297.46 475.79,297.51 476.23,297.56 476.67,297.61 477.11,297.66 477.54,297.71 477.98,297.76 478.42,297.82 478.85,297.87 479.29,297.92 479.73,297.96 480.16,298.01 480.60,298.06 481.04,298.11 481.48,298.16 481.91,298.21 482.35,298.26 482.79,298.30 483.22,298.35 483.66,298.40 484.10,298.45 484.53,298.49 484.97,298.54 485.41,298.59 485.85,298.63 486.28,298.68 486.72,298.72 487.16,298.77 487.59,298.81 488.03,298.86 488.47,298.90 488.90,298.95 489.34,298.99 489.78,299.04 490.22,299.08 490.65,299.12 491.09,299.17 491.53,299.21 491.96,299.25 492.40,299.29 492.84,299.34 493.27,299.38 493.71,299.42 494.15,299.46 494.59,299.50 495.02,299.55 495.46,299.59 495.90,299.63 496.33,299.67 496.77,299.71 497.21,299.75 497.64,299.79 498.08,299.83 498.52,299.87 498.96,299.91 499.39,299.95 499.83,299.98 500.27,300.02 500.70,300.06 501.14,300.10 501.58,300.14 502.01,300.18 502.45,300.21 502.89,300.25 503.33,300.29 503.76,300.33 504.20,300.36" fill="none" stroke="#000" stroke-width="2" stroke-linejoin="round"/>
<line x1="324.4" y1="249.5" x2="329.4" y2="249.5" stroke="#262626" stroke-width="1.1"/>
<line x1="324.4" y1="307.3" x2="329.4" y2="307.3" stroke="#262626" stroke-width="1.1"/>
<text x="311.8" y="263.4" font-size="22" fill="#1e1e1e" text-anchor="start" textLength="10.6" lengthAdjust="spacingAndGlyphs">1</text>
<text x="311.6" y="307.7" font-size="22" fill="#1e1e1e" text-anchor="start" textLength="11.0" lengthAdjust="spacingAndGlyphs">0</text>
<line x1="329.4" y1="380.0" x2="504.2" y2="380.0" stroke="#c9cdd6" stroke-width="1.1"/>
<polyline points="329.40,322.00 329.84,322.41 330.27,323.01 330.71,323.81 331.15,324.79 331.58,325.95 332.02,327.27 332.46,328.76 332.90,330.39 333.33,332.16 333.77,334.05 334.21,336.05 334.64,338.14 335.08,340.32 335.52,342.56 335.95,344.85 336.39,347.18 336.83,349.53 337.27,351.88 337.70,354.22 338.14,356.53 338.58,358.80 339.01,361.01 339.45,363.15 339.89,365.21 340.32,367.18 340.76,369.03 341.20,370.77 341.64,372.38 342.07,373.85 342.51,375.18 342.95,376.35 343.38,377.37 343.82,378.22 344.26,378.91 344.69,379.43 345.13,379.79 345.57,379.97 346.01,379.99 346.44,379.84 346.88,379.53 347.32,379.06 347.75,378.45 348.19,377.69 348.63,376.79 349.06,375.77 349.50,374.63 349.94,373.38 350.38,372.03 350.81,370.60 351.25,369.09 351.69,367.52 352.12,365.90 352.56,364.24 353.00,362.56 353.44,360.86 353.87,359.17 354.31,357.49 354.75,355.83 355.18,354.22 355.62,352.65 356.06,351.14 356.49,349.71 356.93,348.35 357.37,347.09 357.81,345.92 358.24,344.87 358.68,343.92 359.12,343.10 359.55,342.40 359.99,341.84 360.43,341.40 360.86,341.10 361.30,340.94 361.74,340.92 362.17,341.03 362.61,341.27 363.05,341.65 363.49,342.16 363.92,342.80 364.36,343.55 364.80,344.42 365.23,345.39 365.67,346.47 366.11,347.64 366.54,348.89 366.98,350.22 367.42,351.62 367.86,353.07 368.29,354.56 368.73,356.10 369.17,357.66 369.60,359.23 370.04,360.81 370.48,362.38 370.91,363.93 371.35,365.46 371.79,366.96 372.23,368.41 372.66,369.80 373.10,371.13 373.54,372.39 373.97,373.58 374.41,374.68 374.85,375.68 375.28,376.59 375.72,377.40 376.16,378.11 376.60,378.70 377.03,379.19 377.47,379.56 377.91,379.82 378.34,379.96 378.78,380.00 379.22,379.92 379.65,379.73 380.09,379.44 380.53,379.05 380.97,378.56 381.40,377.97 381.84,377.30 382.28,376.55 382.71,375.73 383.15,374.84 383.59,373.89 384.02,372.88 384.46,371.84 384.90,370.75 385.34,369.64 385.77,368.52 386.21,367.38 386.65,366.24 387.08,365.11 387.52,364.00 387.96,362.91 388.39,361.85 388.83,360.83 389.27,359.85 389.71,358.93 390.14,358.07 390.58,357.28 391.02,356.55 391.45,355.90 391.89,355.33 392.33,354.85 392.76,354.45 393.20,354.14 393.64,353.92 394.08,353.79 394.51,353.76 394.95,353.82 395.39,353.96 395.82,354.20 396.26,354.52 396.70,354.93 397.13,355.42 397.57,355.99 398.01,356.63 398.45,357.34 398.88,358.12 399.32,358.95 399.76,359.83 400.19,360.76 400.63,361.72 401.07,362.72 401.50,363.75 401.94,364.79 402.38,365.85 402.82,366.90 403.25,367.96 403.69,369.01 404.13,370.04 404.56,371.05 405.00,372.03 405.44,372.97 405.88,373.87 406.31,374.73 406.75,375.53 407.19,376.28 407.62,376.97 408.06,377.60 408.50,378.15 408.93,378.64 409.37,379.05 409.81,379.39 410.25,379.66 410.68,379.85 411.12,379.96 411.56,380.00 411.99,379.96 412.43,379.85 412.87,379.67 413.30,379.42 413.74,379.10 414.18,378.72 414.62,378.29 415.05,377.79 415.49,377.25 415.93,376.66 416.36,376.03 416.80,375.36 417.24,374.66 417.67,373.94 418.11,373.20 418.55,372.44 418.99,371.68 419.42,370.92 419.86,370.16 420.30,369.41 420.73,368.67 421.17,367.95 421.61,367.26 422.04,366.60 422.48,365.98 422.92,365.39 423.36,364.85 423.79,364.35 424.23,363.91 424.67,363.51 425.10,363.18 425.54,362.90 425.98,362.68 426.41,362.52 426.85,362.42 427.29,362.38 427.73,362.41 428.16,362.50 428.60,362.64 429.04,362.85 429.47,363.11 429.91,363.43 430.35,363.80 430.78,364.22 431.22,364.69 431.66,365.20 432.09,365.75 432.53,366.34 432.97,366.96 433.41,367.60 433.84,368.27 434.28,368.95 434.72,369.65 435.15,370.36 435.59,371.07 436.03,371.78 436.46,372.48 436.90,373.18 437.34,373.86 437.78,374.52 438.21,375.16 438.65,375.77 439.09,376.35 439.52,376.90 439.96,377.41 440.40,377.88 440.83,378.31 441.27,378.69 441.71,379.03 442.15,379.31 442.58,379.55 443.02,379.74 443.46,379.88 443.89,379.96 444.33,380.00 444.77,379.98 445.20,379.92 445.64,379.81 446.08,379.65 446.52,379.44 446.95,379.20 447.39,378.91 447.83,378.59 448.26,378.23 448.70,377.84 449.14,377.42 449.57,376.98 450.01,376.51 450.45,376.03 450.89,375.53 451.32,375.03 451.76,374.52 452.20,374.01 452.63,373.49 453.07,372.99 453.51,372.49 453.94,372.01 454.38,371.54 454.82,371.09 455.26,370.67 455.69,370.27 456.13,369.90 456.57,369.56 457.00,369.25 457.44,368.98 457.88,368.75 458.31,368.55 458.75,368.40 459.19,368.28 459.63,368.21 460.06,368.18 460.50,368.19 460.94,368.24 461.37,368.33 461.81,368.46 462.25,368.63 462.69,368.83 463.12,369.07 463.56,369.35 464.00,369.66 464.43,370.00 464.87,370.36 465.31,370.75 465.74,371.16 466.18,371.59 466.62,372.03 467.06,372.49 467.49,372.96 467.93,373.43 468.37,373.91 468.80,374.38 469.24,374.86 469.68,375.33 470.11,375.79 470.55,376.23 470.99,376.66 471.42,377.08 471.86,377.47 472.30,377.85 472.74,378.19 473.17,378.51 473.61,378.81 474.05,379.07 474.48,379.30 474.92,379.50 475.36,379.67 475.79,379.80 476.23,379.90 476.67,379.97 477.11,380.00 477.54,379.99 477.98,379.96 478.42,379.89 478.85,379.79 479.29,379.66 479.73,379.50 480.16,379.31 480.60,379.10 481.04,378.86 481.48,378.60 481.91,378.33 482.35,378.03 482.79,377.72 483.22,377.40 483.66,377.07 484.10,376.73 484.53,376.39 484.97,376.04 485.41,375.70 485.85,375.36 486.28,375.03 486.72,374.70 487.16,374.38 487.59,374.08 488.03,373.79 488.47,373.52 488.90,373.27 489.34,373.04 489.78,372.83 490.22,372.64 490.65,372.48 491.09,372.34 491.53,372.23 491.96,372.15 492.40,372.09 492.84,372.07 493.27,372.07 493.71,372.09 494.15,372.15 494.59,372.23 495.02,372.34 495.46,372.47 495.90,372.63 496.33,372.81 496.77,373.01 497.21,373.24 497.64,373.48 498.08,373.74 498.52,374.01 498.96,374.29 499.39,374.59 499.83,374.90 500.27,375.21 500.70,375.53 501.14,375.85 501.58,376.17 502.01,376.49 502.45,376.80 502.89,377.11 503.33,377.41 503.76,377.70 504.20,377.98" fill="none" stroke="#c44e52" stroke-width="1.2" stroke-linejoin="round"/>
<polyline points="329.40,380.00 329.84,379.90 330.27,379.60 330.71,379.11 331.15,378.43 331.58,377.57 332.02,376.54 332.46,375.36 332.90,374.02 333.33,372.54 333.77,370.95 334.21,369.24 334.64,367.43 335.08,365.54 335.52,363.59 335.95,361.58 336.39,359.53 336.83,357.47 337.27,355.40 337.70,353.34 338.14,351.31 338.58,349.31 339.01,347.37 339.45,345.50 339.89,343.71 340.32,342.02 340.76,340.43 341.20,338.96 341.64,337.62 342.07,336.41 342.51,335.35 342.95,334.44 343.38,333.68 343.82,333.08 344.26,332.65 344.69,332.39 345.13,332.29 345.57,332.36 346.01,332.59 346.44,332.99 346.88,333.55 347.32,334.26 347.75,335.13 348.19,336.13 348.63,337.27 349.06,338.54 349.50,339.92 349.94,341.41 350.38,343.00 350.81,344.67 351.25,346.41 351.69,348.22 352.12,350.07 352.56,351.96 353.00,353.88 353.44,355.80 353.87,357.73 354.31,359.64 354.75,361.52 355.18,363.36 355.62,365.15 356.06,366.88 356.49,368.54 356.93,370.11 357.37,371.60 357.81,372.98 358.24,374.25 358.68,375.41 359.12,376.45 359.55,377.36 359.99,378.14 360.43,378.79 360.86,379.30 361.30,379.67 361.74,379.90 362.17,380.00 362.61,379.96 363.05,379.78 363.49,379.48 363.92,379.05 364.36,378.49 364.80,377.83 365.23,377.05 365.67,376.17 366.11,375.20 366.54,374.14 366.98,373.01 367.42,371.81 367.86,370.55 368.29,369.25 368.73,367.91 369.17,366.54 369.60,365.15 370.04,363.76 370.48,362.38 370.91,361.01 371.35,359.66 371.79,358.36 372.23,357.09 372.66,355.88 373.10,354.73 373.54,353.65 373.97,352.64 374.41,351.72 374.85,350.89 375.28,350.16 375.72,349.53 376.16,349.00 376.60,348.58 377.03,348.26 377.47,348.06 377.91,347.98 378.34,348.00 378.78,348.14 379.22,348.38 379.65,348.74 380.09,349.19 380.53,349.75 380.97,350.41 381.40,351.16 381.84,351.99 382.28,352.90 382.71,353.89 383.15,354.94 383.59,356.05 384.02,357.22 384.46,358.42 384.90,359.66 385.34,360.92 385.77,362.21 386.21,363.50 386.65,364.79 387.08,366.07 387.52,367.34 387.96,368.58 388.39,369.79 388.83,370.96 389.27,372.09 389.71,373.16 390.14,374.16 390.58,375.11 391.02,375.98 391.45,376.77 391.89,377.48 392.33,378.11 392.76,378.65 393.20,379.11 393.64,379.47 394.08,379.73 394.51,379.91 394.95,379.99 395.39,379.98 395.82,379.88 396.26,379.70 396.70,379.42 397.13,379.07 397.57,378.64 398.01,378.13 398.45,377.55 398.88,376.91 399.32,376.21 399.76,375.46 400.19,374.67 400.63,373.83 401.07,372.96 401.50,372.06 401.94,371.15 402.38,370.22 402.82,369.29 403.25,368.36 403.69,367.43 404.13,366.53 404.56,365.64 405.00,364.79 405.44,363.97 405.88,363.19 406.31,362.45 406.75,361.77 407.19,361.14 407.62,360.57 408.06,360.06 408.50,359.62 408.93,359.25 409.37,358.96 409.81,358.73 410.25,358.58 410.68,358.51 411.12,358.51 411.56,358.59 411.99,358.74 412.43,358.96 412.87,359.25 413.30,359.62 413.74,360.04 414.18,360.53 414.62,361.08 415.05,361.68 415.49,362.34 415.93,363.03 416.36,363.77 416.80,364.55 417.24,365.35 417.67,366.18 418.11,367.02 418.55,367.88 418.99,368.75 419.42,369.62 419.86,370.48 420.30,371.33 420.73,372.17 421.17,372.99 421.61,373.78 422.04,374.54 422.48,375.27 422.92,375.95 423.36,376.59 423.79,377.19 424.23,377.73 424.67,378.22 425.10,378.65 425.54,379.03 425.98,379.34 426.41,379.60 426.85,379.79 427.29,379.92 427.73,379.99 428.16,380.00 428.60,379.94 429.04,379.83 429.47,379.65 429.91,379.43 430.35,379.15 430.78,378.82 431.22,378.44 431.66,378.02 432.09,377.56 432.53,377.06 432.97,376.53 433.41,375.97 433.84,375.39 434.28,374.79 434.72,374.18 435.15,373.56 435.59,372.93 436.03,372.31 436.46,371.69 436.90,371.08 437.34,370.48 437.78,369.90 438.21,369.35 438.65,368.82 439.09,368.32 439.52,367.85 439.96,367.42 440.40,367.03 440.83,366.68 441.27,366.38 441.71,366.12 442.15,365.91 442.58,365.75 443.02,365.64 443.46,365.58 443.89,365.57 444.33,365.61 444.77,365.70 445.20,365.84 445.64,366.03 446.08,366.26 446.52,366.54 446.95,366.86 447.39,367.22 447.83,367.62 448.26,368.05 448.70,368.52 449.14,369.01 449.57,369.52 450.01,370.06 450.45,370.61 450.89,371.18 451.32,371.75 451.76,372.33 452.20,372.91 452.63,373.49 453.07,374.07 453.51,374.63 453.94,375.19 454.38,375.72 454.82,376.23 455.26,376.73 455.69,377.19 456.13,377.63 456.57,378.03 457.00,378.41 457.44,378.74 457.88,379.04 458.31,379.30 458.75,379.52 459.19,379.70 459.63,379.84 460.06,379.93 460.50,379.99 460.94,380.00 461.37,379.97 461.81,379.90 462.25,379.79 462.69,379.65 463.12,379.47 463.56,379.25 464.00,379.00 464.43,378.73 464.87,378.42 465.31,378.09 465.74,377.74 466.18,377.37 466.62,376.99 467.06,376.59 467.49,376.18 467.93,375.76 468.37,375.34 468.80,374.92 469.24,374.50 469.68,374.09 470.11,373.69 470.55,373.30 470.99,372.92 471.42,372.56 471.86,372.22 472.30,371.90 472.74,371.61 473.17,371.34 473.61,371.10 474.05,370.89 474.48,370.71 474.92,370.57 475.36,370.45 475.79,370.37 476.23,370.32 476.67,370.31 477.11,370.33 477.54,370.39 477.98,370.47 478.42,370.59 478.85,370.75 479.29,370.93 479.73,371.14 480.16,371.37 480.60,371.63 481.04,371.92 481.48,372.23 481.91,372.55 482.35,372.90 482.79,373.25 483.22,373.62 483.66,374.00 484.10,374.38 484.53,374.77 484.97,375.16 485.41,375.56 485.85,375.94 486.28,376.32 486.72,376.69 487.16,377.06 487.59,377.40 488.03,377.74 488.47,378.05 488.90,378.35 489.34,378.63 489.78,378.88 490.22,379.11 490.65,379.32 491.09,379.50 491.53,379.65 491.96,379.78 492.40,379.87 492.84,379.94 493.27,379.99 493.71,380.00 494.15,379.99 494.59,379.95 495.02,379.88 495.46,379.79 495.90,379.67 496.33,379.53 496.77,379.37 497.21,379.18 497.64,378.98 498.08,378.77 498.52,378.53 498.96,378.29 499.39,378.03 499.83,377.76 500.27,377.49 500.70,377.21 501.14,376.93 501.58,376.65 502.01,376.37 502.45,376.09 502.89,375.82 503.33,375.55 503.76,375.30 504.20,375.05" fill="none" stroke="#4c72b0" stroke-width="1.5" stroke-linejoin="round"/>
<polyline points="329.40,322.00 329.84,322.31 330.27,322.61 330.71,322.91 331.15,323.22 331.58,323.52 332.02,323.82 332.46,324.11 332.90,324.41 333.33,324.70 333.77,324.99 334.21,325.28 334.64,325.57 335.08,325.86 335.52,326.15 335.95,326.43 336.39,326.72 336.83,327.00 337.27,327.28 337.70,327.56 338.14,327.83 338.58,328.11 339.01,328.38 339.45,328.66 339.89,328.93 340.32,329.20 340.76,329.47 341.20,329.73 341.64,330.00 342.07,330.26 342.51,330.53 342.95,330.79 343.38,331.05 343.82,331.31 344.26,331.56 344.69,331.82 345.13,332.07 345.57,332.33 346.01,332.58 346.44,332.83 346.88,333.08 347.32,333.33 347.75,333.57 348.19,333.82 348.63,334.06 349.06,334.31 349.50,334.55 349.94,334.79 350.38,335.03 350.81,335.27 351.25,335.50 351.69,335.74 352.12,335.97 352.56,336.20 353.00,336.44 353.44,336.67 353.87,336.89 354.31,337.12 354.75,337.35 355.18,337.57 355.62,337.80 356.06,338.02 356.49,338.24 356.93,338.46 357.37,338.68 357.81,338.90 358.24,339.12 358.68,339.34 359.12,339.55 359.55,339.76 359.99,339.98 360.43,340.19 360.86,340.40 361.30,340.61 361.74,340.82 362.17,341.02 362.61,341.23 363.05,341.44 363.49,341.64 363.92,341.84 364.36,342.04 364.80,342.24 365.23,342.44 365.67,342.64 366.11,342.84 366.54,343.04 366.98,343.23 367.42,343.43 367.86,343.62 368.29,343.81 368.73,344.00 369.17,344.19 369.60,344.38 370.04,344.57 370.48,344.76 370.91,344.94 371.35,345.13 371.79,345.31 372.23,345.50 372.66,345.68 373.10,345.86 373.54,346.04 373.97,346.22 374.41,346.40 374.85,346.58 375.28,346.75 375.72,346.93 376.16,347.10 376.60,347.28 377.03,347.45 377.47,347.62 377.91,347.79 378.34,347.96 378.78,348.13 379.22,348.30 379.65,348.47 380.09,348.64 380.53,348.80 380.97,348.97 381.40,349.13 381.84,349.29 382.28,349.46 382.71,349.62 383.15,349.78 383.59,349.94 384.02,350.10 384.46,350.26 384.90,350.41 385.34,350.57 385.77,350.72 386.21,350.88 386.65,351.03 387.08,351.19 387.52,351.34 387.96,351.49 388.39,351.64 388.83,351.79 389.27,351.94 389.71,352.09 390.14,352.24 390.58,352.38 391.02,352.53 391.45,352.67 391.89,352.82 392.33,352.96 392.76,353.10 393.20,353.25 393.64,353.39 394.08,353.53 394.51,353.67 394.95,353.81 395.39,353.95 395.82,354.08 396.26,354.22 396.70,354.36 397.13,354.49 397.57,354.63 398.01,354.76 398.45,354.90 398.88,355.03 399.32,355.16 399.76,355.29 400.19,355.42 400.63,355.55 401.07,355.68 401.50,355.81 401.94,355.94 402.38,356.06 402.82,356.19 403.25,356.32 403.69,356.44 404.13,356.57 404.56,356.69 405.00,356.81 405.44,356.94 405.88,357.06 406.31,357.18 406.75,357.30 407.19,357.42 407.62,357.54 408.06,357.66 408.50,357.78 408.93,357.89 409.37,358.01 409.81,358.13 410.25,358.24 410.68,358.36 411.12,358.47 411.56,358.59 411.99,358.70 412.43,358.81 412.87,358.92 413.30,359.04 413.74,359.15 414.18,359.26 414.62,359.37 415.05,359.48 415.49,359.58 415.93,359.69 416.36,359.80 416.80,359.91 417.24,360.01 417.67,360.12 418.11,360.22 418.55,360.33 418.99,360.43 419.42,360.53 419.86,360.64 420.30,360.74 420.73,360.84 421.17,360.94 421.61,361.04 422.04,361.14 422.48,361.24 422.92,361.34 423.36,361.44 423.79,361.54 424.23,361.64 424.67,361.73 425.10,361.83 425.54,361.93 425.98,362.02 426.41,362.12 426.85,362.21 427.29,362.31 427.73,362.40 428.16,362.49 428.60,362.58 429.04,362.68 429.47,362.77 429.91,362.86 430.35,362.95 430.78,363.04 431.22,363.13 431.66,363.22 432.09,363.31 432.53,363.40 432.97,363.48 433.41,363.57 433.84,363.66 434.28,363.74 434.72,363.83 435.15,363.92 435.59,364.00 436.03,364.09 436.46,364.17 436.90,364.25 437.34,364.34 437.78,364.42 438.21,364.50 438.65,364.58 439.09,364.66 439.52,364.75 439.96,364.83 440.40,364.91 440.83,364.99 441.27,365.07 441.71,365.14 442.15,365.22 442.58,365.30 443.02,365.38 443.46,365.46 443.89,365.53 444.33,365.61 444.77,365.69 445.20,365.76 445.64,365.84 446.08,365.91 446.52,365.99 446.95,366.06 447.39,366.13 447.83,366.21 448.26,366.28 448.70,366.35 449.14,366.42 449.57,366.50 450.01,366.57 450.45,366.64 450.89,366.71 451.32,366.78 451.76,366.85 452.20,366.92 452.63,366.99 453.07,367.06 453.51,367.13 453.94,367.19 454.38,367.26 454.82,367.33 455.26,367.40 455.69,367.46 456.13,367.53 456.57,367.59 457.00,367.66 457.44,367.73 457.88,367.79 458.31,367.85 458.75,367.92 459.19,367.98 459.63,368.05 460.06,368.11 460.50,368.17 460.94,368.23 461.37,368.30 461.81,368.36 462.25,368.42 462.69,368.48 463.12,368.54 463.56,368.60 464.00,368.66 464.43,368.72 464.87,368.78 465.31,368.84 465.74,368.90 466.18,368.96 466.62,369.02 467.06,369.08 467.49,369.13 467.93,369.19 468.37,369.25 468.80,369.31 469.24,369.36 469.68,369.42 470.11,369.47 470.55,369.53 470.99,369.59 471.42,369.64 471.86,369.69 472.30,369.75 472.74,369.80 473.17,369.86 473.61,369.91 474.05,369.96 474.48,370.02 474.92,370.07 475.36,370.12 475.79,370.17 476.23,370.23 476.67,370.28 477.11,370.33 477.54,370.38 477.98,370.43 478.42,370.48 478.85,370.53 479.29,370.58 479.73,370.63 480.16,370.68 480.60,370.73 481.04,370.78 481.48,370.83 481.91,370.88 482.35,370.93 482.79,370.97 483.22,371.02 483.66,371.07 484.10,371.12 484.53,371.16 484.97,371.21 485.41,371.26 485.85,371.30 486.28,371.35 486.72,371.39 487.16,371.44 487.59,371.48 488.03,371.53 488.47,371.57 488.90,371.62 489.34,371.66 489.78,371.71 490.22,371.75 490.65,371.80 491.09,371.84 491.53,371.88 491.96,371.92 492.40,371.97 492.84,372.01 493.27,372.05 493.71,372.09 494.15,372.14 494.59,372.18 495.02,372.22 495.46,372.26 495.90,372.30 496.33,372.34 496.77,372.38 497.21,372.42 497.64,372.46 498.08,372.50 498.52,372.54 498.96,372.58 499.39,372.62 499.83,372.66 500.27,372.70 500.70,372.74 501.14,372.78 501.58,372.81 502.01,372.85 502.45,372.89 502.89,372.93 503.33,372.96 503.76,373.00 504.20,373.04" fill="none" stroke="#000" stroke-width="2" stroke-linejoin="round"/>
<line x1="324.4" y1="322.0" x2="329.4" y2="322.0" stroke="#262626" stroke-width="1.1"/>
<line x1="324.4" y1="380.0" x2="329.4" y2="380.0" stroke="#262626" stroke-width="1.1"/>
<text x="311.8" y="335.9" font-size="22" fill="#1e1e1e" text-anchor="start" textLength="10.6" lengthAdjust="spacingAndGlyphs">1</text>
<text x="311.6" y="380.4" font-size="22" fill="#1e1e1e" text-anchor="start" textLength="11.0" lengthAdjust="spacingAndGlyphs">0</text>
<line x1="329.4" y1="454.0" x2="504.2" y2="454.0" stroke="#c9cdd6" stroke-width="1.1"/>
<polyline points="329.40,396.80 329.84,397.20 330.27,397.80 330.71,398.59 331.15,399.56 331.58,400.70 332.02,402.00 332.46,403.46 332.90,405.05 333.33,406.76 333.77,408.57 334.21,410.48 334.64,412.45 335.08,414.48 335.52,416.54 335.95,418.62 336.39,420.70 336.83,422.76 337.27,424.79 337.70,426.76 338.14,428.66 338.58,430.47 339.01,432.18 339.45,433.78 339.89,435.25 340.32,436.58 340.76,437.77 341.20,438.80 341.64,439.67 342.07,440.37 342.51,440.90 342.95,441.26 343.38,441.44 343.82,441.46 344.26,441.31 344.69,440.99 345.13,440.52 345.57,439.90 346.01,439.14 346.44,438.25 346.88,437.25 347.32,436.13 347.75,434.92 348.19,433.64 348.63,432.29 349.06,430.89 349.50,429.45 349.94,428.00 350.38,426.54 350.81,425.09 351.25,423.67 351.69,422.29 352.12,420.97 352.56,419.72 353.00,418.54 353.44,417.46 353.87,416.48 354.31,415.62 354.75,414.87 355.18,414.26 355.62,413.78 356.06,413.44 356.49,413.24 356.93,413.18 357.37,413.27 357.81,413.50 358.24,413.87 358.68,414.37 359.12,415.01 359.55,415.77 359.99,416.66 360.43,417.65 360.86,418.74 361.30,419.92 361.74,421.18 362.17,422.51 362.61,423.90 363.05,425.33 363.49,426.79 363.92,428.26 364.36,429.74 364.80,431.21 365.23,432.66 365.67,434.08 366.11,435.45 366.54,436.77 366.98,438.01 367.42,439.18 367.86,440.27 368.29,441.25 368.73,442.14 369.17,442.92 369.60,443.58 370.04,444.13 370.48,444.55 370.91,444.86 371.35,445.04 371.79,445.10 372.23,445.04 372.66,444.86 373.10,444.57 373.54,444.17 373.97,443.67 374.41,443.07 374.85,442.39 375.28,441.62 375.72,440.79 376.16,439.90 376.60,438.95 377.03,437.97 377.47,436.96 377.91,435.93 378.34,434.89 378.78,433.86 379.22,432.84 379.65,431.85 380.09,430.89 380.53,429.98 380.97,429.12 381.40,428.33 381.84,427.60 382.28,426.95 382.71,426.39 383.15,425.91 383.59,425.53 384.02,425.25 384.46,425.07 384.90,424.99 385.34,425.01 385.77,425.13 386.21,425.35 386.65,425.68 387.08,426.09 387.52,426.60 387.96,427.19 388.39,427.87 388.83,428.62 389.27,429.43 389.71,430.31 390.14,431.23 390.58,432.20 391.02,433.21 391.45,434.24 391.89,435.28 392.33,436.34 392.76,437.39 393.20,438.42 393.64,439.44 394.08,440.43 394.51,441.38 394.95,442.29 395.39,443.14 395.82,443.94 396.26,444.67 396.70,445.33 397.13,445.91 397.57,446.41 398.01,446.84 398.45,447.17 398.88,447.42 399.32,447.59 399.76,447.66 400.19,447.66 400.63,447.56 401.07,447.39 401.50,447.13 401.94,446.81 402.38,446.41 402.82,445.95 403.25,445.43 403.69,444.85 404.13,444.23 404.56,443.58 405.00,442.89 405.44,442.18 405.88,441.45 406.31,440.71 406.75,439.98 407.19,439.25 407.62,438.53 408.06,437.84 408.50,437.18 408.93,436.55 409.37,435.97 409.81,435.43 410.25,434.95 410.68,434.53 411.12,434.16 411.56,433.87 411.99,433.64 412.43,433.48 412.87,433.39 413.30,433.38 413.74,433.44 414.18,433.57 414.62,433.77 415.05,434.04 415.49,434.37 415.93,434.77 416.36,435.23 416.80,435.74 417.24,436.30 417.67,436.91 418.11,437.55 418.55,438.23 418.99,438.93 419.42,439.66 419.86,440.40 420.30,441.14 420.73,441.89 421.17,442.63 421.61,443.36 422.04,444.08 422.48,444.76 422.92,445.42 423.36,446.04 423.79,446.63 424.23,447.16 424.67,447.65 425.10,448.09 425.54,448.47 425.98,448.79 426.41,449.06 426.85,449.26 427.29,449.40 427.73,449.48 428.16,449.50 428.60,449.46 429.04,449.36 429.47,449.20 429.91,448.99 430.35,448.72 430.78,448.41 431.22,448.06 431.66,447.67 432.09,447.24 432.53,446.78 432.97,446.30 433.41,445.80 433.84,445.29 434.28,444.77 434.72,444.24 435.15,443.72 435.59,443.21 436.03,442.71 436.46,442.23 436.90,441.77 437.34,441.35 437.78,440.95 438.21,440.59 438.65,440.27 439.09,440.00 439.52,439.77 439.96,439.58 440.40,439.45 440.83,439.37 441.27,439.34 441.71,439.36 442.15,439.43 442.58,439.55 443.02,439.73 443.46,439.95 443.89,440.21 444.33,440.52 444.77,440.87 445.20,441.25 445.64,441.67 446.08,442.12 446.52,442.59 446.95,443.09 447.39,443.60 447.83,444.12 448.26,444.65 448.70,445.18 449.14,445.71 449.57,446.23 450.01,446.75 450.45,447.24 450.89,447.72 451.32,448.17 451.76,448.60 452.20,448.99 452.63,449.35 453.07,449.68 453.51,449.97 453.94,450.21 454.38,450.42 454.82,450.58 455.26,450.70 455.69,450.77 456.13,450.80 456.57,450.79 457.00,450.73 457.44,450.64 457.88,450.50 458.31,450.33 458.75,450.12 459.19,449.88 459.63,449.61 460.06,449.32 460.50,449.00 460.94,448.67 461.37,448.31 461.81,447.95 462.25,447.58 462.69,447.21 463.12,446.84 463.56,446.47 464.00,446.11 464.43,445.77 464.87,445.44 465.31,445.12 465.74,444.83 466.18,444.57 466.62,444.33 467.06,444.12 467.49,443.94 467.93,443.80 468.37,443.69 468.80,443.62 469.24,443.58 469.68,443.58 470.11,443.62 470.55,443.69 470.99,443.80 471.42,443.94 471.86,444.12 472.30,444.33 472.74,444.56 473.17,444.83 473.61,445.12 474.05,445.43 474.48,445.76 474.92,446.10 475.36,446.46 475.79,446.83 476.23,447.20 476.67,447.58 477.11,447.96 477.54,448.33 477.98,448.70 478.42,449.06 478.85,449.40 479.29,449.73 479.73,450.04 480.16,450.33 480.60,450.60 481.04,450.84 481.48,451.05 481.91,451.24 482.35,451.40 482.79,451.53 483.22,451.62 483.66,451.69 484.10,451.72 484.53,451.72 484.97,451.70 485.41,451.64 485.85,451.55 486.28,451.44 486.72,451.30 487.16,451.14 487.59,450.96 488.03,450.76 488.47,450.54 488.90,450.30 489.34,450.06 489.78,449.81 490.22,449.54 490.65,449.28 491.09,449.02 491.53,448.75 491.96,448.50 492.40,448.25 492.84,448.01 493.27,447.78 493.71,447.56 494.15,447.37 494.59,447.19 495.02,447.03 495.46,446.90 495.90,446.79 496.33,446.70 496.77,446.64 497.21,446.60 497.64,446.59 498.08,446.61 498.52,446.65 498.96,446.72 499.39,446.81 499.83,446.92 500.27,447.06 500.70,447.22 501.14,447.40 501.58,447.60 502.01,447.82 502.45,448.04 502.89,448.29 503.33,448.54 503.76,448.80 504.20,449.06" fill="none" stroke="#c44e52" stroke-width="1.2" stroke-linejoin="round"/>
<polyline points="329.40,454.00 329.84,453.90 330.27,453.61 330.71,453.13 331.15,452.46 331.58,451.63 332.02,450.63 332.46,449.49 332.90,448.21 333.33,446.81 333.77,445.30 334.21,443.71 334.64,442.04 335.08,440.32 335.52,438.56 335.95,436.78 336.39,435.01 336.83,433.25 337.27,431.52 337.70,429.85 338.14,428.25 338.58,426.73 339.01,425.31 339.45,423.99 339.89,422.81 340.32,421.76 340.76,420.85 341.20,420.09 341.64,419.49 342.07,419.06 342.51,418.79 342.95,418.69 343.38,418.76 343.82,419.00 344.26,419.40 344.69,419.96 345.13,420.67 345.57,421.53 346.01,422.52 346.44,423.64 346.88,424.88 347.32,426.22 347.75,427.65 348.19,429.16 348.63,430.73 349.06,432.35 349.50,434.00 349.94,435.67 350.38,437.34 350.81,439.00 351.25,440.63 351.69,442.22 352.12,443.75 352.56,445.21 353.00,446.60 353.44,447.89 353.87,449.07 354.31,450.15 354.75,451.10 355.18,451.93 355.62,452.62 356.06,453.18 356.49,453.59 356.93,453.86 357.37,453.99 357.81,453.97 358.24,453.82 358.68,453.53 359.12,453.11 359.55,452.57 359.99,451.90 360.43,451.13 360.86,450.26 361.30,449.29 361.74,448.25 362.17,447.14 362.61,445.98 363.05,444.77 363.49,443.53 363.92,442.27 364.36,441.00 364.80,439.75 365.23,438.51 365.67,437.30 366.11,436.14 366.54,435.04 366.98,434.00 367.42,433.03 367.86,432.15 368.29,431.37 368.73,430.68 369.17,430.10 369.60,429.63 370.04,429.27 370.48,429.03 370.91,428.92 371.35,428.92 371.79,429.04 372.23,429.28 372.66,429.63 373.10,430.09 373.54,430.66 373.97,431.33 374.41,432.09 374.85,432.94 375.28,433.86 375.72,434.86 376.16,435.91 376.60,437.01 377.03,438.15 377.47,439.31 377.91,440.49 378.34,441.68 378.78,442.86 379.22,444.03 379.65,445.18 380.09,446.28 380.53,447.34 380.97,448.35 381.40,449.30 381.84,450.17 382.28,450.97 382.71,451.68 383.15,452.30 383.59,452.83 384.02,453.27 384.46,453.60 384.90,453.84 385.34,453.97 385.77,454.00 386.21,453.93 386.65,453.76 387.08,453.50 387.52,453.15 387.96,452.71 388.39,452.19 388.83,451.60 389.27,450.94 389.71,450.22 390.14,449.45 390.58,448.63 391.02,447.78 391.45,446.91 391.89,446.02 392.33,445.12 392.76,444.22 393.20,443.34 393.64,442.47 394.08,441.63 394.51,440.83 394.95,440.07 395.39,439.36 395.82,438.71 396.26,438.13 396.70,437.61 397.13,437.17 397.57,436.80 398.01,436.51 398.45,436.31 398.88,436.19 399.32,436.16 399.76,436.21 400.19,436.35 400.63,436.57 401.07,436.86 401.50,437.24 401.94,437.69 402.38,438.20 402.82,438.78 403.25,439.42 403.69,440.10 404.13,440.84 404.56,441.60 405.00,442.40 405.44,443.23 405.88,444.06 406.31,444.91 406.75,445.75 407.19,446.58 407.62,447.41 408.06,448.20 408.50,448.97 408.93,449.70 409.37,450.39 409.81,451.04 410.25,451.62 410.68,452.16 411.12,452.62 411.56,453.03 411.99,453.37 412.43,453.63 412.87,453.83 413.30,453.95 413.74,454.00 414.18,453.98 414.62,453.89 415.05,453.73 415.49,453.50 415.93,453.21 416.36,452.87 416.80,452.47 417.24,452.02 417.67,451.52 418.11,450.99 418.55,450.42 418.99,449.83 419.42,449.21 419.86,448.58 420.30,447.94 420.73,447.31 421.17,446.67 421.61,446.05 422.04,445.44 422.48,444.86 422.92,444.31 423.36,443.79 423.79,443.31 424.23,442.88 424.67,442.49 425.10,442.15 425.54,441.87 425.98,441.64 426.41,441.48 426.85,441.37 427.29,441.32 427.73,441.33 428.16,441.41 428.60,441.54 429.04,441.73 429.47,441.97 429.91,442.27 430.35,442.62 430.78,443.01 431.22,443.45 431.66,443.92 432.09,444.43 432.53,444.97 432.97,445.53 433.41,446.11 433.84,446.70 434.28,447.30 434.72,447.90 435.15,448.49 435.59,449.08 436.03,449.65 436.46,450.21 436.90,450.74 437.34,451.24 437.78,451.71 438.21,452.15 438.65,452.54 439.09,452.89 439.52,453.20 439.96,453.46 440.40,453.67 440.83,453.83 441.27,453.93 441.71,453.99 442.15,454.00 442.58,453.95 443.02,453.86 443.46,453.71 443.89,453.53 444.33,453.30 444.77,453.03 445.20,452.72 445.64,452.38 446.08,452.01 446.52,451.62 446.95,451.20 447.39,450.77 447.83,450.33 448.26,449.88 448.70,449.42 449.14,448.97 449.57,448.52 450.01,448.09 450.45,447.67 450.89,447.27 451.32,446.89 451.76,446.54 452.20,446.21 452.63,445.92 453.07,445.67 453.51,445.45 453.94,445.28 454.38,445.14 454.82,445.05 455.26,445.00 455.69,444.99 456.13,445.02 456.57,445.10 457.00,445.22 457.44,445.38 457.88,445.57 458.31,445.81 458.75,446.07 459.19,446.37 459.63,446.70 460.06,447.05 460.50,447.42 460.94,447.82 461.37,448.22 461.81,448.64 462.25,449.06 462.69,449.49 463.12,449.92 463.56,450.34 464.00,450.75 464.43,451.15 464.87,451.53 465.31,451.90 465.74,452.24 466.18,452.56 466.62,452.86 467.06,453.12 467.49,453.35 467.93,453.55 468.37,453.71 468.80,453.84 469.24,453.93 469.68,453.98 470.11,454.00 470.55,453.98 470.99,453.93 471.42,453.84 471.86,453.72 472.30,453.57 472.74,453.39 473.17,453.18 473.61,452.95 474.05,452.69 474.48,452.42 474.92,452.13 475.36,451.83 475.79,451.52 476.23,451.20 476.67,450.88 477.11,450.55 477.54,450.23 477.98,449.92 478.42,449.62 478.85,449.33 479.29,449.05 479.73,448.79 480.16,448.55 480.60,448.34 481.04,448.15 481.48,447.98 481.91,447.85 482.35,447.74 482.79,447.66 483.22,447.61 483.66,447.59 484.10,447.60 484.53,447.65 484.97,447.72 485.41,447.82 485.85,447.95 486.28,448.11 486.72,448.29 487.16,448.49 487.59,448.72 488.03,448.96 488.47,449.22 488.90,449.49 489.34,449.78 489.78,450.07 490.22,450.37 490.65,450.67 491.09,450.98 491.53,451.28 491.96,451.57 492.40,451.86 492.84,452.14 493.27,452.41 493.71,452.66 494.15,452.89 494.59,453.11 495.02,453.30 495.46,453.47 495.90,453.62 496.33,453.75 496.77,453.85 497.21,453.93 497.64,453.97 498.08,454.00 498.52,454.00 498.96,453.97 499.39,453.91 499.83,453.84 500.27,453.74 500.70,453.62 501.14,453.48 501.58,453.32 502.01,453.15 502.45,452.96 502.89,452.76 503.33,452.54 503.76,452.32 504.20,452.10" fill="none" stroke="#4c72b0" stroke-width="1.5" stroke-linejoin="round"/>
<polyline points="329.40,396.80 329.84,397.10 330.27,397.40 330.71,397.70 331.15,398.00 331.58,398.30 332.02,398.59 332.46,398.88 332.90,399.17 333.33,399.46 333.77,399.75 334.21,400.04 334.64,400.32 335.08,400.61 335.52,400.89 335.95,401.17 336.39,401.45 336.83,401.73 337.27,402.00 337.70,402.28 338.14,402.55 338.58,402.82 339.01,403.10 339.45,403.36 339.89,403.63 340.32,403.90 340.76,404.16 341.20,404.43 341.64,404.69 342.07,404.95 342.51,405.21 342.95,405.47 343.38,405.72 343.82,405.98 344.26,406.23 344.69,406.48 345.13,406.74 345.57,406.99 346.01,407.23 346.44,407.48 346.88,407.73 347.32,407.97 347.75,408.22 348.19,408.46 348.63,408.70 349.06,408.94 349.50,409.18 349.94,409.41 350.38,409.65 350.81,409.88 351.25,410.12 351.69,410.35 352.12,410.58 352.56,410.81 353.00,411.04 353.44,411.26 353.87,411.49 354.31,411.71 354.75,411.94 355.18,412.16 355.62,412.38 356.06,412.60 356.49,412.82 356.93,413.04 357.37,413.25 357.81,413.47 358.24,413.68 358.68,413.90 359.12,414.11 359.55,414.32 359.99,414.53 360.43,414.74 360.86,414.95 361.30,415.15 361.74,415.36 362.17,415.56 362.61,415.76 363.05,415.97 363.49,416.17 363.92,416.37 364.36,416.57 364.80,416.76 365.23,416.96 365.67,417.16 366.11,417.35 366.54,417.55 366.98,417.74 367.42,417.93 367.86,418.12 368.29,418.31 368.73,418.50 369.17,418.69 369.60,418.87 370.04,419.06 370.48,419.24 370.91,419.43 371.35,419.61 371.79,419.79 372.23,419.97 372.66,420.15 373.10,420.33 373.54,420.51 373.97,420.69 374.41,420.86 374.85,421.04 375.28,421.21 375.72,421.39 376.16,421.56 376.60,421.73 377.03,421.90 377.47,422.07 377.91,422.24 378.34,422.41 378.78,422.57 379.22,422.74 379.65,422.90 380.09,423.07 380.53,423.23 380.97,423.40 381.40,423.56 381.84,423.72 382.28,423.88 382.71,424.04 383.15,424.20 383.59,424.35 384.02,424.51 384.46,424.67 384.90,424.82 385.34,424.98 385.77,425.13 386.21,425.28 386.65,425.43 387.08,425.58 387.52,425.73 387.96,425.88 388.39,426.03 388.83,426.18 389.27,426.33 389.71,426.47 390.14,426.62 390.58,426.76 391.02,426.91 391.45,427.05 391.89,427.19 392.33,427.33 392.76,427.48 393.20,427.62 393.64,427.76 394.08,427.89 394.51,428.03 394.95,428.17 395.39,428.31 395.82,428.44 396.26,428.58 396.70,428.71 397.13,428.85 397.57,428.98 398.01,429.11 398.45,429.24 398.88,429.37 399.32,429.50 399.76,429.63 400.19,429.76 400.63,429.89 401.07,430.02 401.50,430.14 401.94,430.27 402.38,430.40 402.82,430.52 403.25,430.64 403.69,430.77 404.13,430.89 404.56,431.01 405.00,431.13 405.44,431.25 405.88,431.38 406.31,431.49 406.75,431.61 407.19,431.73 407.62,431.85 408.06,431.97 408.50,432.08 408.93,432.20 409.37,432.31 409.81,432.43 410.25,432.54 410.68,432.66 411.12,432.77 411.56,432.88 411.99,432.99 412.43,433.10 412.87,433.21 413.30,433.32 413.74,433.43 414.18,433.54 414.62,433.65 415.05,433.76 415.49,433.87 415.93,433.97 416.36,434.08 416.80,434.18 417.24,434.29 417.67,434.39 418.11,434.50 418.55,434.60 418.99,434.70 419.42,434.80 419.86,434.90 420.30,435.01 420.73,435.11 421.17,435.21 421.61,435.31 422.04,435.40 422.48,435.50 422.92,435.60 423.36,435.70 423.79,435.79 424.23,435.89 424.67,435.99 425.10,436.08 425.54,436.18 425.98,436.27 426.41,436.36 426.85,436.46 427.29,436.55 427.73,436.64 428.16,436.73 428.60,436.83 429.04,436.92 429.47,437.01 429.91,437.10 430.35,437.19 430.78,437.27 431.22,437.36 431.66,437.45 432.09,437.54 432.53,437.63 432.97,437.71 433.41,437.80 433.84,437.88 434.28,437.97 434.72,438.05 435.15,438.14 435.59,438.22 436.03,438.30 436.46,438.39 436.90,438.47 437.34,438.55 437.78,438.63 438.21,438.72 438.65,438.80 439.09,438.88 439.52,438.96 439.96,439.04 440.40,439.12 440.83,439.19 441.27,439.27 441.71,439.35 442.15,439.43 442.58,439.50 443.02,439.58 443.46,439.66 443.89,439.73 444.33,439.81 444.77,439.88 445.20,439.96 445.64,440.03 446.08,440.11 446.52,440.18 446.95,440.25 447.39,440.33 447.83,440.40 448.26,440.47 448.70,440.54 449.14,440.61 449.57,440.68 450.01,440.75 450.45,440.82 450.89,440.89 451.32,440.96 451.76,441.03 452.20,441.10 452.63,441.17 453.07,441.24 453.51,441.30 453.94,441.37 454.38,441.44 454.82,441.50 455.26,441.57 455.69,441.64 456.13,441.70 456.57,441.77 457.00,441.83 457.44,441.89 457.88,441.96 458.31,442.02 458.75,442.09 459.19,442.15 459.63,442.21 460.06,442.27 460.50,442.34 460.94,442.40 461.37,442.46 461.81,442.52 462.25,442.58 462.69,442.64 463.12,442.70 463.56,442.76 464.00,442.82 464.43,442.88 464.87,442.94 465.31,443.00 465.74,443.05 466.18,443.11 466.62,443.17 467.06,443.23 467.49,443.28 467.93,443.34 468.37,443.40 468.80,443.45 469.24,443.51 469.68,443.56 470.11,443.62 470.55,443.67 470.99,443.73 471.42,443.78 471.86,443.84 472.30,443.89 472.74,443.94 473.17,444.00 473.61,444.05 474.05,444.10 474.48,444.16 474.92,444.21 475.36,444.26 475.79,444.31 476.23,444.36 476.67,444.41 477.11,444.46 477.54,444.51 477.98,444.56 478.42,444.61 478.85,444.66 479.29,444.71 479.73,444.76 480.16,444.81 480.60,444.86 481.04,444.91 481.48,444.96 481.91,445.00 482.35,445.05 482.79,445.10 483.22,445.15 483.66,445.19 484.10,445.24 484.53,445.28 484.97,445.33 485.41,445.38 485.85,445.42 486.28,445.47 486.72,445.51 487.16,445.56 487.59,445.60 488.03,445.65 488.47,445.69 488.90,445.73 489.34,445.78 489.78,445.82 490.22,445.87 490.65,445.91 491.09,445.95 491.53,445.99 491.96,446.04 492.40,446.08 492.84,446.12 493.27,446.16 493.71,446.20 494.15,446.24 494.59,446.29 495.02,446.33 495.46,446.37 495.90,446.41 496.33,446.45 496.77,446.49 497.21,446.53 497.64,446.57 498.08,446.61 498.52,446.64 498.96,446.68 499.39,446.72 499.83,446.76 500.27,446.80 500.70,446.84 501.14,446.87 501.58,446.91 502.01,446.95 502.45,446.99 502.89,447.02 503.33,447.06 503.76,447.10 504.20,447.13" fill="none" stroke="#000" stroke-width="2" stroke-linejoin="round"/>
<line x1="324.4" y1="396.8" x2="329.4" y2="396.8" stroke="#262626" stroke-width="1.1"/>
<line x1="324.4" y1="454.0" x2="329.4" y2="454.0" stroke="#262626" stroke-width="1.1"/>
<text x="311.8" y="410.7" font-size="22" fill="#1e1e1e" text-anchor="start" textLength="10.6" lengthAdjust="spacingAndGlyphs">1</text>
<text x="311.6" y="454.4" font-size="22" fill="#1e1e1e" text-anchor="start" textLength="11.0" lengthAdjust="spacingAndGlyphs">0</text>
<rect x="329.4" y="240.4" width="174.8" height="221.29999999999998" fill="none" stroke="#262626" stroke-width="1.2"/>
<line x1="329.4" y1="461.7" x2="329.4" y2="466.7" stroke="#262626" stroke-width="1.1"/>
<line x1="416.8" y1="461.7" x2="416.8" y2="466.7" stroke="#262626" stroke-width="1.1"/>
<line x1="504.2" y1="461.7" x2="504.2" y2="466.7" stroke="#262626" stroke-width="1.1"/>
<text x="329.4" y="489.8" font-size="20" fill="#1e1e1e" text-anchor="middle" textLength="10.0" lengthAdjust="spacingAndGlyphs">0</text>
<text x="406.0" y="489.8" font-size="20" fill="#1e1e1e" text-anchor="start" textLength="21.5" lengthAdjust="spacingAndGlyphs">50</text>
<text x="488.2" y="489.8" font-size="20" fill="#1e1e1e" text-anchor="start" textLength="32.5" lengthAdjust="spacingAndGlyphs">100</text>
<text x="390.8" y="513.3" font-size="21.3" fill="#1e1e1e" text-anchor="start" textLength="7.0" lengthAdjust="spacingAndGlyphs">t</text>
<text x="408.3" y="513.3" font-size="21.3" fill="#1e1e1e" text-anchor="start" textLength="35.2" lengthAdjust="spacingAndGlyphs">(ns)</text>
<text x="265.5" y="251.2" font-size="18" fill="#1e1e1e" text-anchor="start" textLength="21.8" lengthAdjust="spacingAndGlyphs">(d)</text>
<g transform="translate(284.3,374.2) rotate(-90)">
<text x="0.0" y="0.0" font-size="24" fill="#1e1e1e" text-anchor="start" textLength="15.2" lengthAdjust="spacingAndGlyphs">|S</text>
<text x="15.6" y="4.2" font-size="14.5" fill="#1e1e1e" text-anchor="start" textLength="13.6" lengthAdjust="spacingAndGlyphs">21</text>
<text x="29.6" y="0.0" font-size="24" fill="#1e1e1e" text-anchor="start" textLength="4.4" lengthAdjust="spacingAndGlyphs">|</text>
<text x="36.6" y="-10.2" font-size="14.5" fill="#1e1e1e" text-anchor="start" textLength="9.0" lengthAdjust="spacingAndGlyphs">2</text>
</g>
<text x="369.5" y="267.3" font-size="17.5" fill="#1e1e1e" text-anchor="start" textLength="11.6" lengthAdjust="spacingAndGlyphs" font-style="italic">ω</text>
<text x="381.5" y="269.9" font-size="12.5" fill="#1e1e1e" text-anchor="start" textLength="10.6" lengthAdjust="spacingAndGlyphs" font-style="italic">m</text>
<text x="398.0" y="268.1" font-size="21" fill="#1e1e1e" text-anchor="start" textLength="12.2" lengthAdjust="spacingAndGlyphs">=</text>
<text x="415.0" y="267.3" font-size="17.5" fill="#1e1e1e" text-anchor="start" textLength="11.6" lengthAdjust="spacingAndGlyphs" font-style="italic">ω</text>
<text x="427.0" y="269.9" font-size="12.5" fill="#1e1e1e" text-anchor="start" textLength="5.2" lengthAdjust="spacingAndGlyphs" font-style="italic">c</text>
<text x="437.9" y="268.1" font-size="21" fill="#1e1e1e" text-anchor="start" textLength="11.6" lengthAdjust="spacingAndGlyphs">+</text>
<text x="454.5" y="267.3" font-size="17.5" fill="#1e1e1e" text-anchor="start" textLength="17.2" lengthAdjust="spacingAndGlyphs">10</text>
<text x="471.0" y="267.3" font-size="17.5" fill="#1e1e1e" text-anchor="start" textLength="14.8" lengthAdjust="spacingAndGlyphs">Δ</text>
<text x="486.0" y="267.3" font-size="17.5" fill="#1e1e1e" text-anchor="start" textLength="11.0" lengthAdjust="spacingAndGlyphs" font-style="italic">ω</text>
<text x="497.1" y="269.9" font-size="12.5" fill="#1e1e1e" text-anchor="start" textLength="5.0" lengthAdjust="spacingAndGlyphs" font-style="italic">c</text>
<text x="435.0" y="346.2" font-size="17.5" fill="#1e1e1e" text-anchor="start" textLength="11.6" lengthAdjust="spacingAndGlyphs" font-style="italic">ω</text>
<text x="447.0" y="348.8" font-size="12.5" fill="#1e1e1e" text-anchor="start" textLength="10.8" lengthAdjust="spacingAndGlyphs" font-style="italic">m</text>
<text x="464.4" y="347.0" font-size="21" fill="#1e1e1e" text-anchor="start" textLength="12.2" lengthAdjust="spacingAndGlyphs">=</text>
<text x="481.2" y="346.2" font-size="17.5" fill="#1e1e1e" text-anchor="start" textLength="11.6" lengthAdjust="spacingAndGlyphs" font-style="italic">ω</text>
<text x="493.0" y="348.8" font-size="12.5" fill="#1e1e1e" text-anchor="start" textLength="5.4" lengthAdjust="spacingAndGlyphs" font-style="italic">c</text>
<text x="361.0" y="410.3" font-size="17.5" fill="#1e1e1e" text-anchor="start" textLength="11.6" lengthAdjust="spacingAndGlyphs" font-style="italic">ω</text>
<text x="372.8" y="412.9" font-size="12.5" fill="#1e1e1e" text-anchor="start" textLength="11.0" lengthAdjust="spacingAndGlyphs" font-style="italic">m</text>
<text x="391.0" y="411.1" font-size="21" fill="#1e1e1e" text-anchor="start" textLength="12.2" lengthAdjust="spacingAndGlyphs">=</text>
<text x="408.6" y="410.3" font-size="17.5" fill="#1e1e1e" text-anchor="start" textLength="11.4" lengthAdjust="spacingAndGlyphs" font-style="italic">ω</text>
<text x="420.0" y="412.9" font-size="12.5" fill="#1e1e1e" text-anchor="start" textLength="5.6" lengthAdjust="spacingAndGlyphs" font-style="italic">c</text>
<text x="432.9" y="411.1" font-size="21" fill="#1e1e1e" text-anchor="start" textLength="13.0" lengthAdjust="spacingAndGlyphs">−</text>
<text x="452.2" y="410.3" font-size="17.5" fill="#1e1e1e" text-anchor="start" textLength="16.8" lengthAdjust="spacingAndGlyphs">10</text>
<text x="467.8" y="410.3" font-size="17.5" fill="#1e1e1e" text-anchor="start" textLength="15.0" lengthAdjust="spacingAndGlyphs">Δ</text>
<text x="483.0" y="410.3" font-size="17.5" fill="#1e1e1e" text-anchor="start" textLength="11.4" lengthAdjust="spacingAndGlyphs" font-style="italic">ω</text>
<text x="495.0" y="412.9" font-size="12.5" fill="#1e1e1e" text-anchor="start" textLength="6.0" lengthAdjust="spacingAndGlyphs" font-style="italic">c</text>
</g>
</svg>
</body></html>
